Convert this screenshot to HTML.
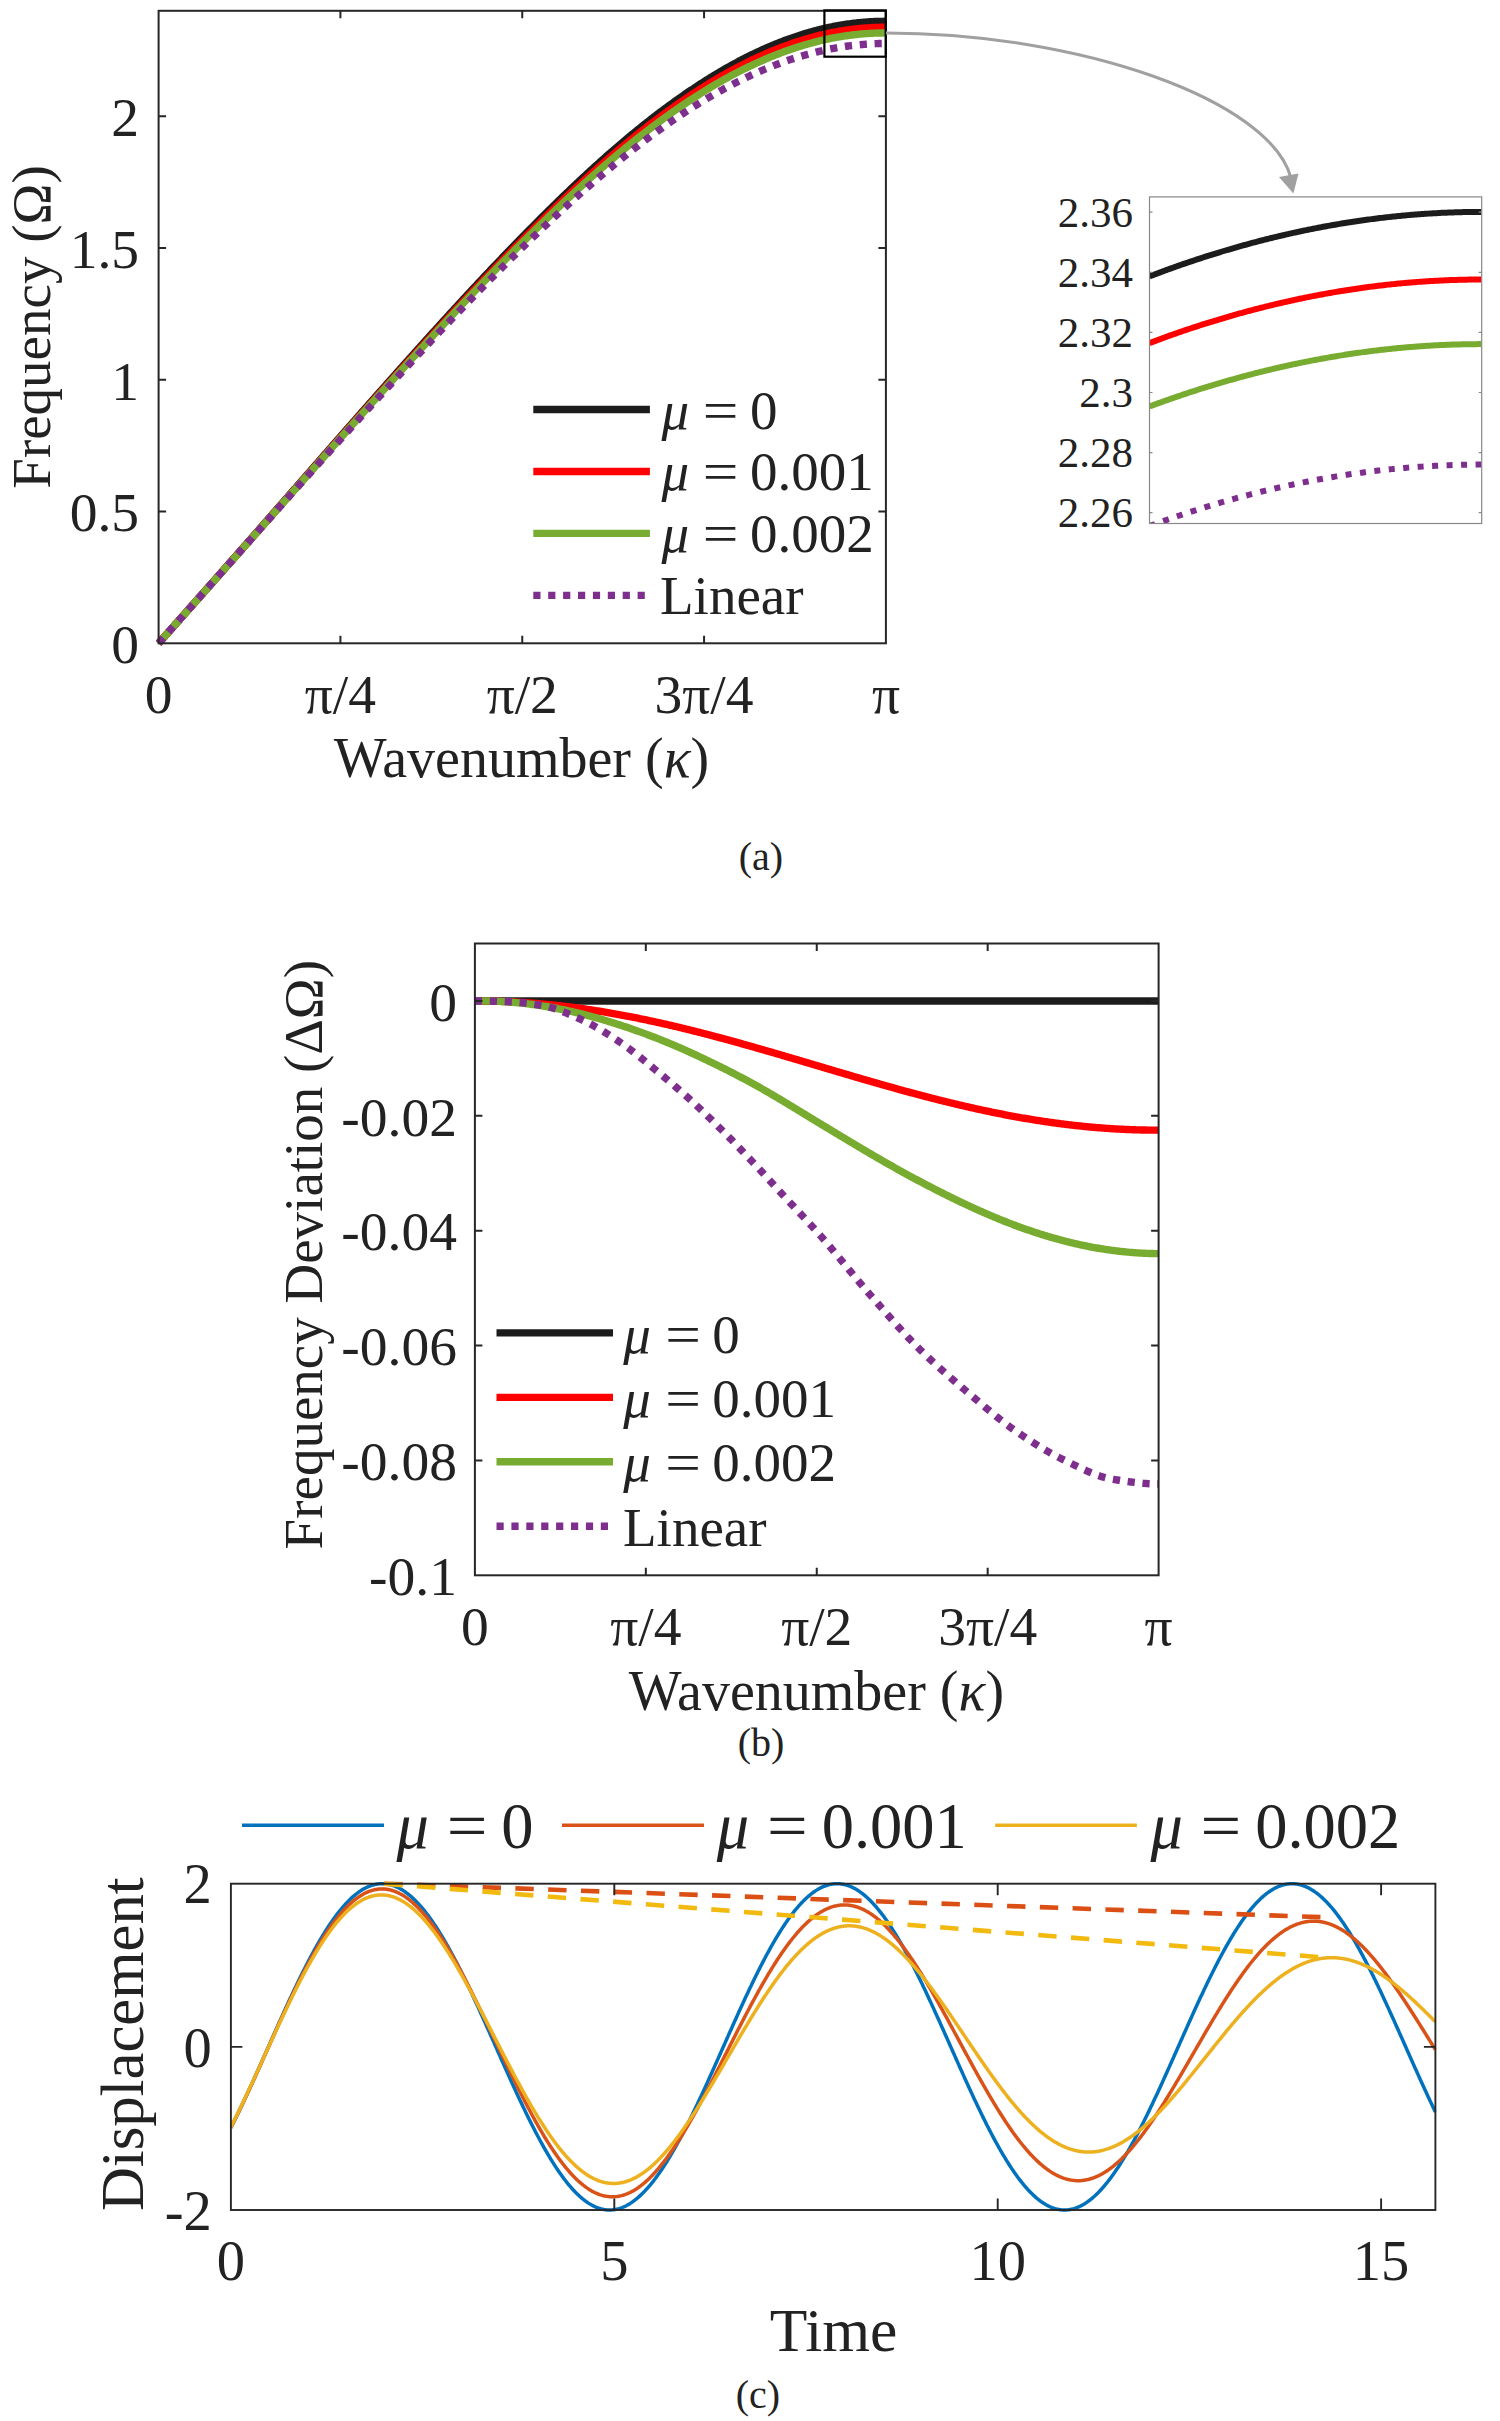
<!DOCTYPE html>
<html><head><meta charset="utf-8"><title>Figure</title>
<style>html,body{margin:0;padding:0;background:#fff;}svg{display:block;}text{font-family:"Liberation Serif", "Times New Roman", serif;fill:#222;}</style>
</head><body>
<svg width="1500" height="2421" viewBox="0 0 1500 2421">
<rect width="1500" height="2421" fill="#fff"/>
<defs>
<clipPath id="ca"><rect x="154.6" y="10.8" width="731.3" height="636.5"/></clipPath>
<clipPath id="ci"><rect x="1149.5" y="196.9" width="332.2" height="326.6"/></clipPath>
<clipPath id="cb"><rect x="470.9" y="943.5" width="687.7" height="631.8"/></clipPath>
<clipPath id="cc"><rect x="229.9" y="1880.7" width="1206.5" height="332.3"/></clipPath>
</defs>
<g clip-path="url(#ca)">
<polyline points="158.6,643.3 160.06,641.66 161.52,640.01 162.97,638.37 164.43,636.72 165.89,635.08 167.35,633.43 168.8,631.79 170.26,630.14 171.72,628.5 173.18,626.85 174.63,625.21 176.09,623.56 177.55,621.92 179.01,620.27 180.46,618.63 181.92,616.98 183.38,615.34 184.84,613.69 186.29,612.04 187.75,610.4 189.21,608.75 190.67,607.11 192.12,605.46 193.58,603.82 195.04,602.17 196.5,600.53 197.95,598.88 199.41,597.23 200.87,595.58 202.33,593.94 203.78,592.29 205.24,590.64 206.7,588.99 208.16,587.35 209.61,585.7 211.07,584.05 212.53,582.4 213.99,580.75 215.44,579.1 216.9,577.45 218.36,575.8 219.82,574.15 221.27,572.5 222.73,570.85 224.19,569.2 225.65,567.55 227.1,565.9 228.56,564.25 230.02,562.6 231.48,560.94 232.93,559.29 234.39,557.64 235.85,555.99 237.31,554.33 238.76,552.67 240.22,551.02 241.68,549.36 243.14,547.7 244.59,546.04 246.05,544.38 247.51,542.72 248.97,541.06 250.42,539.4 251.88,537.74 253.34,536.08 254.8,534.41 256.25,532.75 257.71,531.09 259.17,529.42 260.63,527.76 262.08,526.1 263.54,524.44 265,522.77 266.46,521.11 267.91,519.45 269.37,517.79 270.83,516.12 272.29,514.46 273.74,512.8 275.2,511.14 276.66,509.47 278.12,507.81 279.57,506.15 281.03,504.48 282.49,502.82 283.95,501.15 285.4,499.49 286.86,497.82 288.32,496.16 289.78,494.49 291.23,492.82 292.69,491.16 294.15,489.49 295.61,487.83 297.06,486.16 298.52,484.49 299.98,482.83 301.44,481.16 302.89,479.49 304.35,477.83 305.81,476.16 307.27,474.5 308.72,472.83 310.18,471.17 311.64,469.5 313.1,467.84 314.55,466.17 316.01,464.51 317.47,462.84 318.93,461.17 320.38,459.51 321.84,457.84 323.3,456.18 324.76,454.51 326.21,452.84 327.67,451.18 329.13,449.51 330.59,447.85 332.04,446.18 333.5,444.52 334.96,442.85 336.42,441.19 337.87,439.52 339.33,437.86 340.79,436.19 342.25,434.53 343.7,432.87 345.16,431.21 346.62,429.55 348.08,427.89 349.53,426.23 350.99,424.57 352.45,422.91 353.91,421.25 355.36,419.6 356.82,417.94 358.28,416.28 359.74,414.63 361.19,412.97 362.65,411.32 364.11,409.67 365.57,408.01 367.02,406.36 368.48,404.71 369.94,403.06 371.4,401.41 372.85,399.76 374.31,398.11 375.77,396.46 377.23,394.82 378.68,393.17 380.14,391.52 381.6,389.88 383.06,388.23 384.51,386.59 385.97,384.95 387.43,383.3 388.89,381.66 390.34,380.02 391.8,378.38 393.26,376.74 394.72,375.1 396.17,373.47 397.63,371.83 399.09,370.19 400.55,368.56 402.01,366.92 403.46,365.29 404.92,363.66 406.38,362.02 407.84,360.39 409.29,358.76 410.75,357.13 412.21,355.51 413.67,353.88 415.12,352.25 416.58,350.63 418.04,349.01 419.5,347.38 420.95,345.76 422.41,344.14 423.87,342.53 425.33,340.91 426.78,339.29 428.24,337.68 429.7,336.06 431.16,334.45 432.61,332.84 434.07,331.23 435.53,329.62 436.99,328.01 438.44,326.4 439.9,324.8 441.36,323.19 442.82,321.59 444.27,319.99 445.73,318.39 447.19,316.79 448.65,315.2 450.1,313.6 451.56,312.01 453.02,310.42 454.48,308.83 455.93,307.24 457.39,305.65 458.85,304.07 460.31,302.48 461.76,300.9 463.22,299.32 464.68,297.74 466.14,296.17 467.59,294.59 469.05,293.02 470.51,291.45 471.97,289.88 473.42,288.31 474.88,286.74 476.34,285.18 477.8,283.62 479.25,282.06 480.71,280.5 482.17,278.94 483.63,277.39 485.08,275.84 486.54,274.29 488,272.75 489.46,271.2 490.91,269.66 492.37,268.12 493.83,266.59 495.29,265.06 496.74,263.52 498.2,262 499.66,260.47 501.12,258.95 502.57,257.42 504.03,255.9 505.49,254.39 506.95,252.87 508.4,251.36 509.86,249.85 511.32,248.34 512.78,246.84 514.23,245.34 515.69,243.84 517.15,242.34 518.61,240.84 520.06,239.35 521.52,237.86 522.98,236.37 524.44,234.88 525.89,233.4 527.35,231.92 528.81,230.44 530.27,228.96 531.72,227.48 533.18,226.01 534.64,224.54 536.1,223.08 537.55,221.61 539.01,220.15 540.47,218.69 541.93,217.24 543.38,215.78 544.84,214.33 546.3,212.88 547.76,211.44 549.21,210 550.67,208.56 552.13,207.13 553.59,205.69 555.04,204.27 556.5,202.84 557.96,201.42 559.42,200 560.87,198.58 562.33,197.17 563.79,195.77 565.25,194.36 566.7,192.96 568.16,191.56 569.62,190.17 571.08,188.78 572.53,187.4 573.99,186.02 575.45,184.64 576.91,183.26 578.36,181.9 579.82,180.53 581.28,179.17 582.74,177.81 584.19,176.46 585.65,175.11 587.11,173.76 588.57,172.42 590.02,171.08 591.48,169.75 592.94,168.42 594.4,167.1 595.85,165.77 597.31,164.46 598.77,163.14 600.23,161.83 601.68,160.53 603.14,159.23 604.6,157.93 606.06,156.64 607.51,155.35 608.97,154.07 610.43,152.79 611.89,151.52 613.34,150.25 614.8,148.98 616.26,147.73 617.72,146.47 619.17,145.22 620.63,143.98 622.09,142.74 623.55,141.5 625,140.27 626.46,139.05 627.92,137.83 629.38,136.61 630.83,135.4 632.29,134.2 633.75,133 635.21,131.81 636.66,130.62 638.12,129.44 639.58,128.26 641.04,127.09 642.49,125.92 643.95,124.76 645.41,123.6 646.87,122.45 648.33,121.3 649.78,120.16 651.24,119.03 652.7,117.9 654.16,116.77 655.61,115.65 657.07,114.54 658.53,113.43 659.99,112.33 661.44,111.23 662.9,110.14 664.36,109.05 665.82,107.97 667.27,106.89 668.73,105.82 670.19,104.76 671.65,103.7 673.1,102.64 674.56,101.6 676.02,100.55 677.48,99.52 678.93,98.48 680.39,97.46 681.85,96.44 683.31,95.42 684.76,94.41 686.22,93.41 687.68,92.41 689.14,91.42 690.59,90.43 692.05,89.45 693.51,88.48 694.97,87.51 696.42,86.54 697.88,85.59 699.34,84.63 700.8,83.69 702.25,82.75 703.71,81.82 705.17,80.89 706.63,79.97 708.08,79.05 709.54,78.14 711,77.24 712.46,76.35 713.91,75.46 715.37,74.57 716.83,73.7 718.29,72.83 719.74,71.96 721.2,71.11 722.66,70.26 724.12,69.41 725.57,68.58 727.03,67.75 728.49,66.93 729.95,66.11 731.4,65.3 732.86,64.5 734.32,63.7 735.78,62.92 737.23,62.14 738.69,61.36 740.15,60.59 741.61,59.83 743.06,59.08 744.52,58.33 745.98,57.59 747.44,56.86 748.89,56.13 750.35,55.41 751.81,54.7 753.27,53.99 754.72,53.29 756.18,52.6 757.64,51.91 759.1,51.24 760.55,50.56 762.01,49.9 763.47,49.24 764.93,48.6 766.38,47.95 767.84,47.32 769.3,46.69 770.76,46.07 772.21,45.46 773.67,44.85 775.13,44.25 776.59,43.66 778.04,43.08 779.5,42.51 780.96,41.94 782.42,41.38 783.87,40.82 785.33,40.28 786.79,39.74 788.25,39.21 789.7,38.68 791.16,38.17 792.62,37.66 794.08,37.15 795.53,36.66 796.99,36.17 798.45,35.69 799.91,35.21 801.36,34.75 802.82,34.29 804.28,33.83 805.74,33.39 807.19,32.95 808.65,32.52 810.11,32.1 811.57,31.69 813.02,31.28 814.48,30.89 815.94,30.5 817.4,30.12 818.85,29.74 820.31,29.38 821.77,29.02 823.23,28.67 824.68,28.33 826.14,28 827.6,27.68 829.06,27.36 830.51,27.05 831.97,26.76 833.43,26.47 834.89,26.19 836.34,25.91 837.8,25.65 839.26,25.4 840.72,25.15 842.17,24.91 843.63,24.67 845.09,24.45 846.55,24.23 848,24.02 849.46,23.82 850.92,23.62 852.38,23.44 853.83,23.26 855.29,23.09 856.75,22.92 858.21,22.77 859.66,22.62 861.12,22.48 862.58,22.35 864.04,22.22 865.49,22.11 866.95,22 868.41,21.9 869.87,21.8 871.32,21.72 872.78,21.64 874.24,21.57 875.7,21.51 877.15,21.46 878.61,21.42 880.07,21.38 881.53,21.35 882.98,21.33 884.44,21.32 885.9,21.31" fill="none" stroke="#1c1c1c" stroke-width="7.4" stroke-linejoin="round" />
<polyline points="158.6,643.3 160.06,641.66 161.52,640.01 162.97,638.37 164.43,636.72 165.89,635.08 167.35,633.44 168.8,631.79 170.26,630.15 171.72,628.5 173.18,626.86 174.63,625.22 176.09,623.57 177.55,621.93 179.01,620.28 180.46,618.64 181.92,617 183.38,615.35 184.84,613.71 186.29,612.07 187.75,610.42 189.21,608.78 190.67,607.14 192.12,605.49 193.58,603.85 195.04,602.21 196.5,600.56 197.95,598.92 199.41,597.28 200.87,595.63 202.33,593.99 203.78,592.35 205.24,590.7 206.7,589.06 208.16,587.41 209.61,585.77 211.07,584.12 212.53,582.48 213.99,580.83 215.44,579.19 216.9,577.54 218.36,575.9 219.82,574.25 221.27,572.61 222.73,570.96 224.19,569.32 225.65,567.67 227.1,566.03 228.56,564.38 230.02,562.74 231.48,561.09 232.93,559.44 234.39,557.8 235.85,556.15 237.31,554.5 238.76,552.85 240.22,551.2 241.68,549.55 243.14,547.9 244.59,546.24 246.05,544.59 247.51,542.94 248.97,541.28 250.42,539.63 251.88,537.97 253.34,536.32 254.8,534.66 256.25,533.01 257.71,531.35 259.17,529.7 260.63,528.04 262.08,526.39 263.54,524.74 265,523.08 266.46,521.43 267.91,519.77 269.37,518.12 270.83,516.47 272.29,514.81 273.74,513.16 275.2,511.51 276.66,509.85 278.12,508.2 279.57,506.54 281.03,504.89 282.49,503.23 283.95,501.58 285.4,499.92 286.86,498.27 288.32,496.61 289.78,494.95 291.23,493.3 292.69,491.64 294.15,489.99 295.61,488.33 297.06,486.67 298.52,485.02 299.98,483.36 301.44,481.71 302.89,480.05 304.35,478.4 305.81,476.74 307.27,475.09 308.72,473.43 310.18,471.78 311.64,470.13 313.1,468.47 314.55,466.82 316.01,465.17 317.47,463.51 318.93,461.86 320.38,460.2 321.84,458.55 323.3,456.9 324.76,455.24 326.21,453.59 327.67,451.93 329.13,450.28 330.59,448.63 332.04,446.97 333.5,445.32 334.96,443.67 336.42,442.02 337.87,440.37 339.33,438.72 340.79,437.07 342.25,435.42 343.7,433.77 345.16,432.12 346.62,430.47 348.08,428.82 349.53,427.18 350.99,425.53 352.45,423.89 353.91,422.25 355.36,420.6 356.82,418.96 358.28,417.32 359.74,415.68 361.19,414.04 362.65,412.4 364.11,410.76 365.57,409.12 367.02,407.48 368.48,405.85 369.94,404.21 371.4,402.58 372.85,400.94 374.31,399.31 375.77,397.68 377.23,396.04 378.68,394.41 380.14,392.78 381.6,391.15 383.06,389.52 384.51,387.89 385.97,386.27 387.43,384.64 388.89,383.01 390.34,381.39 391.8,379.76 393.26,378.14 394.72,376.52 396.17,374.89 397.63,373.27 399.09,371.65 400.55,370.03 402.01,368.42 403.46,366.8 404.92,365.18 406.38,363.57 407.84,361.95 409.29,360.34 410.75,358.73 412.21,357.12 413.67,355.51 415.12,353.9 416.58,352.29 418.04,350.68 419.5,349.08 420.95,347.47 422.41,345.87 423.87,344.27 425.33,342.67 426.78,341.07 428.24,339.47 429.7,337.87 431.16,336.28 432.61,334.68 434.07,333.09 435.53,331.5 436.99,329.91 438.44,328.32 439.9,326.73 441.36,325.14 442.82,323.56 444.27,321.98 445.73,320.39 447.19,318.81 448.65,317.24 450.1,315.66 451.56,314.08 453.02,312.51 454.48,310.94 455.93,309.37 457.39,307.8 458.85,306.23 460.31,304.67 461.76,303.1 463.22,301.54 464.68,299.98 466.14,298.42 467.59,296.86 469.05,295.31 470.51,293.75 471.97,292.2 473.42,290.65 474.88,289.1 476.34,287.56 477.8,286.02 479.25,284.47 480.71,282.94 482.17,281.4 483.63,279.86 485.08,278.33 486.54,276.8 488,275.28 489.46,273.75 490.91,272.23 492.37,270.71 493.83,269.19 495.29,267.68 496.74,266.16 498.2,264.65 499.66,263.15 501.12,261.64 502.57,260.14 504.03,258.64 505.49,257.14 506.95,255.64 508.4,254.15 509.86,252.66 511.32,251.17 512.78,249.68 514.23,248.2 515.69,246.72 517.15,245.24 518.61,243.76 520.06,242.29 521.52,240.81 522.98,239.34 524.44,237.87 525.89,236.41 527.35,234.95 528.81,233.49 530.27,232.03 531.72,230.57 533.18,229.12 534.64,227.67 536.1,226.22 537.55,224.77 539.01,223.33 540.47,221.89 541.93,220.45 543.38,219.02 544.84,217.59 546.3,216.16 547.76,214.73 549.21,213.31 550.67,211.89 552.13,210.47 553.59,209.06 555.04,207.65 556.5,206.24 557.96,204.84 559.42,203.44 560.87,202.04 562.33,200.65 563.79,199.26 565.25,197.87 566.7,196.49 568.16,195.11 569.62,193.74 571.08,192.37 572.53,191 573.99,189.64 575.45,188.28 576.91,186.92 578.36,185.57 579.82,184.23 581.28,182.88 582.74,181.54 584.19,180.21 585.65,178.88 587.11,177.55 588.57,176.23 590.02,174.91 591.48,173.59 592.94,172.28 594.4,170.97 595.85,169.67 597.31,168.37 598.77,167.07 600.23,165.78 601.68,164.49 603.14,163.21 604.6,161.93 606.06,160.65 607.51,159.38 608.97,158.12 610.43,156.86 611.89,155.6 613.34,154.35 614.8,153.1 616.26,151.86 617.72,150.62 619.17,149.39 620.63,148.16 622.09,146.94 623.55,145.72 625,144.51 626.46,143.3 627.92,142.1 629.38,140.9 630.83,139.71 632.29,138.52 633.75,137.34 635.21,136.16 636.66,134.99 638.12,133.83 639.58,132.66 641.04,131.51 642.49,130.36 643.95,129.21 645.41,128.07 646.87,126.93 648.33,125.8 649.78,124.68 651.24,123.56 652.7,122.45 654.16,121.34 655.61,120.23 657.07,119.13 658.53,118.04 659.99,116.95 661.44,115.87 662.9,114.79 664.36,113.72 665.82,112.66 667.27,111.6 668.73,110.54 670.19,109.49 671.65,108.45 673.1,107.41 674.56,106.37 676.02,105.35 677.48,104.32 678.93,103.31 680.39,102.29 681.85,101.29 683.31,100.29 684.76,99.29 686.22,98.3 687.68,97.32 689.14,96.34 690.59,95.37 692.05,94.4 693.51,93.44 694.97,92.48 696.42,91.53 697.88,90.59 699.34,89.65 700.8,88.72 702.25,87.79 703.71,86.87 705.17,85.96 706.63,85.05 708.08,84.15 709.54,83.25 711,82.36 712.46,81.48 713.91,80.6 715.37,79.73 716.83,78.87 718.29,78.01 719.74,77.16 721.2,76.32 722.66,75.48 724.12,74.65 725.57,73.82 727.03,73.01 728.49,72.2 729.95,71.39 731.4,70.59 732.86,69.8 734.32,69.02 735.78,68.24 737.23,67.47 738.69,66.71 740.15,65.95 741.61,65.2 743.06,64.46 744.52,63.72 745.98,62.99 747.44,62.27 748.89,61.55 750.35,60.84 751.81,60.14 753.27,59.45 754.72,58.76 756.18,58.07 757.64,57.4 759.1,56.73 760.55,56.07 762.01,55.42 763.47,54.77 764.93,54.13 766.38,53.5 767.84,52.87 769.3,52.25 770.76,51.64 772.21,51.04 773.67,50.44 775.13,49.85 776.59,49.27 778.04,48.69 779.5,48.13 780.96,47.57 782.42,47.02 783.87,46.47 785.33,45.93 786.79,45.4 788.25,44.88 789.7,44.36 791.16,43.85 792.62,43.35 794.08,42.85 795.53,42.36 796.99,41.88 798.45,41.41 799.91,40.94 801.36,40.48 802.82,40.03 804.28,39.58 805.74,39.14 807.19,38.71 808.65,38.29 810.11,37.87 811.57,37.47 813.02,37.07 814.48,36.68 815.94,36.29 817.4,35.92 818.85,35.55 820.31,35.19 821.77,34.84 823.23,34.49 824.68,34.16 826.14,33.83 827.6,33.51 829.06,33.2 830.51,32.9 831.97,32.61 833.43,32.32 834.89,32.04 836.34,31.78 837.8,31.52 839.26,31.27 840.72,31.02 842.17,30.78 843.63,30.55 845.09,30.33 846.55,30.12 848,29.91 849.46,29.71 850.92,29.52 852.38,29.34 853.83,29.16 855.29,28.99 856.75,28.83 858.21,28.68 859.66,28.53 861.12,28.39 862.58,28.26 864.04,28.14 865.49,28.02 866.95,27.92 868.41,27.82 869.87,27.73 871.32,27.64 872.78,27.57 874.24,27.5 875.7,27.44 877.15,27.39 878.61,27.34 880.07,27.31 881.53,27.28 882.98,27.26 884.44,27.25 885.9,27.24" fill="none" stroke="#ff0000" stroke-width="7.4" stroke-linejoin="round" />
<polyline points="158.6,643.3 160.06,641.66 161.52,640.01 162.97,638.37 164.43,636.72 165.89,635.08 167.35,633.43 168.8,631.79 170.26,630.14 171.72,628.5 173.18,626.86 174.63,625.21 176.09,623.57 177.55,621.93 179.01,620.28 180.46,618.64 181.92,617 183.38,615.35 184.84,613.71 186.29,612.07 187.75,610.43 189.21,608.79 190.67,607.14 192.12,605.5 193.58,603.86 195.04,602.22 196.5,600.58 197.95,598.94 199.41,597.3 200.87,595.66 202.33,594.01 203.78,592.37 205.24,590.73 206.7,589.09 208.16,587.45 209.61,585.8 211.07,584.16 212.53,582.52 213.99,580.88 215.44,579.24 216.9,577.59 218.36,575.95 219.82,574.31 221.27,572.67 222.73,571.03 224.19,569.39 225.65,567.74 227.1,566.1 228.56,564.46 230.02,562.82 231.48,561.18 232.93,559.54 234.39,557.9 235.85,556.25 237.31,554.61 238.76,552.96 240.22,551.32 241.68,549.67 243.14,548.02 244.59,546.38 246.05,544.73 247.51,543.08 248.97,541.43 250.42,539.78 251.88,538.13 253.34,536.49 254.8,534.84 256.25,533.19 257.71,531.54 259.17,529.89 260.63,528.24 262.08,526.59 263.54,524.94 265,523.29 266.46,521.65 267.91,520 269.37,518.35 270.83,516.71 272.29,515.06 273.74,513.41 275.2,511.77 276.66,510.12 278.12,508.47 279.57,506.82 281.03,505.18 282.49,503.53 283.95,501.88 285.4,500.23 286.86,498.59 288.32,496.94 289.78,495.29 291.23,493.64 292.69,491.99 294.15,490.35 295.61,488.7 297.06,487.05 298.52,485.4 299.98,483.76 301.44,482.11 302.89,480.46 304.35,478.82 305.81,477.17 307.27,475.52 308.72,473.88 310.18,472.23 311.64,470.59 313.1,468.94 314.55,467.3 316.01,465.65 317.47,464.01 318.93,462.37 320.38,460.72 321.84,459.08 323.3,457.43 324.76,455.79 326.21,454.14 327.67,452.5 329.13,450.85 330.59,449.21 332.04,447.57 333.5,445.92 334.96,444.28 336.42,442.64 337.87,441 339.33,439.36 340.79,437.72 342.25,436.08 343.7,434.44 345.16,432.8 346.62,431.17 348.08,429.53 349.53,427.89 350.99,426.26 352.45,424.63 353.91,422.99 355.36,421.36 356.82,419.73 358.28,418.1 359.74,416.47 361.19,414.84 362.65,413.21 364.11,411.59 365.57,409.96 367.02,408.33 368.48,406.71 369.94,405.09 371.4,403.46 372.85,401.84 374.31,400.22 375.77,398.6 377.23,396.98 378.68,395.36 380.14,393.74 381.6,392.12 383.06,390.51 384.51,388.89 385.97,387.28 387.43,385.66 388.89,384.05 390.34,382.44 391.8,380.83 393.26,379.22 394.72,377.61 396.17,376 397.63,374.39 399.09,372.78 400.55,371.18 402.01,369.57 403.46,367.97 404.92,366.37 406.38,364.76 407.84,363.16 409.29,361.56 410.75,359.97 412.21,358.37 413.67,356.77 415.12,355.18 416.58,353.58 418.04,351.99 419.5,350.4 420.95,348.81 422.41,347.22 423.87,345.63 425.33,344.05 426.78,342.46 428.24,340.88 429.7,339.3 431.16,337.72 432.61,336.14 434.07,334.56 435.53,332.98 436.99,331.41 438.44,329.83 439.9,328.26 441.36,326.69 442.82,325.12 444.27,323.55 445.73,321.99 447.19,320.42 448.65,318.86 450.1,317.3 451.56,315.74 453.02,314.18 454.48,312.63 455.93,311.08 457.39,309.52 458.85,307.97 460.31,306.42 461.76,304.88 463.22,303.33 464.68,301.79 466.14,300.25 467.59,298.71 469.05,297.17 470.51,295.64 471.97,294.1 473.42,292.57 474.88,291.04 476.34,289.52 477.8,287.99 479.25,286.47 480.71,284.95 482.17,283.43 483.63,281.92 485.08,280.4 486.54,278.89 488,277.38 489.46,275.88 490.91,274.38 492.37,272.88 493.83,271.38 495.29,269.88 496.74,268.39 498.2,266.9 499.66,265.41 501.12,263.92 502.57,262.44 504.03,260.96 505.49,259.48 506.95,258.01 508.4,256.53 509.86,255.06 511.32,253.59 512.78,252.13 514.23,250.66 515.69,249.2 517.15,247.74 518.61,246.28 520.06,244.83 521.52,243.37 522.98,241.92 524.44,240.47 525.89,239.03 527.35,237.58 528.81,236.14 530.27,234.7 531.72,233.27 533.18,231.83 534.64,230.4 536.1,228.97 537.55,227.55 539.01,226.12 540.47,224.7 541.93,223.28 543.38,221.87 544.84,220.46 546.3,219.05 547.76,217.64 549.21,216.24 550.67,214.84 552.13,213.44 553.59,212.04 555.04,210.65 556.5,209.27 557.96,207.88 559.42,206.5 560.87,205.12 562.33,203.75 563.79,202.38 565.25,201.01 566.7,199.65 568.16,198.29 569.62,196.93 571.08,195.58 572.53,194.23 573.99,192.89 575.45,191.55 576.91,190.21 578.36,188.88 579.82,187.55 581.28,186.23 582.74,184.91 584.19,183.59 585.65,182.28 587.11,180.97 588.57,179.66 590.02,178.36 591.48,177.07 592.94,175.77 594.4,174.48 595.85,173.2 597.31,171.91 598.77,170.64 600.23,169.36 601.68,168.09 603.14,166.83 604.6,165.57 606.06,164.31 607.51,163.06 608.97,161.81 610.43,160.57 611.89,159.33 613.34,158.1 614.8,156.87 616.26,155.64 617.72,154.42 619.17,153.21 620.63,152 622.09,150.79 623.55,149.59 625,148.39 626.46,147.2 627.92,146.02 629.38,144.84 630.83,143.66 632.29,142.49 633.75,141.32 635.21,140.16 636.66,139.01 638.12,137.86 639.58,136.71 641.04,135.57 642.49,134.44 643.95,133.31 645.41,132.19 646.87,131.07 648.33,129.95 649.78,128.84 651.24,127.74 652.7,126.64 654.16,125.55 655.61,124.46 657.07,123.38 658.53,122.3 659.99,121.23 661.44,120.16 662.9,119.1 664.36,118.05 665.82,117 667.27,115.95 668.73,114.91 670.19,113.88 671.65,112.85 673.1,111.82 674.56,110.81 676.02,109.79 677.48,108.78 678.93,107.78 680.39,106.79 681.85,105.8 683.31,104.81 684.76,103.83 686.22,102.86 687.68,101.89 689.14,100.92 690.59,99.96 692.05,99.01 693.51,98.06 694.97,97.12 696.42,96.19 697.88,95.26 699.34,94.33 700.8,93.42 702.25,92.5 703.71,91.6 705.17,90.7 706.63,89.8 708.08,88.91 709.54,88.03 711,87.16 712.46,86.29 713.91,85.42 715.37,84.57 716.83,83.72 718.29,82.87 719.74,82.03 721.2,81.2 722.66,80.38 724.12,79.56 725.57,78.75 727.03,77.94 728.49,77.14 729.95,76.35 731.4,75.57 732.86,74.79 734.32,74.02 735.78,73.25 737.23,72.5 738.69,71.74 740.15,71 741.61,70.26 743.06,69.53 744.52,68.8 745.98,68.08 747.44,67.37 748.89,66.67 750.35,65.97 751.81,65.28 753.27,64.59 754.72,63.91 756.18,63.24 757.64,62.58 759.1,61.92 760.55,61.27 762.01,60.62 763.47,59.99 764.93,59.36 766.38,58.73 767.84,58.12 769.3,57.51 770.76,56.91 772.21,56.31 773.67,55.73 775.13,55.15 776.59,54.57 778.04,54.01 779.5,53.45 780.96,52.9 782.42,52.35 783.87,51.82 785.33,51.29 786.79,50.77 788.25,50.25 789.7,49.74 791.16,49.24 792.62,48.75 794.08,48.26 795.53,47.78 796.99,47.3 798.45,46.83 799.91,46.37 801.36,45.92 802.82,45.48 804.28,45.04 805.74,44.61 807.19,44.18 808.65,43.77 810.11,43.36 811.57,42.96 813.02,42.56 814.48,42.18 815.94,41.8 817.4,41.43 818.85,41.07 820.31,40.71 821.77,40.37 823.23,40.03 824.68,39.7 826.14,39.38 827.6,39.06 829.06,38.76 830.51,38.46 831.97,38.17 833.43,37.89 834.89,37.62 836.34,37.36 837.8,37.1 839.26,36.86 840.72,36.62 842.17,36.38 843.63,36.16 845.09,35.94 846.55,35.73 848,35.52 849.46,35.33 850.92,35.14 852.38,34.96 853.83,34.79 855.29,34.62 856.75,34.46 858.21,34.31 859.66,34.17 861.12,34.03 862.58,33.9 864.04,33.78 865.49,33.67 866.95,33.57 868.41,33.47 869.87,33.38 871.32,33.3 872.78,33.22 874.24,33.16 875.7,33.1 877.15,33.05 878.61,33.01 880.07,32.97 881.53,32.94 882.98,32.93 884.44,32.91 885.9,32.91" fill="none" stroke="#77ac30" stroke-width="7.4" stroke-linejoin="round" />
<polyline points="158.6,643.3 160.06,641.66 161.52,640.01 162.97,638.37 164.43,636.72 165.89,635.08 167.35,633.44 168.8,631.79 170.26,630.15 171.72,628.5 173.18,626.86 174.63,625.22 176.09,623.57 177.55,621.93 179.01,620.29 180.46,618.64 181.92,617 183.38,615.35 184.84,613.71 186.29,612.07 187.75,610.42 189.21,608.78 190.67,607.14 192.12,605.49 193.58,603.85 195.04,602.21 196.5,600.56 197.95,598.92 199.41,597.28 200.87,595.64 202.33,593.99 203.78,592.35 205.24,590.71 206.7,589.07 208.16,587.42 209.61,585.78 211.07,584.14 212.53,582.5 213.99,580.86 215.44,579.21 216.9,577.57 218.36,575.93 219.82,574.29 221.27,572.65 222.73,571.01 224.19,569.37 225.65,567.73 227.1,566.09 228.56,564.44 230.02,562.8 231.48,561.16 232.93,559.52 234.39,557.88 235.85,556.25 237.31,554.61 238.76,552.97 240.22,551.33 241.68,549.69 243.14,548.05 244.59,546.41 246.05,544.77 247.51,543.14 248.97,541.5 250.42,539.86 251.88,538.22 253.34,536.59 254.8,534.95 256.25,533.31 257.71,531.68 259.17,530.04 260.63,528.4 262.08,526.77 263.54,525.13 265,523.5 266.46,521.86 267.91,520.23 269.37,518.59 270.83,516.96 272.29,515.33 273.74,513.69 275.2,512.06 276.66,510.43 278.12,508.8 279.57,507.16 281.03,505.53 282.49,503.9 283.95,502.27 285.4,500.64 286.86,499.01 288.32,497.38 289.78,495.75 291.23,494.12 292.69,492.49 294.15,490.86 295.61,489.24 297.06,487.61 298.52,485.98 299.98,484.35 301.44,482.73 302.89,481.1 304.35,479.48 305.81,477.85 307.27,476.23 308.72,474.6 310.18,472.98 311.64,471.36 313.1,469.73 314.55,468.11 316.01,466.49 317.47,464.87 318.93,463.25 320.38,461.63 321.84,460.01 323.3,458.39 324.76,456.77 326.21,455.15 327.67,453.53 329.13,451.92 330.59,450.3 332.04,448.69 333.5,447.07 334.96,445.46 336.42,443.84 337.87,442.23 339.33,440.62 340.79,439.01 342.25,437.39 343.7,435.78 345.16,434.17 346.62,432.56 348.08,430.96 349.53,429.35 350.99,427.74 352.45,426.13 353.91,424.53 355.36,422.92 356.82,421.32 358.28,419.72 359.74,418.11 361.19,416.51 362.65,414.91 364.11,413.31 365.57,411.71 367.02,410.11 368.48,408.52 369.94,406.92 371.4,405.32 372.85,403.73 374.31,402.13 375.77,400.54 377.23,398.95 378.68,397.36 380.14,395.77 381.6,394.18 383.06,392.59 384.51,391 385.97,389.42 387.43,387.83 388.89,386.25 390.34,384.66 391.8,383.08 393.26,381.5 394.72,379.92 396.17,378.34 397.63,376.76 399.09,375.18 400.55,373.61 402.01,372.03 403.46,370.46 404.92,368.89 406.38,367.32 407.84,365.75 409.29,364.18 410.75,362.61 412.21,361.04 413.67,359.48 415.12,357.92 416.58,356.35 418.04,354.79 419.5,353.23 420.95,351.67 422.41,350.12 423.87,348.56 425.33,347.01 426.78,345.45 428.24,343.9 429.7,342.35 431.16,340.8 432.61,339.26 434.07,337.71 435.53,336.17 436.99,334.62 438.44,333.08 439.9,331.54 441.36,330.01 442.82,328.47 444.27,326.94 445.73,325.4 447.19,323.87 448.65,322.34 450.1,320.81 451.56,319.29 453.02,317.76 454.48,316.24 455.93,314.72 457.39,313.2 458.85,311.68 460.31,310.16 461.76,308.65 463.22,307.14 464.68,305.63 466.14,304.12 467.59,302.61 469.05,301.11 470.51,299.61 471.97,298.11 473.42,296.61 474.88,295.11 476.34,293.62 477.8,292.12 479.25,290.63 480.71,289.14 482.17,287.66 483.63,286.17 485.08,284.69 486.54,283.21 488,281.73 489.46,280.26 490.91,278.78 492.37,277.31 493.83,275.85 495.29,274.38 496.74,272.91 498.2,271.45 499.66,269.99 501.12,268.54 502.57,267.08 504.03,265.63 505.49,264.18 506.95,262.73 508.4,261.29 509.86,259.85 511.32,258.41 512.78,256.97 514.23,255.53 515.69,254.1 517.15,252.67 518.61,251.25 520.06,249.82 521.52,248.4 522.98,246.98 524.44,245.57 525.89,244.15 527.35,242.74 528.81,241.34 530.27,239.93 531.72,238.53 533.18,237.13 534.64,235.74 536.1,234.34 537.55,232.95 539.01,231.57 540.47,230.18 541.93,228.8 543.38,227.43 544.84,226.05 546.3,224.68 547.76,223.31 549.21,221.95 550.67,220.58 552.13,219.22 553.59,217.87 555.04,216.52 556.5,215.17 557.96,213.82 559.42,212.48 560.87,211.14 562.33,209.81 563.79,208.47 565.25,207.15 566.7,205.82 568.16,204.5 569.62,203.18 571.08,201.87 572.53,200.55 573.99,199.25 575.45,197.94 576.91,196.64 578.36,195.35 579.82,194.05 581.28,192.76 582.74,191.48 584.19,190.2 585.65,188.92 587.11,187.65 588.57,186.38 590.02,185.11 591.48,183.85 592.94,182.59 594.4,181.34 595.85,180.09 597.31,178.84 598.77,177.6 600.23,176.36 601.68,175.13 603.14,173.9 604.6,172.67 606.06,171.45 607.51,170.23 608.97,169.02 610.43,167.81 611.89,166.61 613.34,165.41 614.8,164.21 616.26,163.02 617.72,161.83 619.17,160.65 620.63,159.47 622.09,158.3 623.55,157.13 625,155.96 626.46,154.8 627.92,153.65 629.38,152.5 630.83,151.35 632.29,150.21 633.75,149.07 635.21,147.94 636.66,146.81 638.12,145.69 639.58,144.57 641.04,143.46 642.49,142.35 643.95,141.25 645.41,140.15 646.87,139.06 648.33,137.97 649.78,136.88 651.24,135.81 652.7,134.73 654.16,133.66 655.61,132.6 657.07,131.54 658.53,130.49 659.99,129.44 661.44,128.4 662.9,127.36 664.36,126.33 665.82,125.3 667.27,124.28 668.73,123.27 670.19,122.25 671.65,121.25 673.1,120.25 674.56,119.25 676.02,118.27 677.48,117.28 678.93,116.3 680.39,115.33 681.85,114.36 683.31,113.4 684.76,112.45 686.22,111.5 687.68,110.55 689.14,109.61 690.59,108.68 692.05,107.75 693.51,106.83 694.97,105.91 696.42,105 697.88,104.1 699.34,103.2 700.8,102.31 702.25,101.42 703.71,100.54 705.17,99.67 706.63,98.8 708.08,97.93 709.54,97.08 711,96.23 712.46,95.38 713.91,94.54 715.37,93.71 716.83,92.88 718.29,92.06 719.74,91.25 721.2,90.44 722.66,89.64 724.12,88.84 725.57,88.05 727.03,87.27 728.49,86.49 729.95,85.72 731.4,84.96 732.86,84.2 734.32,83.45 735.78,82.71 737.23,81.97 738.69,81.24 740.15,80.51 741.61,79.79 743.06,79.08 744.52,78.37 745.98,77.67 747.44,76.98 748.89,76.3 750.35,75.62 751.81,74.94 753.27,74.28 754.72,73.62 756.18,72.97 757.64,72.32 759.1,71.68 760.55,71.05 762.01,70.42 763.47,69.8 764.93,69.19 766.38,68.59 767.84,67.99 769.3,67.39 770.76,66.81 772.21,66.23 773.67,65.66 775.13,65.1 776.59,64.54 778.04,63.99 779.5,63.45 780.96,62.91 782.42,62.38 783.87,61.86 785.33,61.34 786.79,60.84 788.25,60.34 789.7,59.84 791.16,59.35 792.62,58.87 794.08,58.4 795.53,57.94 796.99,57.48 798.45,57.03 799.91,56.58 801.36,56.15 802.82,55.72 804.28,55.3 805.74,54.88 807.19,54.47 808.65,54.07 810.11,53.68 811.57,53.29 813.02,52.91 814.48,52.54 815.94,52.18 817.4,51.82 818.85,51.47 820.31,51.13 821.77,50.8 823.23,50.47 824.68,50.15 826.14,49.84 827.6,49.53 829.06,49.23 830.51,48.94 831.97,48.66 833.43,48.38 834.89,48.12 836.34,47.86 837.8,47.6 839.26,47.36 840.72,47.12 842.17,46.89 843.63,46.67 845.09,46.45 846.55,46.24 848,46.04 849.46,45.85 850.92,45.66 852.38,45.49 853.83,45.31 855.29,45.15 856.75,45 858.21,44.85 859.66,44.71 861.12,44.58 862.58,44.45 864.04,44.33 865.49,44.22 866.95,44.12 868.41,44.03 869.87,43.94 871.32,43.86 872.78,43.79 874.24,43.72 875.7,43.66 877.15,43.62 878.61,43.57 880.07,43.54 881.53,43.51 882.98,43.49 884.44,43.48 885.9,43.48" fill="none" stroke="#7e2f8e" stroke-width="7.4" stroke-linejoin="round" stroke-dasharray="7.2 7.7"/>
</g>
<rect x="158.6" y="10.8" width="727.3" height="632.5" fill="none" stroke="#262626" stroke-width="2"/>
<path d="M340.42,643.3v-7.5M340.42,10.8v7.5M522.25,643.3v-7.5M522.25,10.8v7.5M704.07,643.3v-7.5M704.07,10.8v7.5M158.6,511.53h7.5M885.9,511.53h-7.5M158.6,379.76h7.5M885.9,379.76h-7.5M158.6,247.99h7.5M885.9,247.99h-7.5M158.6,116.22h7.5M885.9,116.22h-7.5" stroke="#262626" stroke-width="2" fill="none"/>
<text x="139.1" y="663.1" font-size="55.5" text-anchor="end" >0</text>
<text x="139.1" y="531.33" font-size="55.5" text-anchor="end" >0.5</text>
<text x="139.1" y="399.56" font-size="55.5" text-anchor="end" >1</text>
<text x="139.1" y="267.79" font-size="55.5" text-anchor="end" >1.5</text>
<text x="139.1" y="136.02" font-size="55.5" text-anchor="end" >2</text>
<text x="158.6" y="713" font-size="55.5" text-anchor="middle" >0</text>
<text x="340.42" y="713" font-size="55.5" text-anchor="middle" >π/4</text>
<text x="522.25" y="713" font-size="55.5" text-anchor="middle" >π/2</text>
<text x="704.07" y="713" font-size="55.5" text-anchor="middle" >3π/4</text>
<text x="885.9" y="713" font-size="55.5" text-anchor="middle" >π</text>
<text x="521.5" y="777.2" font-size="56" text-anchor="middle" >Wavenumber (<tspan font-style="italic">κ</tspan>)</text>
<text x="49.6" y="327" font-size="55" text-anchor="middle" transform="rotate(-90 49.6 327)">Frequency (Ω)</text>
<line x1="533.3" y1="409.5" x2="649.9" y2="409.5" stroke="#1c1c1c" stroke-width="7.4" />
<text x="661.55" y="428.5" font-size="55" font-style="italic" fill="#000">μ</text>
<text transform="translate(702.85,428.5) scale(1.15,1)" font-size="55" fill="#000">=</text>
<text x="749.9" y="428.5" font-size="55" fill="#000">0</text>
<line x1="533.3" y1="471.45" x2="649.9" y2="471.45" stroke="#ff0000" stroke-width="7.4" />
<text x="661.55" y="490.45" font-size="55" font-style="italic" fill="#000">μ</text>
<text transform="translate(702.85,490.45) scale(1.15,1)" font-size="55" fill="#000">=</text>
<text x="749.9" y="490.45" font-size="55" fill="#000">0.001</text>
<line x1="533.3" y1="533.4" x2="649.9" y2="533.4" stroke="#77ac30" stroke-width="7.4" />
<text x="661.55" y="552.4" font-size="55" font-style="italic" fill="#000">μ</text>
<text transform="translate(702.85,552.4) scale(1.15,1)" font-size="55" fill="#000">=</text>
<text x="749.9" y="552.4" font-size="55" fill="#000">0.002</text>
<line x1="533.3" y1="595.35" x2="649.9" y2="595.35" stroke="#7e2f8e" stroke-width="7.4" stroke-dasharray="7.2 7.7"/>
<text x="660" y="614.35" font-size="55" text-anchor="start" fill="#000">Linear</text>
<rect x="824.4" y="10.4" width="61.3" height="46.3" fill="none" stroke="#000" stroke-width="2.2"/>
<path d="M886,33 C1080,33 1270,100 1291,178" fill="none" stroke="#a0a0a0" stroke-width="3"/>
<path d="M1279,177 L1298.5,173.4 L1293.4,193.5 Z" fill="#a0a0a0"/>
<g clip-path="url(#ci)">
<polyline points="1149.5,276.45 1151.17,275.8 1152.84,275.16 1154.51,274.52 1156.18,273.88 1157.85,273.25 1159.52,272.62 1161.19,272 1162.85,271.37 1164.52,270.76 1166.19,270.14 1167.86,269.53 1169.53,268.92 1171.2,268.32 1172.87,267.72 1174.54,267.12 1176.21,266.53 1177.88,265.94 1179.55,265.36 1181.22,264.77 1182.89,264.19 1184.56,263.62 1186.23,263.05 1187.89,262.48 1189.56,261.91 1191.23,261.35 1192.9,260.79 1194.57,260.23 1196.24,259.68 1197.91,259.13 1199.58,258.58 1201.25,258.04 1202.92,257.5 1204.59,256.96 1206.26,256.43 1207.93,255.89 1209.6,255.37 1211.27,254.84 1212.94,254.32 1214.6,253.8 1216.27,253.28 1217.94,252.77 1219.61,252.26 1221.28,251.75 1222.95,251.25 1224.62,250.75 1226.29,250.25 1227.96,249.76 1229.63,249.27 1231.3,248.78 1232.97,248.29 1234.64,247.81 1236.31,247.33 1237.98,246.86 1239.64,246.39 1241.31,245.92 1242.98,245.45 1244.65,244.99 1246.32,244.53 1247.99,244.07 1249.66,243.62 1251.33,243.17 1253,242.72 1254.67,242.28 1256.34,241.84 1258.01,241.4 1259.68,240.96 1261.35,240.53 1263.02,240.1 1264.68,239.68 1266.35,239.26 1268.02,238.84 1269.69,238.42 1271.36,238.01 1273.03,237.6 1274.7,237.2 1276.37,236.79 1278.04,236.39 1279.71,236 1281.38,235.6 1283.05,235.21 1284.72,234.83 1286.39,234.44 1288.06,234.06 1289.73,233.68 1291.39,233.31 1293.06,232.94 1294.73,232.57 1296.4,232.21 1298.07,231.85 1299.74,231.49 1301.41,231.13 1303.08,230.78 1304.75,230.43 1306.42,230.09 1308.09,229.74 1309.76,229.41 1311.43,229.07 1313.1,228.74 1314.77,228.41 1316.43,228.08 1318.1,227.76 1319.77,227.44 1321.44,227.12 1323.11,226.81 1324.78,226.5 1326.45,226.19 1328.12,225.89 1329.79,225.59 1331.46,225.29 1333.13,225 1334.8,224.71 1336.47,224.42 1338.14,224.14 1339.81,223.85 1341.47,223.58 1343.14,223.3 1344.81,223.03 1346.48,222.76 1348.15,222.5 1349.82,222.24 1351.49,221.98 1353.16,221.72 1354.83,221.47 1356.5,221.22 1358.17,220.98 1359.84,220.73 1361.51,220.49 1363.18,220.26 1364.85,220.03 1366.52,219.8 1368.18,219.57 1369.85,219.35 1371.52,219.13 1373.19,218.91 1374.86,218.7 1376.53,218.49 1378.2,218.28 1379.87,218.08 1381.54,217.88 1383.21,217.69 1384.88,217.49 1386.55,217.3 1388.22,217.12 1389.89,216.93 1391.56,216.75 1393.22,216.57 1394.89,216.4 1396.56,216.23 1398.23,216.06 1399.9,215.9 1401.57,215.74 1403.24,215.58 1404.91,215.43 1406.58,215.28 1408.25,215.13 1409.92,214.99 1411.59,214.84 1413.26,214.71 1414.93,214.57 1416.6,214.44 1418.26,214.31 1419.93,214.19 1421.6,214.07 1423.27,213.95 1424.94,213.84 1426.61,213.72 1428.28,213.62 1429.95,213.51 1431.62,213.41 1433.29,213.31 1434.96,213.22 1436.63,213.13 1438.3,213.04 1439.97,212.95 1441.64,212.87 1443.31,212.79 1444.97,212.72 1446.64,212.65 1448.31,212.58 1449.98,212.52 1451.65,212.45 1453.32,212.4 1454.99,212.34 1456.66,212.29 1458.33,212.24 1460,212.2 1461.67,212.15 1463.34,212.12 1465.01,212.08 1466.68,212.05 1468.35,212.02 1470.01,212 1471.68,211.97 1473.35,211.96 1475.02,211.94 1476.69,211.93 1478.36,211.92 1480.03,211.92 1481.7,211.91" fill="none" stroke="#1c1c1c" stroke-width="6" stroke-linejoin="round" />
<polyline points="1149.5,343.1 1151.17,342.46 1152.84,341.83 1154.51,341.2 1156.18,340.57 1157.85,339.95 1159.52,339.33 1161.19,338.71 1162.85,338.1 1164.52,337.49 1166.19,336.89 1167.86,336.29 1169.53,335.69 1171.2,335.09 1172.87,334.5 1174.54,333.91 1176.21,333.33 1177.88,332.75 1179.55,332.17 1181.22,331.6 1182.89,331.03 1184.56,330.46 1186.23,329.9 1187.89,329.34 1189.56,328.78 1191.23,328.23 1192.9,327.68 1194.57,327.13 1196.24,326.58 1197.91,326.04 1199.58,325.5 1201.25,324.97 1202.92,324.43 1204.59,323.9 1206.26,323.38 1207.93,322.85 1209.6,322.33 1211.27,321.81 1212.94,321.3 1214.6,320.79 1216.27,320.28 1217.94,319.77 1219.61,319.27 1221.28,318.77 1222.95,318.28 1224.62,317.78 1226.29,317.29 1227.96,316.81 1229.63,316.32 1231.3,315.84 1232.97,315.36 1234.64,314.89 1236.31,314.42 1237.98,313.95 1239.64,313.48 1241.31,313.02 1242.98,312.56 1244.65,312.11 1246.32,311.65 1247.99,311.2 1249.66,310.76 1251.33,310.31 1253,309.87 1254.67,309.44 1256.34,309 1258.01,308.57 1259.68,308.14 1261.35,307.72 1263.02,307.29 1264.68,306.88 1266.35,306.46 1268.02,306.05 1269.69,305.64 1271.36,305.23 1273.03,304.83 1274.7,304.43 1276.37,304.03 1278.04,303.64 1279.71,303.25 1281.38,302.86 1283.05,302.48 1284.72,302.1 1286.39,301.72 1288.06,301.34 1289.73,300.97 1291.39,300.6 1293.06,300.24 1294.73,299.87 1296.4,299.51 1298.07,299.16 1299.74,298.81 1301.41,298.46 1303.08,298.11 1304.75,297.77 1306.42,297.43 1308.09,297.09 1309.76,296.75 1311.43,296.42 1313.1,296.1 1314.77,295.77 1316.43,295.45 1318.1,295.13 1319.77,294.82 1321.44,294.5 1323.11,294.2 1324.78,293.89 1326.45,293.59 1328.12,293.29 1329.79,292.99 1331.46,292.7 1333.13,292.41 1334.8,292.12 1336.47,291.84 1338.14,291.56 1339.81,291.28 1341.47,291.01 1343.14,290.74 1344.81,290.47 1346.48,290.21 1348.15,289.95 1349.82,289.69 1351.49,289.43 1353.16,289.18 1354.83,288.93 1356.5,288.69 1358.17,288.45 1359.84,288.21 1361.51,287.97 1363.18,287.74 1364.85,287.51 1366.52,287.29 1368.18,287.06 1369.85,286.84 1371.52,286.63 1373.19,286.42 1374.86,286.21 1376.53,286 1378.2,285.8 1379.87,285.6 1381.54,285.4 1383.21,285.2 1384.88,285.01 1386.55,284.83 1388.22,284.64 1389.89,284.46 1391.56,284.28 1393.22,284.11 1394.89,283.94 1396.56,283.77 1398.23,283.61 1399.9,283.45 1401.57,283.29 1403.24,283.13 1404.91,282.98 1406.58,282.83 1408.25,282.69 1409.92,282.54 1411.59,282.41 1413.26,282.27 1414.93,282.14 1416.6,282.01 1418.26,281.88 1419.93,281.76 1421.6,281.64 1423.27,281.52 1424.94,281.41 1426.61,281.3 1428.28,281.2 1429.95,281.09 1431.62,280.99 1433.29,280.9 1434.96,280.8 1436.63,280.71 1438.3,280.63 1439.97,280.54 1441.64,280.46 1443.31,280.39 1444.97,280.31 1446.64,280.24 1448.31,280.17 1449.98,280.11 1451.65,280.05 1453.32,279.99 1454.99,279.94 1456.66,279.89 1458.33,279.84 1460,279.79 1461.67,279.75 1463.34,279.72 1465.01,279.68 1466.68,279.65 1468.35,279.62 1470.01,279.6 1471.68,279.58 1473.35,279.56 1475.02,279.54 1476.69,279.53 1478.36,279.52 1480.03,279.52 1481.7,279.52" fill="none" stroke="#ff0000" stroke-width="6" stroke-linejoin="round" />
<polyline points="1149.5,406.54 1151.17,405.91 1152.84,405.29 1154.51,404.67 1156.18,404.05 1157.85,403.44 1159.52,402.83 1161.19,402.22 1162.85,401.62 1164.52,401.02 1166.19,400.43 1167.86,399.84 1169.53,399.25 1171.2,398.66 1172.87,398.08 1174.54,397.5 1176.21,396.93 1177.88,396.36 1179.55,395.79 1181.22,395.23 1182.89,394.67 1184.56,394.11 1186.23,393.56 1187.89,393.01 1189.56,392.46 1191.23,391.91 1192.9,391.37 1194.57,390.83 1196.24,390.3 1197.91,389.76 1199.58,389.23 1201.25,388.71 1202.92,388.18 1204.59,387.66 1206.26,387.14 1207.93,386.63 1209.6,386.12 1211.27,385.61 1212.94,385.1 1214.6,384.6 1216.27,384.1 1217.94,383.6 1219.61,383.11 1221.28,382.62 1222.95,382.13 1224.62,381.65 1226.29,381.17 1227.96,380.69 1229.63,380.21 1231.3,379.74 1232.97,379.27 1234.64,378.8 1236.31,378.34 1237.98,377.88 1239.64,377.42 1241.31,376.97 1242.98,376.52 1244.65,376.07 1246.32,375.62 1247.99,375.18 1249.66,374.74 1251.33,374.31 1253,373.87 1254.67,373.45 1256.34,373.02 1258.01,372.59 1259.68,372.17 1261.35,371.76 1263.02,371.34 1264.68,370.93 1266.35,370.52 1268.02,370.12 1269.69,369.72 1271.36,369.32 1273.03,368.92 1274.7,368.53 1276.37,368.14 1278.04,367.75 1279.71,367.37 1281.38,366.99 1283.05,366.61 1284.72,366.23 1286.39,365.86 1288.06,365.49 1289.73,365.13 1291.39,364.77 1293.06,364.41 1294.73,364.05 1296.4,363.7 1298.07,363.35 1299.74,363 1301.41,362.66 1303.08,362.32 1304.75,361.98 1306.42,361.65 1308.09,361.32 1309.76,360.99 1311.43,360.66 1313.1,360.34 1314.77,360.02 1316.43,359.71 1318.1,359.4 1319.77,359.09 1321.44,358.78 1323.11,358.48 1324.78,358.18 1326.45,357.88 1328.12,357.59 1329.79,357.3 1331.46,357.01 1333.13,356.73 1334.8,356.44 1336.47,356.17 1338.14,355.89 1339.81,355.62 1341.47,355.35 1343.14,355.09 1344.81,354.82 1346.48,354.56 1348.15,354.31 1349.82,354.06 1351.49,353.81 1353.16,353.56 1354.83,353.32 1356.5,353.07 1358.17,352.84 1359.84,352.6 1361.51,352.37 1363.18,352.15 1364.85,351.92 1366.52,351.7 1368.18,351.48 1369.85,351.27 1371.52,351.05 1373.19,350.85 1374.86,350.64 1376.53,350.44 1378.2,350.24 1379.87,350.04 1381.54,349.85 1383.21,349.66 1384.88,349.47 1386.55,349.29 1388.22,349.11 1389.89,348.93 1391.56,348.76 1393.22,348.59 1394.89,348.42 1396.56,348.25 1398.23,348.09 1399.9,347.94 1401.57,347.78 1403.24,347.63 1404.91,347.48 1406.58,347.34 1408.25,347.19 1409.92,347.05 1411.59,346.92 1413.26,346.79 1414.93,346.66 1416.6,346.53 1418.26,346.41 1419.93,346.29 1421.6,346.17 1423.27,346.06 1424.94,345.95 1426.61,345.84 1428.28,345.74 1429.95,345.64 1431.62,345.54 1433.29,345.45 1434.96,345.35 1436.63,345.27 1438.3,345.18 1439.97,345.1 1441.64,345.02 1443.31,344.95 1444.97,344.88 1446.64,344.81 1448.31,344.74 1449.98,344.68 1451.65,344.62 1453.32,344.57 1454.99,344.51 1456.66,344.47 1458.33,344.42 1460,344.38 1461.67,344.34 1463.34,344.3 1465.01,344.27 1466.68,344.24 1468.35,344.21 1470.01,344.19 1471.68,344.17 1473.35,344.15 1475.02,344.14 1476.69,344.13 1478.36,344.12 1480.03,344.12 1481.7,344.12" fill="none" stroke="#77ac30" stroke-width="6" stroke-linejoin="round" />
<polyline points="1149.5,526.05 1151.17,525.44 1152.84,524.83 1154.51,524.22 1156.18,523.61 1157.85,523.01 1159.52,522.41 1161.19,521.82 1162.85,521.23 1164.52,520.64 1166.19,520.05 1167.86,519.47 1169.53,518.89 1171.2,518.31 1172.87,517.74 1174.54,517.16 1176.21,516.6 1177.88,516.03 1179.55,515.47 1181.22,514.91 1182.89,514.35 1184.56,513.8 1186.23,513.25 1187.89,512.71 1189.56,512.16 1191.23,511.62 1192.9,511.08 1194.57,510.55 1196.24,510.02 1197.91,509.49 1199.58,508.96 1201.25,508.44 1202.92,507.92 1204.59,507.41 1206.26,506.89 1207.93,506.39 1209.6,505.88 1211.27,505.37 1212.94,504.87 1214.6,504.38 1216.27,503.88 1217.94,503.39 1219.61,502.9 1221.28,502.42 1222.95,501.93 1224.62,501.46 1226.29,500.98 1227.96,500.51 1229.63,500.04 1231.3,499.57 1232.97,499.11 1234.64,498.65 1236.31,498.19 1237.98,497.73 1239.64,497.28 1241.31,496.83 1242.98,496.39 1244.65,495.95 1246.32,495.51 1247.99,495.07 1249.66,494.64 1251.33,494.21 1253,493.78 1254.67,493.36 1256.34,492.94 1258.01,492.52 1259.68,492.1 1261.35,491.69 1263.02,491.29 1264.68,490.88 1266.35,490.48 1268.02,490.08 1269.69,489.68 1271.36,489.29 1273.03,488.9 1274.7,488.51 1276.37,488.13 1278.04,487.75 1279.71,487.37 1281.38,487 1283.05,486.63 1284.72,486.26 1286.39,485.89 1288.06,485.53 1289.73,485.17 1291.39,484.82 1293.06,484.46 1294.73,484.11 1296.4,483.77 1298.07,483.42 1299.74,483.08 1301.41,482.75 1303.08,482.41 1304.75,482.08 1306.42,481.75 1308.09,481.43 1309.76,481.11 1311.43,480.79 1313.1,480.47 1314.77,480.16 1316.43,479.85 1318.1,479.54 1319.77,479.24 1321.44,478.94 1323.11,478.64 1324.78,478.35 1326.45,478.06 1328.12,477.77 1329.79,477.49 1331.46,477.21 1333.13,476.93 1334.8,476.65 1336.47,476.38 1338.14,476.11 1339.81,475.85 1341.47,475.58 1343.14,475.32 1344.81,475.07 1346.48,474.81 1348.15,474.56 1349.82,474.31 1351.49,474.07 1353.16,473.83 1354.83,473.59 1356.5,473.36 1358.17,473.12 1359.84,472.9 1361.51,472.67 1363.18,472.45 1364.85,472.23 1366.52,472.01 1368.18,471.8 1369.85,471.59 1371.52,471.38 1373.19,471.18 1374.86,470.98 1376.53,470.78 1378.2,470.59 1379.87,470.39 1381.54,470.21 1383.21,470.02 1384.88,469.84 1386.55,469.66 1388.22,469.48 1389.89,469.31 1391.56,469.14 1393.22,468.97 1394.89,468.81 1396.56,468.65 1398.23,468.49 1399.9,468.34 1401.57,468.19 1403.24,468.04 1404.91,467.9 1406.58,467.75 1408.25,467.62 1409.92,467.48 1411.59,467.35 1413.26,467.22 1414.93,467.09 1416.6,466.97 1418.26,466.85 1419.93,466.73 1421.6,466.62 1423.27,466.51 1424.94,466.4 1426.61,466.3 1428.28,466.2 1429.95,466.1 1431.62,466 1433.29,465.91 1434.96,465.82 1436.63,465.74 1438.3,465.65 1439.97,465.57 1441.64,465.5 1443.31,465.42 1444.97,465.35 1446.64,465.29 1448.31,465.22 1449.98,465.16 1451.65,465.11 1453.32,465.05 1454.99,465 1456.66,464.95 1458.33,464.91 1460,464.86 1461.67,464.82 1463.34,464.79 1465.01,464.76 1466.68,464.73 1468.35,464.7 1470.01,464.68 1471.68,464.66 1473.35,464.64 1475.02,464.63 1476.69,464.61 1478.36,464.61 1480.03,464.6 1481.7,464.6" fill="none" stroke="#7e2f8e" stroke-width="6" stroke-linejoin="round" stroke-dasharray="6 8.5"/>
</g>
<rect x="1149.5" y="196.9" width="332.2" height="326.6" fill="none" stroke="#888" stroke-width="1.2"/>
<path d="M1149.5,512.68h3M1481.7,512.68h-3M1149.5,452.59h3M1481.7,452.59h-3M1149.5,392.5h3M1481.7,392.5h-3M1149.5,332.41h3M1481.7,332.41h-3M1149.5,272.32h3M1481.7,272.32h-3M1149.5,212.22h3M1481.7,212.22h-3" stroke="#888" stroke-width="1.2" fill="none"/>
<text x="1133" y="527.18" font-size="43" text-anchor="end" >2.26</text>
<text x="1133" y="467.09" font-size="43" text-anchor="end" >2.28</text>
<text x="1133" y="407" font-size="43" text-anchor="end" >2.3</text>
<text x="1133" y="346.91" font-size="43" text-anchor="end" >2.32</text>
<text x="1133" y="286.82" font-size="43" text-anchor="end" >2.34</text>
<text x="1133" y="226.72" font-size="43" text-anchor="end" >2.36</text>
<text x="761" y="870" font-size="40" text-anchor="middle" fill="#000">(a)</text>
<g clip-path="url(#cb)">
<polyline points="474.9,1000.94 476.27,1000.94 477.64,1000.94 479.01,1000.94 480.38,1000.94 481.75,1000.94 483.12,1000.94 484.49,1000.94 485.86,1000.94 487.23,1000.94 488.6,1000.94 489.97,1000.94 491.34,1000.94 492.71,1000.94 494.08,1000.94 495.45,1000.94 496.82,1000.94 498.19,1000.94 499.56,1000.94 500.93,1000.94 502.3,1000.94 503.67,1000.94 505.04,1000.94 506.41,1000.94 507.78,1000.94 509.15,1000.94 510.52,1000.94 511.89,1000.94 513.26,1000.94 514.63,1000.94 516,1000.94 517.37,1000.94 518.74,1000.94 520.11,1000.94 521.48,1000.94 522.85,1000.94 524.23,1000.94 525.6,1000.94 526.97,1000.94 528.34,1000.94 529.71,1000.94 531.08,1000.94 532.45,1000.94 533.82,1000.94 535.19,1000.94 536.56,1000.94 537.93,1000.94 539.3,1000.94 540.67,1000.94 542.04,1000.94 543.41,1000.94 544.78,1000.94 546.15,1000.94 547.52,1000.94 548.89,1000.94 550.26,1000.94 551.63,1000.94 553,1000.94 554.37,1000.94 555.74,1000.94 557.11,1000.94 558.48,1000.94 559.85,1000.94 561.22,1000.94 562.59,1000.94 563.96,1000.94 565.33,1000.94 566.7,1000.94 568.07,1000.94 569.44,1000.94 570.81,1000.94 572.18,1000.94 573.55,1000.94 574.92,1000.94 576.29,1000.94 577.66,1000.94 579.03,1000.94 580.4,1000.94 581.77,1000.94 583.14,1000.94 584.51,1000.94 585.88,1000.94 587.25,1000.94 588.62,1000.94 589.99,1000.94 591.36,1000.94 592.73,1000.94 594.1,1000.94 595.47,1000.94 596.84,1000.94 598.21,1000.94 599.58,1000.94 600.95,1000.94 602.32,1000.94 603.69,1000.94 605.06,1000.94 606.43,1000.94 607.8,1000.94 609.17,1000.94 610.54,1000.94 611.91,1000.94 613.28,1000.94 614.65,1000.94 616.02,1000.94 617.39,1000.94 618.76,1000.94 620.13,1000.94 621.51,1000.94 622.88,1000.94 624.25,1000.94 625.62,1000.94 626.99,1000.94 628.36,1000.94 629.73,1000.94 631.1,1000.94 632.47,1000.94 633.84,1000.94 635.21,1000.94 636.58,1000.94 637.95,1000.94 639.32,1000.94 640.69,1000.94 642.06,1000.94 643.43,1000.94 644.8,1000.94 646.17,1000.94 647.54,1000.94 648.91,1000.94 650.28,1000.94 651.65,1000.94 653.02,1000.94 654.39,1000.94 655.76,1000.94 657.13,1000.94 658.5,1000.94 659.87,1000.94 661.24,1000.94 662.61,1000.94 663.98,1000.94 665.35,1000.94 666.72,1000.94 668.09,1000.94 669.46,1000.94 670.83,1000.94 672.2,1000.94 673.57,1000.94 674.94,1000.94 676.31,1000.94 677.68,1000.94 679.05,1000.94 680.42,1000.94 681.79,1000.94 683.16,1000.94 684.53,1000.94 685.9,1000.94 687.27,1000.94 688.64,1000.94 690.01,1000.94 691.38,1000.94 692.75,1000.94 694.12,1000.94 695.49,1000.94 696.86,1000.94 698.23,1000.94 699.6,1000.94 700.97,1000.94 702.34,1000.94 703.71,1000.94 705.08,1000.94 706.45,1000.94 707.82,1000.94 709.19,1000.94 710.56,1000.94 711.93,1000.94 713.3,1000.94 714.67,1000.94 716.04,1000.94 717.41,1000.94 718.78,1000.94 720.16,1000.94 721.53,1000.94 722.9,1000.94 724.27,1000.94 725.64,1000.94 727.01,1000.94 728.38,1000.94 729.75,1000.94 731.12,1000.94 732.49,1000.94 733.86,1000.94 735.23,1000.94 736.6,1000.94 737.97,1000.94 739.34,1000.94 740.71,1000.94 742.08,1000.94 743.45,1000.94 744.82,1000.94 746.19,1000.94 747.56,1000.94 748.93,1000.94 750.3,1000.94 751.67,1000.94 753.04,1000.94 754.41,1000.94 755.78,1000.94 757.15,1000.94 758.52,1000.94 759.89,1000.94 761.26,1000.94 762.63,1000.94 764,1000.94 765.37,1000.94 766.74,1000.94 768.11,1000.94 769.48,1000.94 770.85,1000.94 772.22,1000.94 773.59,1000.94 774.96,1000.94 776.33,1000.94 777.7,1000.94 779.07,1000.94 780.44,1000.94 781.81,1000.94 783.18,1000.94 784.55,1000.94 785.92,1000.94 787.29,1000.94 788.66,1000.94 790.03,1000.94 791.4,1000.94 792.77,1000.94 794.14,1000.94 795.51,1000.94 796.88,1000.94 798.25,1000.94 799.62,1000.94 800.99,1000.94 802.36,1000.94 803.73,1000.94 805.1,1000.94 806.47,1000.94 807.84,1000.94 809.21,1000.94 810.58,1000.94 811.95,1000.94 813.32,1000.94 814.69,1000.94 816.06,1000.94 817.44,1000.94 818.81,1000.94 820.18,1000.94 821.55,1000.94 822.92,1000.94 824.29,1000.94 825.66,1000.94 827.03,1000.94 828.4,1000.94 829.77,1000.94 831.14,1000.94 832.51,1000.94 833.88,1000.94 835.25,1000.94 836.62,1000.94 837.99,1000.94 839.36,1000.94 840.73,1000.94 842.1,1000.94 843.47,1000.94 844.84,1000.94 846.21,1000.94 847.58,1000.94 848.95,1000.94 850.32,1000.94 851.69,1000.94 853.06,1000.94 854.43,1000.94 855.8,1000.94 857.17,1000.94 858.54,1000.94 859.91,1000.94 861.28,1000.94 862.65,1000.94 864.02,1000.94 865.39,1000.94 866.76,1000.94 868.13,1000.94 869.5,1000.94 870.87,1000.94 872.24,1000.94 873.61,1000.94 874.98,1000.94 876.35,1000.94 877.72,1000.94 879.09,1000.94 880.46,1000.94 881.83,1000.94 883.2,1000.94 884.57,1000.94 885.94,1000.94 887.31,1000.94 888.68,1000.94 890.05,1000.94 891.42,1000.94 892.79,1000.94 894.16,1000.94 895.53,1000.94 896.9,1000.94 898.27,1000.94 899.64,1000.94 901.01,1000.94 902.38,1000.94 903.75,1000.94 905.12,1000.94 906.49,1000.94 907.86,1000.94 909.23,1000.94 910.6,1000.94 911.97,1000.94 913.34,1000.94 914.72,1000.94 916.09,1000.94 917.46,1000.94 918.83,1000.94 920.2,1000.94 921.57,1000.94 922.94,1000.94 924.31,1000.94 925.68,1000.94 927.05,1000.94 928.42,1000.94 929.79,1000.94 931.16,1000.94 932.53,1000.94 933.9,1000.94 935.27,1000.94 936.64,1000.94 938.01,1000.94 939.38,1000.94 940.75,1000.94 942.12,1000.94 943.49,1000.94 944.86,1000.94 946.23,1000.94 947.6,1000.94 948.97,1000.94 950.34,1000.94 951.71,1000.94 953.08,1000.94 954.45,1000.94 955.82,1000.94 957.19,1000.94 958.56,1000.94 959.93,1000.94 961.3,1000.94 962.67,1000.94 964.04,1000.94 965.41,1000.94 966.78,1000.94 968.15,1000.94 969.52,1000.94 970.89,1000.94 972.26,1000.94 973.63,1000.94 975,1000.94 976.37,1000.94 977.74,1000.94 979.11,1000.94 980.48,1000.94 981.85,1000.94 983.22,1000.94 984.59,1000.94 985.96,1000.94 987.33,1000.94 988.7,1000.94 990.07,1000.94 991.44,1000.94 992.81,1000.94 994.18,1000.94 995.55,1000.94 996.92,1000.94 998.29,1000.94 999.66,1000.94 1001.03,1000.94 1002.4,1000.94 1003.77,1000.94 1005.14,1000.94 1006.51,1000.94 1007.88,1000.94 1009.25,1000.94 1010.62,1000.94 1011.99,1000.94 1013.37,1000.94 1014.74,1000.94 1016.11,1000.94 1017.48,1000.94 1018.85,1000.94 1020.22,1000.94 1021.59,1000.94 1022.96,1000.94 1024.33,1000.94 1025.7,1000.94 1027.07,1000.94 1028.44,1000.94 1029.81,1000.94 1031.18,1000.94 1032.55,1000.94 1033.92,1000.94 1035.29,1000.94 1036.66,1000.94 1038.03,1000.94 1039.4,1000.94 1040.77,1000.94 1042.14,1000.94 1043.51,1000.94 1044.88,1000.94 1046.25,1000.94 1047.62,1000.94 1048.99,1000.94 1050.36,1000.94 1051.73,1000.94 1053.1,1000.94 1054.47,1000.94 1055.84,1000.94 1057.21,1000.94 1058.58,1000.94 1059.95,1000.94 1061.32,1000.94 1062.69,1000.94 1064.06,1000.94 1065.43,1000.94 1066.8,1000.94 1068.17,1000.94 1069.54,1000.94 1070.91,1000.94 1072.28,1000.94 1073.65,1000.94 1075.02,1000.94 1076.39,1000.94 1077.76,1000.94 1079.13,1000.94 1080.5,1000.94 1081.87,1000.94 1083.24,1000.94 1084.61,1000.94 1085.98,1000.94 1087.35,1000.94 1088.72,1000.94 1090.09,1000.94 1091.46,1000.94 1092.83,1000.94 1094.2,1000.94 1095.57,1000.94 1096.94,1000.94 1098.31,1000.94 1099.68,1000.94 1101.05,1000.94 1102.42,1000.94 1103.79,1000.94 1105.16,1000.94 1106.53,1000.94 1107.9,1000.94 1109.27,1000.94 1110.65,1000.94 1112.02,1000.94 1113.39,1000.94 1114.76,1000.94 1116.13,1000.94 1117.5,1000.94 1118.87,1000.94 1120.24,1000.94 1121.61,1000.94 1122.98,1000.94 1124.35,1000.94 1125.72,1000.94 1127.09,1000.94 1128.46,1000.94 1129.83,1000.94 1131.2,1000.94 1132.57,1000.94 1133.94,1000.94 1135.31,1000.94 1136.68,1000.94 1138.05,1000.94 1139.42,1000.94 1140.79,1000.94 1142.16,1000.94 1143.53,1000.94 1144.9,1000.94 1146.27,1000.94 1147.64,1000.94 1149.01,1000.94 1150.38,1000.94 1151.75,1000.94 1153.12,1000.94 1154.49,1000.94 1155.86,1000.94 1157.23,1000.94 1158.6,1000.94" fill="none" stroke="#1c1c1c" stroke-width="7.4" stroke-linejoin="round" />
<polyline points="474.9,1000.94 476.27,1000.94 477.64,1000.94 479.01,1000.95 480.38,1000.96 481.75,1000.97 483.12,1000.98 484.49,1001 485.86,1001.02 487.23,1001.04 488.6,1001.06 489.97,1001.09 491.34,1001.12 492.71,1001.15 494.08,1001.19 495.45,1001.22 496.82,1001.26 498.19,1001.31 499.56,1001.35 500.93,1001.4 502.3,1001.45 503.67,1001.5 505.04,1001.56 506.41,1001.61 507.78,1001.67 509.15,1001.74 510.52,1001.8 511.89,1001.87 513.26,1001.94 514.63,1002.01 516,1002.09 517.37,1002.16 518.74,1002.24 520.11,1002.33 521.48,1002.41 522.85,1002.5 524.23,1002.59 525.6,1002.68 526.97,1002.78 528.34,1002.87 529.71,1002.97 531.08,1003.08 532.45,1003.18 533.82,1003.29 535.19,1003.4 536.56,1003.51 537.93,1003.63 539.3,1003.74 540.67,1003.86 542.04,1003.99 543.41,1004.11 544.78,1004.24 546.15,1004.37 547.52,1004.5 548.89,1004.63 550.26,1004.77 551.63,1004.91 553,1005.05 554.37,1005.2 555.74,1005.34 557.11,1005.49 558.48,1005.64 559.85,1005.8 561.22,1005.95 562.59,1006.11 563.96,1006.27 565.33,1006.43 566.7,1006.6 568.07,1006.77 569.44,1006.94 570.81,1007.11 572.18,1007.29 573.55,1007.46 574.92,1007.64 576.29,1007.82 577.66,1008.01 579.03,1008.19 580.4,1008.38 581.77,1008.57 583.14,1008.77 584.51,1008.96 585.88,1009.16 587.25,1009.36 588.62,1009.56 589.99,1009.76 591.36,1009.97 592.73,1010.18 594.1,1010.39 595.47,1010.6 596.84,1010.82 598.21,1011.03 599.58,1011.25 600.95,1011.48 602.32,1011.7 603.69,1011.93 605.06,1012.15 606.43,1012.38 607.8,1012.62 609.17,1012.85 610.54,1013.09 611.91,1013.32 613.28,1013.57 614.65,1013.81 616.02,1014.05 617.39,1014.3 618.76,1014.55 620.13,1014.8 621.51,1015.05 622.88,1015.31 624.25,1015.56 625.62,1015.82 626.99,1016.08 628.36,1016.35 629.73,1016.61 631.1,1016.88 632.47,1017.15 633.84,1017.42 635.21,1017.69 636.58,1017.96 637.95,1018.24 639.32,1018.52 640.69,1018.8 642.06,1019.08 643.43,1019.36 644.8,1019.65 646.17,1019.93 647.54,1020.22 648.91,1020.51 650.28,1020.81 651.65,1021.1 653.02,1021.4 654.39,1021.69 655.76,1021.99 657.13,1022.3 658.5,1022.6 659.87,1022.9 661.24,1023.21 662.61,1023.52 663.98,1023.83 665.35,1024.14 666.72,1024.45 668.09,1024.77 669.46,1025.08 670.83,1025.4 672.2,1025.72 673.57,1026.04 674.94,1026.36 676.31,1026.69 677.68,1027.01 679.05,1027.34 680.42,1027.67 681.79,1028 683.16,1028.33 684.53,1028.67 685.9,1029 687.27,1029.34 688.64,1029.67 690.01,1030.01 691.38,1030.35 692.75,1030.7 694.12,1031.04 695.49,1031.38 696.86,1031.73 698.23,1032.08 699.6,1032.43 700.97,1032.78 702.34,1033.13 703.71,1033.48 705.08,1033.83 706.45,1034.19 707.82,1034.54 709.19,1034.9 710.56,1035.26 711.93,1035.62 713.3,1035.98 714.67,1036.34 716.04,1036.71 717.41,1037.07 718.78,1037.44 720.16,1037.8 721.53,1038.17 722.9,1038.54 724.27,1038.91 725.64,1039.28 727.01,1039.66 728.38,1040.03 729.75,1040.4 731.12,1040.78 732.49,1041.15 733.86,1041.53 735.23,1041.91 736.6,1042.29 737.97,1042.67 739.34,1043.05 740.71,1043.43 742.08,1043.81 743.45,1044.2 744.82,1044.58 746.19,1044.97 747.56,1045.35 748.93,1045.74 750.3,1046.13 751.67,1046.52 753.04,1046.9 754.41,1047.29 755.78,1047.69 757.15,1048.08 758.52,1048.47 759.89,1048.86 761.26,1049.25 762.63,1049.65 764,1050.04 765.37,1050.44 766.74,1050.83 768.11,1051.23 769.48,1051.63 770.85,1052.03 772.22,1052.42 773.59,1052.82 774.96,1053.22 776.33,1053.62 777.7,1054.02 779.07,1054.42 780.44,1054.82 781.81,1055.22 783.18,1055.62 784.55,1056.03 785.92,1056.43 787.29,1056.83 788.66,1057.24 790.03,1057.64 791.4,1058.04 792.77,1058.45 794.14,1058.85 795.51,1059.26 796.88,1059.66 798.25,1060.07 799.62,1060.47 800.99,1060.88 802.36,1061.28 803.73,1061.69 805.1,1062.1 806.47,1062.5 807.84,1062.91 809.21,1063.32 810.58,1063.72 811.95,1064.13 813.32,1064.54 814.69,1064.94 816.06,1065.35 817.44,1065.76 818.81,1066.16 820.18,1066.57 821.55,1066.98 822.92,1067.38 824.29,1067.79 825.66,1068.2 827.03,1068.6 828.4,1069.01 829.77,1069.41 831.14,1069.82 832.51,1070.23 833.88,1070.63 835.25,1071.04 836.62,1071.44 837.99,1071.85 839.36,1072.25 840.73,1072.66 842.1,1073.06 843.47,1073.47 844.84,1073.87 846.21,1074.27 847.58,1074.67 848.95,1075.08 850.32,1075.48 851.69,1075.88 853.06,1076.28 854.43,1076.68 855.8,1077.08 857.17,1077.48 858.54,1077.88 859.91,1078.28 861.28,1078.68 862.65,1079.08 864.02,1079.48 865.39,1079.87 866.76,1080.27 868.13,1080.67 869.5,1081.06 870.87,1081.46 872.24,1081.85 873.61,1082.24 874.98,1082.64 876.35,1083.03 877.72,1083.42 879.09,1083.81 880.46,1084.2 881.83,1084.59 883.2,1084.98 884.57,1085.36 885.94,1085.75 887.31,1086.14 888.68,1086.52 890.05,1086.91 891.42,1087.29 892.79,1087.67 894.16,1088.06 895.53,1088.44 896.9,1088.82 898.27,1089.2 899.64,1089.57 901.01,1089.95 902.38,1090.33 903.75,1090.7 905.12,1091.08 906.49,1091.45 907.86,1091.82 909.23,1092.19 910.6,1092.56 911.97,1092.93 913.34,1093.3 914.72,1093.67 916.09,1094.03 917.46,1094.4 918.83,1094.76 920.2,1095.12 921.57,1095.48 922.94,1095.84 924.31,1096.2 925.68,1096.56 927.05,1096.92 928.42,1097.27 929.79,1097.63 931.16,1097.98 932.53,1098.33 933.9,1098.68 935.27,1099.03 936.64,1099.37 938.01,1099.72 939.38,1100.07 940.75,1100.41 942.12,1100.75 943.49,1101.09 944.86,1101.43 946.23,1101.77 947.6,1102.1 948.97,1102.44 950.34,1102.77 951.71,1103.1 953.08,1103.43 954.45,1103.76 955.82,1104.09 957.19,1104.42 958.56,1104.74 959.93,1105.06 961.3,1105.38 962.67,1105.7 964.04,1106.02 965.41,1106.34 966.78,1106.65 968.15,1106.97 969.52,1107.28 970.89,1107.59 972.26,1107.89 973.63,1108.2 975,1108.51 976.37,1108.81 977.74,1109.11 979.11,1109.41 980.48,1109.71 981.85,1110 983.22,1110.3 984.59,1110.59 985.96,1110.88 987.33,1111.17 988.7,1111.46 990.07,1111.74 991.44,1112.03 992.81,1112.31 994.18,1112.59 995.55,1112.87 996.92,1113.14 998.29,1113.42 999.66,1113.69 1001.03,1113.96 1002.4,1114.23 1003.77,1114.49 1005.14,1114.76 1006.51,1115.02 1007.88,1115.28 1009.25,1115.54 1010.62,1115.8 1011.99,1116.05 1013.37,1116.31 1014.74,1116.56 1016.11,1116.81 1017.48,1117.05 1018.85,1117.3 1020.22,1117.54 1021.59,1117.78 1022.96,1118.02 1024.33,1118.25 1025.7,1118.49 1027.07,1118.72 1028.44,1118.95 1029.81,1119.18 1031.18,1119.41 1032.55,1119.63 1033.92,1119.85 1035.29,1120.07 1036.66,1120.29 1038.03,1120.5 1039.4,1120.72 1040.77,1120.93 1042.14,1121.13 1043.51,1121.34 1044.88,1121.55 1046.25,1121.75 1047.62,1121.95 1048.99,1122.14 1050.36,1122.34 1051.73,1122.53 1053.1,1122.72 1054.47,1122.91 1055.84,1123.1 1057.21,1123.28 1058.58,1123.46 1059.95,1123.64 1061.32,1123.82 1062.69,1123.99 1064.06,1124.17 1065.43,1124.34 1066.8,1124.5 1068.17,1124.67 1069.54,1124.83 1070.91,1124.99 1072.28,1125.15 1073.65,1125.31 1075.02,1125.46 1076.39,1125.61 1077.76,1125.76 1079.13,1125.91 1080.5,1126.05 1081.87,1126.19 1083.24,1126.33 1084.61,1126.47 1085.98,1126.6 1087.35,1126.74 1088.72,1126.87 1090.09,1126.99 1091.46,1127.12 1092.83,1127.24 1094.2,1127.36 1095.57,1127.48 1096.94,1127.59 1098.31,1127.7 1099.68,1127.81 1101.05,1127.92 1102.42,1128.03 1103.79,1128.13 1105.16,1128.23 1106.53,1128.33 1107.9,1128.42 1109.27,1128.52 1110.65,1128.61 1112.02,1128.69 1113.39,1128.78 1114.76,1128.86 1116.13,1128.94 1117.5,1129.02 1118.87,1129.09 1120.24,1129.17 1121.61,1129.24 1122.98,1129.3 1124.35,1129.37 1125.72,1129.43 1127.09,1129.49 1128.46,1129.55 1129.83,1129.6 1131.2,1129.66 1132.57,1129.71 1133.94,1129.75 1135.31,1129.8 1136.68,1129.84 1138.05,1129.88 1139.42,1129.92 1140.79,1129.95 1142.16,1129.98 1143.53,1130.01 1144.9,1130.04 1146.27,1130.06 1147.64,1130.09 1149.01,1130.11 1150.38,1130.12 1151.75,1130.14 1153.12,1130.15 1154.49,1130.16 1155.86,1130.16 1157.23,1130.17 1158.6,1130.17" fill="none" stroke="#ff0000" stroke-width="7.4" stroke-linejoin="round" />
<polyline points="474.9,1000.94 476.27,1000.94 477.64,1000.94 479.01,1000.94 480.38,1000.94 481.75,1000.94 483.12,1000.94 484.49,1000.94 485.86,1000.96 487.23,1000.99 488.6,1001.01 489.97,1001.05 491.34,1001.09 492.71,1001.13 494.08,1001.18 495.45,1001.23 496.82,1001.29 498.19,1001.35 499.56,1001.42 500.93,1001.49 502.3,1001.57 503.67,1001.65 505.04,1001.74 506.41,1001.83 507.78,1001.92 509.15,1002.02 510.52,1002.13 511.89,1002.24 513.26,1002.35 514.63,1002.47 516,1002.6 517.37,1002.73 518.74,1002.86 520.11,1003 521.48,1003.14 522.85,1003.29 524.23,1003.44 525.6,1003.6 526.97,1003.76 528.34,1003.93 529.71,1004.1 531.08,1004.28 532.45,1004.46 533.82,1004.64 535.19,1004.83 536.56,1005.03 537.93,1005.23 539.3,1005.43 540.67,1005.64 542.04,1005.86 543.41,1006.07 544.78,1006.3 546.15,1006.52 547.52,1006.75 548.89,1006.99 550.26,1007.23 551.63,1007.48 553,1007.72 554.37,1007.98 555.74,1008.24 557.11,1008.5 558.48,1008.77 559.85,1009.04 561.22,1009.31 562.59,1009.59 563.96,1009.88 565.33,1010.16 566.7,1010.46 568.07,1010.75 569.44,1011.06 570.81,1011.36 572.18,1011.67 573.55,1011.99 574.92,1012.3 576.29,1012.63 577.66,1012.95 579.03,1013.28 580.4,1013.62 581.77,1013.96 583.14,1014.3 584.51,1014.65 585.88,1015 587.25,1015.36 588.62,1015.72 589.99,1016.08 591.36,1016.45 592.73,1016.82 594.1,1017.2 595.47,1017.58 596.84,1017.97 598.21,1018.35 599.58,1018.75 600.95,1019.14 602.32,1019.54 603.69,1019.95 605.06,1020.36 606.43,1020.77 607.8,1021.18 609.17,1021.6 610.54,1022.02 611.91,1022.45 613.28,1022.88 614.65,1023.31 616.02,1023.74 617.39,1024.18 618.76,1024.62 620.13,1025.07 621.51,1025.51 622.88,1025.96 624.25,1026.42 625.62,1026.88 626.99,1027.34 628.36,1027.8 629.73,1028.27 631.1,1028.74 632.47,1029.22 633.84,1029.7 635.21,1030.18 636.58,1030.66 637.95,1031.15 639.32,1031.64 640.69,1032.14 642.06,1032.64 643.43,1033.14 644.8,1033.64 646.17,1034.15 647.54,1034.67 648.91,1035.18 650.28,1035.7 651.65,1036.22 653.02,1036.75 654.39,1037.28 655.76,1037.81 657.13,1038.35 658.5,1038.89 659.87,1039.44 661.24,1039.98 662.61,1040.53 663.98,1041.09 665.35,1041.65 666.72,1042.21 668.09,1042.77 669.46,1043.34 670.83,1043.92 672.2,1044.49 673.57,1045.07 674.94,1045.66 676.31,1046.24 677.68,1046.83 679.05,1047.43 680.42,1048.02 681.79,1048.63 683.16,1049.23 684.53,1049.84 685.9,1050.45 687.27,1051.07 688.64,1051.69 690.01,1052.31 691.38,1052.94 692.75,1053.57 694.12,1054.2 695.49,1054.83 696.86,1055.47 698.23,1056.11 699.6,1056.75 700.97,1057.39 702.34,1058.04 703.71,1058.69 705.08,1059.34 706.45,1059.99 707.82,1060.64 709.19,1061.3 710.56,1061.96 711.93,1062.62 713.3,1063.28 714.67,1063.95 716.04,1064.62 717.41,1065.29 718.78,1065.96 720.16,1066.64 721.53,1067.32 722.9,1068 724.27,1068.68 725.64,1069.37 727.01,1070.06 728.38,1070.75 729.75,1071.45 731.12,1072.15 732.49,1072.85 733.86,1073.55 735.23,1074.26 736.6,1074.97 737.97,1075.69 739.34,1076.41 740.71,1077.13 742.08,1077.85 743.45,1078.58 744.82,1079.31 746.19,1080.04 747.56,1080.78 748.93,1081.52 750.3,1082.27 751.67,1083.02 753.04,1083.77 754.41,1084.52 755.78,1085.28 757.15,1086.05 758.52,1086.81 759.89,1087.58 761.26,1088.36 762.63,1089.14 764,1089.92 765.37,1090.7 766.74,1091.49 768.11,1092.28 769.48,1093.08 770.85,1093.88 772.22,1094.68 773.59,1095.48 774.96,1096.29 776.33,1097.1 777.7,1097.91 779.07,1098.72 780.44,1099.54 781.81,1100.36 783.18,1101.18 784.55,1102 785.92,1102.82 787.29,1103.65 788.66,1104.47 790.03,1105.3 791.4,1106.13 792.77,1106.96 794.14,1107.8 795.51,1108.63 796.88,1109.46 798.25,1110.3 799.62,1111.13 800.99,1111.97 802.36,1112.8 803.73,1113.64 805.1,1114.48 806.47,1115.31 807.84,1116.15 809.21,1116.99 810.58,1117.82 811.95,1118.66 813.32,1119.49 814.69,1120.33 816.06,1121.16 817.44,1121.99 818.81,1122.82 820.18,1123.65 821.55,1124.48 822.92,1125.31 824.29,1126.14 825.66,1126.97 827.03,1127.79 828.4,1128.62 829.77,1129.45 831.14,1130.27 832.51,1131.1 833.88,1131.93 835.25,1132.75 836.62,1133.58 837.99,1134.41 839.36,1135.23 840.73,1136.06 842.1,1136.88 843.47,1137.7 844.84,1138.53 846.21,1139.35 847.58,1140.17 848.95,1140.99 850.32,1141.81 851.69,1142.63 853.06,1143.45 854.43,1144.27 855.8,1145.09 857.17,1145.9 858.54,1146.72 859.91,1147.53 861.28,1148.34 862.65,1149.15 864.02,1149.96 865.39,1150.77 866.76,1151.58 868.13,1152.38 869.5,1153.19 870.87,1153.99 872.24,1154.79 873.61,1155.59 874.98,1156.39 876.35,1157.19 877.72,1157.98 879.09,1158.77 880.46,1159.56 881.83,1160.35 883.2,1161.14 884.57,1161.92 885.94,1162.71 887.31,1163.49 888.68,1164.27 890.05,1165.04 891.42,1165.82 892.79,1166.59 894.16,1167.36 895.53,1168.13 896.9,1168.9 898.27,1169.66 899.64,1170.42 901.01,1171.18 902.38,1171.94 903.75,1172.7 905.12,1173.45 906.49,1174.2 907.86,1174.95 909.23,1175.69 910.6,1176.44 911.97,1177.18 913.34,1177.92 914.72,1178.66 916.09,1179.39 917.46,1180.13 918.83,1180.86 920.2,1181.58 921.57,1182.31 922.94,1183.03 924.31,1183.75 925.68,1184.47 927.05,1185.19 928.42,1185.9 929.79,1186.61 931.16,1187.32 932.53,1188.03 933.9,1188.73 935.27,1189.44 936.64,1190.14 938.01,1190.83 939.38,1191.53 940.75,1192.22 942.12,1192.91 943.49,1193.6 944.86,1194.28 946.23,1194.96 947.6,1195.64 948.97,1196.32 950.34,1196.99 951.71,1197.66 953.08,1198.33 954.45,1199 955.82,1199.66 957.19,1200.32 958.56,1200.98 959.93,1201.64 961.3,1202.29 962.67,1202.94 964.04,1203.59 965.41,1204.24 966.78,1204.88 968.15,1205.52 969.52,1206.15 970.89,1206.78 972.26,1207.41 973.63,1208.04 975,1208.66 976.37,1209.28 977.74,1209.9 979.11,1210.51 980.48,1211.12 981.85,1211.73 983.22,1212.34 984.59,1212.94 985.96,1213.53 987.33,1214.13 988.7,1214.71 990.07,1215.3 991.44,1215.88 992.81,1216.46 994.18,1217.04 995.55,1217.61 996.92,1218.18 998.29,1218.74 999.66,1219.3 1001.03,1219.86 1002.4,1220.41 1003.77,1220.96 1005.14,1221.5 1006.51,1222.04 1007.88,1222.58 1009.25,1223.11 1010.62,1223.64 1011.99,1224.16 1013.37,1224.68 1014.74,1225.19 1016.11,1225.71 1017.48,1226.21 1018.85,1226.71 1020.22,1227.21 1021.59,1227.71 1022.96,1228.2 1024.33,1228.68 1025.7,1229.16 1027.07,1229.64 1028.44,1230.11 1029.81,1230.58 1031.18,1231.05 1032.55,1231.51 1033.92,1231.97 1035.29,1232.42 1036.66,1232.87 1038.03,1233.31 1039.4,1233.75 1040.77,1234.18 1042.14,1234.61 1043.51,1235.04 1044.88,1235.46 1046.25,1235.88 1047.62,1236.29 1048.99,1236.7 1050.36,1237.1 1051.73,1237.5 1053.1,1237.9 1054.47,1238.29 1055.84,1238.67 1057.21,1239.05 1058.58,1239.43 1059.95,1239.8 1061.32,1240.17 1062.69,1240.53 1064.06,1240.89 1065.43,1241.24 1066.8,1241.59 1068.17,1241.93 1069.54,1242.27 1070.91,1242.6 1072.28,1242.93 1073.65,1243.25 1075.02,1243.57 1076.39,1243.89 1077.76,1244.2 1079.13,1244.5 1080.5,1244.8 1081.87,1245.1 1083.24,1245.39 1084.61,1245.67 1085.98,1245.95 1087.35,1246.22 1088.72,1246.5 1090.09,1246.76 1091.46,1247.02 1092.83,1247.28 1094.2,1247.53 1095.57,1247.77 1096.94,1248.01 1098.31,1248.25 1099.68,1248.48 1101.05,1248.71 1102.42,1248.93 1103.79,1249.15 1105.16,1249.36 1106.53,1249.56 1107.9,1249.76 1109.27,1249.96 1110.65,1250.15 1112.02,1250.34 1113.39,1250.52 1114.76,1250.7 1116.13,1250.87 1117.5,1251.04 1118.87,1251.2 1120.24,1251.35 1121.61,1251.5 1122.98,1251.65 1124.35,1251.79 1125.72,1251.93 1127.09,1252.06 1128.46,1252.18 1129.83,1252.31 1131.2,1252.42 1132.57,1252.53 1133.94,1252.64 1135.31,1252.74 1136.68,1252.83 1138.05,1252.92 1139.42,1253.01 1140.79,1253.09 1142.16,1253.16 1143.53,1253.23 1144.9,1253.3 1146.27,1253.36 1147.64,1253.41 1149.01,1253.46 1150.38,1253.5 1151.75,1253.54 1153.12,1253.57 1154.49,1253.6 1155.86,1253.63 1157.23,1253.64 1158.6,1253.66" fill="none" stroke="#77ac30" stroke-width="7.4" stroke-linejoin="round" />
<polyline points="474.9,1000.94 476.27,1000.94 477.64,1000.94 479.01,1000.95 480.38,1000.96 481.75,1000.98 483.12,1000.99 484.49,1001.01 485.86,1001.04 487.23,1001.06 488.6,1001.09 489.97,1001.12 491.34,1001.15 492.71,1001.19 494.08,1001.22 495.45,1001.26 496.82,1001.3 498.19,1001.34 499.56,1001.38 500.93,1001.43 502.3,1001.48 503.67,1001.52 505.04,1001.57 506.41,1001.62 507.78,1001.67 509.15,1001.73 510.52,1001.79 511.89,1001.87 513.26,1001.95 514.63,1002.05 516,1002.15 517.37,1002.26 518.74,1002.38 520.11,1002.51 521.48,1002.65 522.85,1002.79 524.23,1002.94 525.6,1003.1 526.97,1003.27 528.34,1003.44 529.71,1003.62 531.08,1003.8 532.45,1003.99 533.82,1004.19 535.19,1004.39 536.56,1004.6 537.93,1004.82 539.3,1005.03 540.67,1005.26 542.04,1005.48 543.41,1005.73 544.78,1005.99 546.15,1006.29 547.52,1006.61 548.89,1006.96 550.26,1007.32 551.63,1007.72 553,1008.13 554.37,1008.56 555.74,1009.02 557.11,1009.49 558.48,1009.98 559.85,1010.48 561.22,1011 562.59,1011.53 563.96,1012.07 565.33,1012.63 566.7,1013.2 568.07,1013.77 569.44,1014.36 570.81,1014.95 572.18,1015.54 573.55,1016.14 574.92,1016.75 576.29,1017.36 577.66,1017.97 579.03,1018.58 580.4,1019.18 581.77,1019.8 583.14,1020.43 584.51,1021.08 585.88,1021.74 587.25,1022.42 588.62,1023.12 589.99,1023.83 591.36,1024.56 592.73,1025.3 594.1,1026.05 595.47,1026.82 596.84,1027.6 598.21,1028.39 599.58,1029.19 600.95,1030.01 602.32,1030.83 603.69,1031.67 605.06,1032.51 606.43,1033.36 607.8,1034.22 609.17,1035.09 610.54,1035.97 611.91,1036.85 613.28,1037.74 614.65,1038.63 616.02,1039.53 617.39,1040.44 618.76,1041.35 620.13,1042.26 621.51,1043.2 622.88,1044.15 624.25,1045.12 625.62,1046.1 626.99,1047.1 628.36,1048.11 629.73,1049.14 631.1,1050.18 632.47,1051.23 633.84,1052.29 635.21,1053.36 636.58,1054.44 637.95,1055.53 639.32,1056.63 640.69,1057.73 642.06,1058.84 643.43,1059.96 644.8,1061.08 646.17,1062.2 647.54,1063.33 648.91,1064.46 650.28,1065.59 651.65,1066.72 653.02,1067.85 654.39,1068.98 655.76,1070.11 657.13,1071.23 658.5,1072.36 659.87,1073.49 661.24,1074.62 662.61,1075.76 663.98,1076.91 665.35,1078.05 666.72,1079.21 668.09,1080.36 669.46,1081.53 670.83,1082.69 672.2,1083.86 673.57,1085.04 674.94,1086.22 676.31,1087.41 677.68,1088.6 679.05,1089.8 680.42,1091 681.79,1092.21 683.16,1093.42 684.53,1094.64 685.9,1095.86 687.27,1097.09 688.64,1098.32 690.01,1099.56 691.38,1100.81 692.75,1102.06 694.12,1103.32 695.49,1104.58 696.86,1105.86 698.23,1107.14 699.6,1108.43 700.97,1109.72 702.34,1111.02 703.71,1112.33 705.08,1113.64 706.45,1114.95 707.82,1116.28 709.19,1117.6 710.56,1118.94 711.93,1120.27 713.3,1121.62 714.67,1122.96 716.04,1124.31 717.41,1125.67 718.78,1127.02 720.16,1128.38 721.53,1129.75 722.9,1131.12 724.27,1132.49 725.64,1133.87 727.01,1135.26 728.38,1136.65 729.75,1138.05 731.12,1139.45 732.49,1140.86 733.86,1142.27 735.23,1143.69 736.6,1145.11 737.97,1146.54 739.34,1147.97 740.71,1149.4 742.08,1150.84 743.45,1152.28 744.82,1153.73 746.19,1155.17 747.56,1156.62 748.93,1158.07 750.3,1159.53 751.67,1160.98 753.04,1162.44 754.41,1163.9 755.78,1165.37 757.15,1166.84 758.52,1168.32 759.89,1169.81 761.26,1171.29 762.63,1172.79 764,1174.29 765.37,1175.79 766.74,1177.29 768.11,1178.79 769.48,1180.3 770.85,1181.8 772.22,1183.31 773.59,1184.82 774.96,1186.32 776.33,1187.82 777.7,1189.33 779.07,1190.82 780.44,1192.32 781.81,1193.81 783.18,1195.3 784.55,1196.78 785.92,1198.25 787.29,1199.73 788.66,1201.2 790.03,1202.66 791.4,1204.13 792.77,1205.59 794.14,1207.05 795.51,1208.51 796.88,1209.97 798.25,1211.43 799.62,1212.89 800.99,1214.36 802.36,1215.82 803.73,1217.29 805.1,1218.76 806.47,1220.24 807.84,1221.72 809.21,1223.21 810.58,1224.7 811.95,1226.2 813.32,1227.71 814.69,1229.22 816.06,1230.75 817.44,1232.28 818.81,1233.82 820.18,1235.37 821.55,1236.94 822.92,1238.51 824.29,1240.09 825.66,1241.69 827.03,1243.29 828.4,1244.9 829.77,1246.51 831.14,1248.14 832.51,1249.77 833.88,1251.4 835.25,1253.04 836.62,1254.69 837.99,1256.34 839.36,1257.99 840.73,1259.65 842.1,1261.31 843.47,1262.97 844.84,1264.63 846.21,1266.29 847.58,1267.95 848.95,1269.62 850.32,1271.28 851.69,1272.94 853.06,1274.59 854.43,1276.25 855.8,1277.9 857.17,1279.54 858.54,1281.19 859.91,1282.82 861.28,1284.45 862.65,1286.08 864.02,1287.7 865.39,1289.31 866.76,1290.91 868.13,1292.51 869.5,1294.09 870.87,1295.67 872.24,1297.23 873.61,1298.79 874.98,1300.36 876.35,1301.92 877.72,1303.49 879.09,1305.05 880.46,1306.62 881.83,1308.19 883.2,1309.75 884.57,1311.31 885.94,1312.87 887.31,1314.43 888.68,1315.98 890.05,1317.53 891.42,1319.08 892.79,1320.62 894.16,1322.16 895.53,1323.69 896.9,1325.22 898.27,1326.74 899.64,1328.25 901.01,1329.75 902.38,1331.25 903.75,1332.74 905.12,1334.22 906.49,1335.7 907.86,1337.16 909.23,1338.61 910.6,1340.06 911.97,1341.49 913.34,1342.91 914.72,1344.32 916.09,1345.71 917.46,1347.1 918.83,1348.47 920.2,1349.83 921.57,1351.17 922.94,1352.51 924.31,1353.83 925.68,1355.15 927.05,1356.45 928.42,1357.75 929.79,1359.04 931.16,1360.32 932.53,1361.6 933.9,1362.86 935.27,1364.12 936.64,1365.37 938.01,1366.61 939.38,1367.85 940.75,1369.08 942.12,1370.3 943.49,1371.52 944.86,1372.73 946.23,1373.94 947.6,1375.14 948.97,1376.34 950.34,1377.53 951.71,1378.72 953.08,1379.91 954.45,1381.09 955.82,1382.27 957.19,1383.44 958.56,1384.62 959.93,1385.79 961.3,1386.95 962.67,1388.12 964.04,1389.28 965.41,1390.45 966.78,1391.61 968.15,1392.77 969.52,1393.93 970.89,1395.1 972.26,1396.26 973.63,1397.43 975,1398.59 976.37,1399.76 977.74,1400.92 979.11,1402.09 980.48,1403.25 981.85,1404.41 983.22,1405.57 984.59,1406.72 985.96,1407.88 987.33,1409.02 988.7,1410.16 990.07,1411.3 991.44,1412.43 992.81,1413.56 994.18,1414.68 995.55,1415.79 996.92,1416.9 998.29,1417.99 999.66,1419.08 1001.03,1420.16 1002.4,1421.23 1003.77,1422.29 1005.14,1423.34 1006.51,1424.38 1007.88,1425.4 1009.25,1426.42 1010.62,1427.42 1011.99,1428.41 1013.37,1429.39 1014.74,1430.35 1016.11,1431.3 1017.48,1432.24 1018.85,1433.17 1020.22,1434.1 1021.59,1435.03 1022.96,1435.95 1024.33,1436.86 1025.7,1437.77 1027.07,1438.67 1028.44,1439.57 1029.81,1440.46 1031.18,1441.34 1032.55,1442.22 1033.92,1443.09 1035.29,1443.96 1036.66,1444.81 1038.03,1445.66 1039.4,1446.5 1040.77,1447.33 1042.14,1448.16 1043.51,1448.98 1044.88,1449.78 1046.25,1450.58 1047.62,1451.37 1048.99,1452.15 1050.36,1452.92 1051.73,1453.68 1053.1,1454.43 1054.47,1455.17 1055.84,1455.9 1057.21,1456.62 1058.58,1457.33 1059.95,1458.02 1061.32,1458.71 1062.69,1459.38 1064.06,1460.04 1065.43,1460.7 1066.8,1461.36 1068.17,1462.03 1069.54,1462.7 1070.91,1463.37 1072.28,1464.04 1073.65,1464.71 1075.02,1465.38 1076.39,1466.04 1077.76,1466.71 1079.13,1467.36 1080.5,1468.02 1081.87,1468.66 1083.24,1469.3 1084.61,1469.93 1085.98,1470.55 1087.35,1471.16 1088.72,1471.76 1090.09,1472.34 1091.46,1472.91 1092.83,1473.47 1094.2,1474.01 1095.57,1474.53 1096.94,1475.04 1098.31,1475.53 1099.68,1475.99 1101.05,1476.44 1102.42,1476.87 1103.79,1477.27 1105.16,1477.64 1106.53,1478 1107.9,1478.32 1109.27,1478.62 1110.65,1478.89 1112.02,1479.13 1113.39,1479.36 1114.76,1479.58 1116.13,1479.8 1117.5,1480.02 1118.87,1480.23 1120.24,1480.45 1121.61,1480.66 1122.98,1480.86 1124.35,1481.07 1125.72,1481.26 1127.09,1481.46 1128.46,1481.65 1129.83,1481.83 1131.2,1482.01 1132.57,1482.18 1133.94,1482.35 1135.31,1482.51 1136.68,1482.67 1138.05,1482.81 1139.42,1482.95 1140.79,1483.08 1142.16,1483.21 1143.53,1483.33 1144.9,1483.43 1146.27,1483.53 1147.64,1483.62 1149.01,1483.7 1150.38,1483.77 1151.75,1483.83 1153.12,1483.88 1154.49,1483.92 1155.86,1483.95 1157.23,1483.97 1158.6,1483.98" fill="none" stroke="#7e2f8e" stroke-width="7.4" stroke-linejoin="round" stroke-dasharray="7.2 7.7"/>
</g>
<rect x="474.9" y="943.5" width="683.7" height="631.8" fill="none" stroke="#262626" stroke-width="2"/>
<path d="M645.82,1575.3v-7.5M645.82,943.5v7.5M816.75,1575.3v-7.5M816.75,943.5v7.5M987.67,1575.3v-7.5M987.67,943.5v7.5M474.9,1000.94h7.5M1158.6,1000.94h-7.5M474.9,1115.81h7.5M1158.6,1115.81h-7.5M474.9,1230.68h7.5M1158.6,1230.68h-7.5M474.9,1345.55h7.5M1158.6,1345.55h-7.5M474.9,1460.43h7.5M1158.6,1460.43h-7.5" stroke="#262626" stroke-width="2" fill="none"/>
<text x="456.9" y="1020.74" font-size="55.5" text-anchor="end" >0</text>
<text x="456.9" y="1135.61" font-size="55.5" text-anchor="end" >-0.02</text>
<text x="456.9" y="1250.48" font-size="55.5" text-anchor="end" >-0.04</text>
<text x="456.9" y="1365.35" font-size="55.5" text-anchor="end" >-0.06</text>
<text x="456.9" y="1480.23" font-size="55.5" text-anchor="end" >-0.08</text>
<text x="456.9" y="1595.1" font-size="55.5" text-anchor="end" >-0.1</text>
<text x="474.9" y="1645" font-size="55.5" text-anchor="middle" >0</text>
<text x="645.82" y="1645" font-size="55.5" text-anchor="middle" >π/4</text>
<text x="816.75" y="1645" font-size="55.5" text-anchor="middle" >π/2</text>
<text x="987.67" y="1645" font-size="55.5" text-anchor="middle" >3π/4</text>
<text x="1158.6" y="1645" font-size="55.5" text-anchor="middle" >π</text>
<text x="816.4" y="1710" font-size="56" text-anchor="middle" >Wavenumber (<tspan font-style="italic">κ</tspan>)</text>
<text x="322" y="1254.7" font-size="55" text-anchor="middle" transform="rotate(-90 322 1254.7)">Frequency Deviation (ΔΩ)</text>
<line x1="496.5" y1="1332.9" x2="613" y2="1332.9" stroke="#1c1c1c" stroke-width="7.4" />
<text x="623.35" y="1352.5" font-size="55" font-style="italic" fill="#000">μ</text>
<text transform="translate(665.35,1352.5) scale(1.15,1)" font-size="55" fill="#000">=</text>
<text x="712.3" y="1352.5" font-size="55" fill="#000">0</text>
<line x1="496.5" y1="1397.35" x2="613" y2="1397.35" stroke="#ff0000" stroke-width="7.4" />
<text x="623.35" y="1416.95" font-size="55" font-style="italic" fill="#000">μ</text>
<text transform="translate(665.35,1416.95) scale(1.15,1)" font-size="55" fill="#000">=</text>
<text x="712.3" y="1416.95" font-size="55" fill="#000">0.001</text>
<line x1="496.5" y1="1461.8" x2="613" y2="1461.8" stroke="#77ac30" stroke-width="7.4" />
<text x="623.35" y="1481.4" font-size="55" font-style="italic" fill="#000">μ</text>
<text transform="translate(665.35,1481.4) scale(1.15,1)" font-size="55" fill="#000">=</text>
<text x="712.3" y="1481.4" font-size="55" fill="#000">0.002</text>
<line x1="496.5" y1="1526.25" x2="613" y2="1526.25" stroke="#7e2f8e" stroke-width="7.4" stroke-dasharray="7.2 7.7"/>
<text x="623" y="1545.85" font-size="55" text-anchor="start" fill="#000">Linear</text>
<text x="761" y="1756.3" font-size="40" text-anchor="middle" fill="#000">(b)</text>
<g clip-path="url(#cc)">
<polyline points="230.9,2127.6 231.7,2126.03 232.51,2124.44 233.31,2122.84 234.11,2121.23 234.92,2119.62 235.72,2117.99 236.52,2116.36 237.33,2114.72 238.13,2113.07 238.94,2111.41 239.74,2109.74 240.54,2108.07 241.35,2106.38 242.15,2104.69 242.95,2103 243.76,2101.29 244.56,2099.58 245.36,2097.87 246.17,2096.14 246.97,2094.41 247.77,2092.68 248.58,2090.94 249.38,2089.19 250.18,2087.44 250.99,2085.69 251.79,2083.92 252.6,2082.16 253.4,2080.39 254.2,2078.62 255.01,2076.84 255.81,2075.06 256.61,2073.27 257.42,2071.48 258.22,2069.69 259.02,2067.9 259.83,2066.1 260.63,2064.3 261.43,2062.5 262.24,2060.7 263.04,2058.89 263.84,2057.08 264.65,2055.28 265.45,2053.47 266.26,2051.66 267.06,2049.85 267.86,2048.04 268.67,2046.23 269.47,2044.42 270.27,2042.61 271.08,2040.8 271.88,2038.99 272.68,2037.18 273.49,2035.37 274.29,2033.57 275.09,2031.76 275.9,2029.96 276.7,2028.16 277.51,2026.36 278.31,2024.57 279.11,2022.78 279.92,2020.99 280.72,2019.2 281.52,2017.42 282.33,2015.64 283.13,2013.86 283.93,2012.09 284.74,2010.33 285.54,2008.56 286.34,2006.81 287.15,2005.05 287.95,2003.3 288.75,2001.56 289.56,1999.83 290.36,1998.1 291.17,1996.37 291.97,1994.65 292.77,1992.94 293.58,1991.23 294.38,1989.53 295.18,1987.84 295.99,1986.16 296.79,1984.48 297.59,1982.81 298.4,1981.15 299.2,1979.5 300,1977.85 300.81,1976.22 301.61,1974.59 302.41,1972.97 303.22,1971.36 304.02,1969.76 304.83,1968.17 305.63,1966.59 306.43,1965.02 307.24,1963.45 308.04,1961.9 308.84,1960.36 309.65,1958.83 310.45,1957.31 311.25,1955.81 312.06,1954.31 312.86,1952.82 313.66,1951.35 314.47,1949.89 315.27,1948.44 316.07,1947 316.88,1945.57 317.68,1944.16 318.49,1942.76 319.29,1941.37 320.09,1940 320.9,1938.63 321.7,1937.29 322.5,1935.95 323.31,1934.63 324.11,1933.32 324.91,1932.03 325.72,1930.75 326.52,1929.48 327.32,1928.23 328.13,1927 328.93,1925.78 329.73,1924.57 330.54,1923.38 331.34,1922.2 332.15,1921.04 332.95,1919.9 333.75,1918.77 334.56,1917.66 335.36,1916.56 336.16,1915.48 336.97,1914.41 337.77,1913.36 338.57,1912.33 339.38,1911.31 340.18,1910.31 340.98,1909.33 341.79,1908.36 342.59,1907.42 343.39,1906.48 344.2,1905.57 345,1904.67 345.81,1903.79 346.61,1902.93 347.41,1902.09 348.22,1901.26 349.02,1900.45 349.82,1899.66 350.63,1898.89 351.43,1898.14 352.23,1897.4 353.04,1896.68 353.84,1895.99 354.64,1895.31 355.45,1894.64 356.25,1894 357.06,1893.38 357.86,1892.77 358.66,1892.19 359.47,1891.62 360.27,1891.07 361.07,1890.54 361.88,1890.03 362.68,1889.54 363.48,1889.07 364.29,1888.62 365.09,1888.19 365.89,1887.78 366.7,1887.39 367.5,1887.01 368.3,1886.66 369.11,1886.33 369.91,1886.01 370.72,1885.72 371.52,1885.45 372.32,1885.19 373.13,1884.96 373.93,1884.74 374.73,1884.55 375.54,1884.37 376.34,1884.22 377.14,1884.08 377.95,1883.97 378.75,1883.88 379.55,1883.8 380.36,1883.75 381.16,1883.71 381.96,1883.7 382.77,1883.71 383.57,1883.73 384.38,1883.78 385.18,1883.85 385.98,1883.93 386.79,1884.04 387.59,1884.17 388.39,1884.31 389.2,1884.48 390,1884.67 390.8,1884.87 391.61,1885.1 392.41,1885.35 393.21,1885.61 394.02,1885.9 394.82,1886.2 395.62,1886.53 396.43,1886.88 397.23,1887.24 398.04,1887.63 398.84,1888.03 399.64,1888.46 400.45,1888.9 401.25,1889.36 402.05,1889.85 402.86,1890.35 403.66,1890.87 404.46,1891.41 405.27,1891.97 406.07,1892.55 406.87,1893.14 407.68,1893.76 408.48,1894.4 409.28,1895.05 410.09,1895.72 410.89,1896.42 411.7,1897.13 412.5,1897.85 413.3,1898.6 414.11,1899.37 414.91,1900.15 415.71,1900.95 416.52,1901.77 417.32,1902.61 418.12,1903.46 418.93,1904.33 419.73,1905.22 420.53,1906.13 421.34,1907.06 422.14,1908 422.95,1908.96 423.75,1909.93 424.55,1910.93 425.36,1911.94 426.16,1912.96 426.96,1914.01 427.77,1915.07 428.57,1916.14 429.37,1917.23 430.18,1918.34 430.98,1919.46 431.78,1920.6 432.59,1921.76 433.39,1922.93 434.19,1924.11 435,1925.31 435.8,1926.53 436.61,1927.76 437.41,1929.01 438.21,1930.26 439.02,1931.54 439.82,1932.83 440.62,1934.13 441.43,1935.44 442.23,1936.77 443.03,1938.12 443.84,1939.47 444.64,1940.84 445.44,1942.23 446.25,1943.62 447.05,1945.03 447.85,1946.45 448.66,1947.89 449.46,1949.33 450.27,1950.79 451.07,1952.26 451.87,1953.74 452.68,1955.23 453.48,1956.74 454.28,1958.25 455.09,1959.78 455.89,1961.31 456.69,1962.86 457.5,1964.42 458.3,1965.98 459.1,1967.56 459.91,1969.15 460.71,1970.75 461.51,1972.35 462.32,1973.97 463.12,1975.59 463.93,1977.23 464.73,1978.87 465.53,1980.52 466.34,1982.18 467.14,1983.84 467.94,1985.52 468.75,1987.2 469.55,1988.89 470.35,1990.58 471.16,1992.29 471.96,1994 472.76,1995.71 473.57,1997.43 474.37,1999.16 475.17,2000.9 475.98,2002.64 476.78,2004.38 477.59,2006.13 478.39,2007.89 479.19,2009.65 480,2011.42 480.8,2013.19 481.6,2014.96 482.41,2016.74 483.21,2018.52 484.01,2020.3 484.82,2022.09 485.62,2023.88 486.42,2025.68 487.23,2027.47 488.03,2029.27 488.83,2031.07 489.64,2032.88 490.44,2034.68 491.25,2036.49 492.05,2038.3 492.85,2040.1 493.66,2041.91 494.46,2043.72 495.26,2045.53 496.07,2047.35 496.87,2049.16 497.67,2050.97 498.48,2052.78 499.28,2054.59 500.08,2056.39 500.89,2058.2 501.69,2060.01 502.5,2061.81 503.3,2063.61 504.1,2065.41 504.91,2067.21 505.71,2069 506.51,2070.8 507.32,2072.59 508.12,2074.37 508.92,2076.16 509.73,2077.94 510.53,2079.71 511.33,2081.48 512.14,2083.25 512.94,2085.01 513.74,2086.77 514.55,2088.52 515.35,2090.27 516.16,2092.01 516.96,2093.75 517.76,2095.48 518.57,2097.21 519.37,2098.93 520.17,2100.64 520.98,2102.35 521.78,2104.05 522.58,2105.74 523.39,2107.42 524.19,2109.1 524.99,2110.77 525.8,2112.43 526.6,2114.09 527.4,2115.73 528.21,2117.37 529.01,2119 529.82,2120.62 530.62,2122.23 531.42,2123.83 532.23,2125.42 533.03,2127 533.83,2128.57 534.64,2130.14 535.44,2131.69 536.24,2133.23 537.05,2134.76 537.85,2136.28 538.65,2137.79 539.46,2139.29 540.26,2140.77 541.06,2142.25 541.87,2143.71 542.67,2145.16 543.48,2146.6 544.28,2148.03 545.08,2149.44 545.89,2150.84 546.69,2152.23 547.49,2153.61 548.3,2154.97 549.1,2156.32 549.9,2157.66 550.71,2158.98 551.51,2160.29 552.31,2161.58 553.12,2162.86 553.92,2164.13 554.72,2165.38 555.53,2166.61 556.33,2167.84 557.14,2169.04 557.94,2170.24 558.74,2171.41 559.55,2172.58 560.35,2173.72 561.15,2174.85 561.96,2175.97 562.76,2177.07 563.56,2178.15 564.37,2179.22 565.17,2180.27 565.97,2181.3 566.78,2182.32 567.58,2183.32 568.38,2184.3 569.19,2185.27 569.99,2186.22 570.8,2187.15 571.6,2188.07 572.4,2188.96 573.21,2189.85 574.01,2190.71 574.81,2191.55 575.62,2192.38 576.42,2193.19 577.22,2193.98 578.03,2194.76 578.83,2195.51 579.63,2196.25 580.44,2196.97 581.24,2197.67 582.05,2198.35 582.85,2199.01 583.65,2199.65 584.46,2200.28 585.26,2200.88 586.06,2201.47 586.87,2202.04 587.67,2202.59 588.47,2203.12 589.28,2203.63 590.08,2204.12 590.88,2204.59 591.69,2205.05 592.49,2205.48 593.29,2205.89 594.1,2206.29 594.9,2206.66 595.71,2207.02 596.51,2207.35 597.31,2207.67 598.12,2207.96 598.92,2208.24 599.72,2208.49 600.53,2208.73 601.33,2208.94 602.13,2209.14 602.94,2209.31 603.74,2209.47 604.54,2209.61 605.35,2209.72 606.15,2209.82 606.95,2209.89 607.76,2209.95 608.56,2209.98 609.37,2210 610.17,2209.99 610.97,2209.97 611.78,2209.92 612.58,2209.86 613.38,2209.77 614.19,2209.67 614.99,2209.54 615.79,2209.4 616.6,2209.23 617.4,2209.05 618.2,2208.84 619.01,2208.62 619.81,2208.37 620.61,2208.11 621.42,2207.82 622.22,2207.52 623.03,2207.19 623.83,2206.85 624.63,2206.48 625.44,2206.1 626.24,2205.7 627.04,2205.27 627.85,2204.83 628.65,2204.37 629.45,2203.89 630.26,2203.39 631.06,2202.87 631.86,2202.33 632.67,2201.77 633.47,2201.19 634.27,2200.6 635.08,2199.98 635.88,2199.35 636.69,2198.7 637.49,2198.02 638.29,2197.33 639.1,2196.63 639.9,2195.9 640.7,2195.15 641.51,2194.39 642.31,2193.61 643.11,2192.81 643.92,2191.99 644.72,2191.15 645.52,2190.3 646.33,2189.43 647.13,2188.54 647.94,2187.63 648.74,2186.71 649.54,2185.77 650.35,2184.81 651.15,2183.83 651.95,2182.84 652.76,2181.83 653.56,2180.81 654.36,2179.77 655.17,2178.71 655.97,2177.63 656.77,2176.54 657.58,2175.44 658.38,2174.32 659.18,2173.18 659.99,2172.02 660.79,2170.85 661.6,2169.67 662.4,2168.47 663.2,2167.26 664.01,2166.03 664.81,2164.78 665.61,2163.52 666.42,2162.25 667.22,2160.97 668.02,2159.66 668.83,2158.35 669.63,2157.02 670.43,2155.68 671.24,2154.32 672.04,2152.95 672.84,2151.57 673.65,2150.18 674.45,2148.77 675.26,2147.35 676.06,2145.92 676.86,2144.47 677.67,2143.01 678.47,2141.55 679.27,2140.07 680.08,2138.57 680.88,2137.07 681.68,2135.56 682.49,2134.03 683.29,2132.5 684.09,2130.95 684.9,2129.39 685.7,2127.83 686.5,2126.25 687.31,2124.66 688.11,2123.07 688.92,2121.46 689.72,2119.85 690.52,2118.22 691.33,2116.59 692.13,2114.95 692.93,2113.3 693.74,2111.64 694.54,2109.98 695.34,2108.3 696.15,2106.62 696.95,2104.93 697.75,2103.24 698.56,2101.53 699.36,2099.82 700.16,2098.11 700.97,2096.39 701.77,2094.66 702.58,2092.92 703.38,2091.18 704.18,2089.44 704.99,2087.69 705.79,2085.93 706.59,2084.17 707.4,2082.41 708.2,2080.64 709,2078.87 709.81,2077.09 710.61,2075.31 711.41,2073.52 712.22,2071.73 713.02,2069.94 713.82,2068.15 714.63,2066.35 715.43,2064.55 716.24,2062.75 717.04,2060.95 717.84,2059.15 718.65,2057.34 719.45,2055.53 720.25,2053.72 721.06,2051.91 721.86,2050.1 722.66,2048.29 723.47,2046.48 724.27,2044.67 725.07,2042.86 725.88,2041.05 726.68,2039.24 727.49,2037.43 728.29,2035.63 729.09,2033.82 729.9,2032.02 730.7,2030.22 731.5,2028.42 732.31,2026.62 733.11,2024.82 733.91,2023.03 734.72,2021.24 735.52,2019.45 736.32,2017.67 737.13,2015.89 737.93,2014.11 738.73,2012.34 739.54,2010.57 740.34,2008.81 741.15,2007.05 741.95,2005.3 742.75,2003.55 743.56,2001.81 744.36,2000.07 745.16,1998.34 745.97,1996.61 746.77,1994.89 747.57,1993.18 748.38,1991.47 749.18,1989.77 749.98,1988.08 750.79,1986.4 751.59,1984.72 752.39,1983.05 753.2,1981.38 754,1979.73 754.81,1978.08 755.61,1976.45 756.41,1974.82 757.22,1973.2 758.02,1971.59 758.82,1969.98 759.63,1968.39 760.43,1966.81 761.23,1965.24 762.04,1963.67 762.84,1962.12 763.64,1960.58 764.45,1959.05 765.25,1957.53 766.05,1956.02 766.86,1954.52 767.66,1953.03 768.47,1951.56 769.27,1950.09 770.07,1948.64 770.88,1947.2 771.68,1945.77 772.48,1944.36 773.29,1942.96 774.09,1941.57 774.89,1940.19 775.7,1938.83 776.5,1937.48 777.3,1936.14 778.11,1934.82 778.91,1933.51 779.71,1932.21 780.52,1930.93 781.32,1929.66 782.13,1928.41 782.93,1927.17 783.73,1925.95 784.54,1924.74 785.34,1923.55 786.14,1922.37 786.95,1921.21 787.75,1920.06 788.55,1918.93 789.36,1917.81 790.16,1916.71 790.96,1915.63 791.77,1914.56 792.57,1913.51 793.37,1912.47 794.18,1911.45 794.98,1910.45 795.79,1909.47 796.59,1908.5 797.39,1907.55 798.2,1906.61 799,1905.7 799.8,1904.8 800.61,1903.92 801.41,1903.05 802.21,1902.21 803.02,1901.38 803.82,1900.57 804.62,1899.77 805.43,1899 806.23,1898.24 807.04,1897.5 807.84,1896.78 808.64,1896.08 809.45,1895.4 810.25,1894.74 811.05,1894.09 811.86,1893.46 812.66,1892.86 813.46,1892.27 814.27,1891.7 815.07,1891.15 815.87,1890.62 816.68,1890.11 817.48,1889.61 818.28,1889.14 819.09,1888.69 819.89,1888.25 820.7,1887.84 821.5,1887.44 822.3,1887.07 823.11,1886.71 823.91,1886.37 824.71,1886.06 825.52,1885.76 826.32,1885.48 827.12,1885.23 827.93,1884.99 828.73,1884.77 829.53,1884.57 830.34,1884.4 831.14,1884.24 831.94,1884.1 832.75,1883.99 833.55,1883.89 834.36,1883.81 835.16,1883.75 835.96,1883.72 836.77,1883.7 837.57,1883.7 838.37,1883.73 839.18,1883.77 839.98,1883.84 840.78,1883.92 841.59,1884.02 842.39,1884.15 843.19,1884.29 844,1884.45 844.8,1884.64 845.6,1884.84 846.41,1885.07 847.21,1885.31 848.02,1885.57 848.82,1885.86 849.62,1886.16 850.43,1886.48 851.23,1886.83 852.03,1887.19 852.84,1887.57 853.64,1887.97 854.44,1888.39 855.25,1888.84 856.05,1889.3 856.85,1889.78 857.66,1890.28 858.46,1890.79 859.26,1891.33 860.07,1891.89 860.87,1892.46 861.68,1893.06 862.48,1893.67 863.28,1894.31 864.09,1894.96 864.89,1895.63 865.69,1896.32 866.5,1897.02 867.3,1897.75 868.1,1898.49 868.91,1899.26 869.71,1900.04 870.51,1900.84 871.32,1901.65 872.12,1902.49 872.93,1903.34 873.73,1904.21 874.53,1905.1 875.34,1906 876.14,1906.93 876.94,1907.87 877.75,1908.82 878.55,1909.8 879.35,1910.79 880.16,1911.79 880.96,1912.82 881.76,1913.86 882.57,1914.92 883.37,1915.99 884.17,1917.08 884.98,1918.18 885.78,1919.31 886.59,1920.44 887.39,1921.59 888.19,1922.76 889,1923.95 889.8,1925.14 890.6,1926.36 891.41,1927.59 892.21,1928.83 893.01,1930.09 893.82,1931.36 894.62,1932.64 895.42,1933.94 896.23,1935.26 897.03,1936.59 897.83,1937.93 898.64,1939.28 899.44,1940.65 900.25,1942.03 901.05,1943.42 901.85,1944.83 902.66,1946.25 903.46,1947.68 904.26,1949.13 905.07,1950.58 905.87,1952.05 906.67,1953.53 907.48,1955.02 908.28,1956.52 909.08,1958.04 909.89,1959.56 910.69,1961.1 911.49,1962.64 912.3,1964.2 913.1,1965.76 913.91,1967.34 914.71,1968.93 915.51,1970.52 916.32,1972.13 917.12,1973.74 917.92,1975.36 918.73,1976.99 919.53,1978.64 920.33,1980.28 921.14,1981.94 921.94,1983.61 922.74,1985.28 923.55,1986.96 924.35,1988.65 925.15,1990.34 925.96,1992.05 926.76,1993.75 927.57,1995.47 928.37,1997.19 929.17,1998.92 929.98,2000.65 930.78,2002.39 931.58,2004.14 932.39,2005.89 933.19,2007.64 933.99,2009.4 934.8,2011.17 935.6,2012.94 936.4,2014.71 937.21,2016.49 938.01,2018.27 938.81,2020.05 939.62,2021.84 940.42,2023.63 941.23,2025.42 942.03,2027.22 942.83,2029.02 943.64,2030.82 944.44,2032.62 945.24,2034.43 946.05,2036.23 946.85,2038.04 947.65,2039.85 948.46,2041.66 949.26,2043.47 950.06,2045.28 950.87,2047.09 951.67,2048.9 952.48,2050.71 953.28,2052.52 954.08,2054.33 954.89,2056.14 955.69,2057.95 956.49,2059.75 957.3,2061.56 958.1,2063.36 958.9,2065.16 959.71,2066.96 960.51,2068.75 961.31,2070.54 962.12,2072.33 962.92,2074.12 963.72,2075.9 964.53,2077.68 965.33,2079.46 966.14,2081.23 966.94,2083 967.74,2084.76 968.55,2086.52 969.35,2088.28 970.15,2090.03 970.96,2091.77 971.76,2093.51 972.56,2095.24 973.37,2096.97 974.17,2098.69 974.97,2100.4 975.78,2102.11 976.58,2103.81 977.38,2105.5 978.19,2107.19 978.99,2108.86 979.8,2110.54 980.6,2112.2 981.4,2113.85 982.21,2115.5 983.01,2117.14 983.81,2118.77 984.62,2120.39 985.42,2122 986.22,2123.6 987.03,2125.2 987.83,2126.78 988.63,2128.35 989.44,2129.92 990.24,2131.47 991.04,2133.01 991.85,2134.54 992.65,2136.07 993.46,2137.58 994.26,2139.08 995.06,2140.56 995.87,2142.04 996.67,2143.5 997.47,2144.96 998.28,2146.4 999.08,2147.83 999.88,2149.24 1000.69,2150.65 1001.49,2152.04 1002.29,2153.41 1003.1,2154.78 1003.9,2156.13 1004.7,2157.47 1005.51,2158.79 1006.31,2160.1 1007.12,2161.4 1007.92,2162.68 1008.72,2163.95 1009.53,2165.2 1010.33,2166.44 1011.13,2167.67 1011.94,2168.87 1012.74,2170.07 1013.54,2171.25 1014.35,2172.41 1015.15,2173.56 1015.95,2174.69 1016.76,2175.81 1017.56,2176.91 1018.36,2178 1019.17,2179.07 1019.97,2180.12 1020.78,2181.15 1021.58,2182.17 1022.38,2183.18 1023.19,2184.16 1023.99,2185.13 1024.79,2186.09 1025.6,2187.02 1026.4,2187.94 1027.2,2188.84 1028.01,2189.72 1028.81,2190.59 1029.61,2191.44 1030.42,2192.27 1031.22,2193.08 1032.03,2193.87 1032.83,2194.65 1033.63,2195.4 1034.44,2196.14 1035.24,2196.87 1036.04,2197.57 1036.85,2198.25 1037.65,2198.92 1038.45,2199.56 1039.26,2200.19 1040.06,2200.8 1040.86,2201.39 1041.67,2201.96 1042.47,2202.51 1043.27,2203.05 1044.08,2203.56 1044.88,2204.05 1045.69,2204.53 1046.49,2204.98 1047.29,2205.42 1048.1,2205.84 1048.9,2206.23 1049.7,2206.61 1050.51,2206.97 1051.31,2207.3 1052.11,2207.62 1052.92,2207.92 1053.72,2208.2 1054.52,2208.46 1055.33,2208.7 1056.13,2208.91 1056.93,2209.11 1057.74,2209.29 1058.54,2209.45 1059.35,2209.59 1060.15,2209.71 1060.95,2209.81 1061.76,2209.88 1062.56,2209.94 1063.36,2209.98 1064.17,2210 1064.97,2210 1065.77,2209.97 1066.58,2209.93 1067.38,2209.87 1068.18,2209.79 1068.99,2209.69 1069.79,2209.56 1070.59,2209.42 1071.4,2209.26 1072.2,2209.08 1073.01,2208.87 1073.81,2208.65 1074.61,2208.41 1075.42,2208.15 1076.22,2207.86 1077.02,2207.56 1077.83,2207.24 1078.63,2206.9 1079.43,2206.54 1080.24,2206.16 1081.04,2205.76 1081.84,2205.34 1082.65,2204.9 1083.45,2204.44 1084.25,2203.96 1085.06,2203.46 1085.86,2202.94 1086.67,2202.41 1087.47,2201.85 1088.27,2201.28 1089.08,2200.68 1089.88,2200.07 1090.68,2199.44 1091.49,2198.79 1092.29,2198.12 1093.09,2197.43 1093.9,2196.73 1094.7,2196 1095.5,2195.26 1096.31,2194.5 1097.11,2193.72 1097.92,2192.92 1098.72,2192.11 1099.52,2191.27 1100.33,2190.42 1101.13,2189.55 1101.93,2188.67 1102.74,2187.76 1103.54,2186.84 1104.34,2185.9 1105.15,2184.95 1105.95,2183.97 1106.75,2182.98 1107.56,2181.98 1108.36,2180.95 1109.16,2179.91 1109.97,2178.86 1110.77,2177.79 1111.58,2176.7 1112.38,2175.59 1113.18,2174.47 1113.99,2173.34 1114.79,2172.19 1115.59,2171.02 1116.4,2169.84 1117.2,2168.64 1118,2167.43 1118.81,2166.2 1119.61,2164.96 1120.41,2163.7 1121.22,2162.43 1122.02,2161.15 1122.82,2159.85 1123.63,2158.54 1124.43,2157.21 1125.24,2155.87 1126.04,2154.51 1126.84,2153.15 1127.65,2151.77 1128.45,2150.37 1129.25,2148.97 1130.06,2147.55 1130.86,2146.12 1131.66,2144.68 1132.47,2143.22 1133.27,2141.75 1134.07,2140.28 1134.88,2138.79 1135.68,2137.28 1136.48,2135.77 1137.29,2134.25 1138.09,2132.71 1138.9,2131.17 1139.7,2129.61 1140.5,2128.05 1141.31,2126.47 1142.11,2124.89 1142.91,2123.29 1143.72,2121.69 1144.52,2120.07 1145.32,2118.45 1146.13,2116.82 1146.93,2115.18 1147.73,2113.53 1148.54,2111.88 1149.34,2110.21 1150.14,2108.54 1150.95,2106.86 1151.75,2105.17 1152.56,2103.48 1153.36,2101.77 1154.16,2100.07 1154.97,2098.35 1155.77,2096.63 1156.57,2094.9 1157.38,2093.17 1158.18,2091.43 1158.98,2089.69 1159.79,2087.94 1160.59,2086.18 1161.39,2084.42 1162.2,2082.66 1163,2080.89 1163.8,2079.12 1164.61,2077.34 1165.41,2075.56 1166.22,2073.77 1167.02,2071.99 1167.82,2070.2 1168.63,2068.4 1169.43,2066.61 1170.23,2064.81 1171.04,2063.01 1171.84,2061.2 1172.64,2059.4 1173.45,2057.59 1174.25,2055.79 1175.05,2053.98 1175.86,2052.17 1176.66,2050.36 1177.47,2048.55 1178.27,2046.74 1179.07,2044.93 1179.88,2043.12 1180.68,2041.31 1181.48,2039.5 1182.29,2037.69 1183.09,2035.88 1183.89,2034.08 1184.7,2032.27 1185.5,2030.47 1186.3,2028.67 1187.11,2026.87 1187.91,2025.07 1188.71,2023.28 1189.52,2021.49 1190.32,2019.7 1191.13,2017.92 1191.93,2016.14 1192.73,2014.36 1193.54,2012.59 1194.34,2010.82 1195.14,2009.06 1195.95,2007.3 1196.75,2005.55 1197.55,2003.8 1198.36,2002.05 1199.16,2000.32 1199.96,1998.58 1200.77,1996.86 1201.57,1995.14 1202.37,1993.42 1203.18,1991.71 1203.98,1990.01 1204.79,1988.32 1205.59,1986.63 1206.39,1984.95 1207.2,1983.28 1208,1981.62 1208.8,1979.96 1209.61,1978.32 1210.41,1976.68 1211.21,1975.05 1212.02,1973.43 1212.82,1971.81 1213.62,1970.21 1214.43,1968.62 1215.23,1967.03 1216.03,1965.46 1216.84,1963.89 1217.64,1962.34 1218.45,1960.8 1219.25,1959.26 1220.05,1957.74 1220.86,1956.23 1221.66,1954.73 1222.46,1953.24 1223.27,1951.76 1224.07,1950.3 1224.87,1948.84 1225.68,1947.4 1226.48,1945.97 1227.28,1944.56 1228.09,1943.15 1228.89,1941.76 1229.69,1940.38 1230.5,1939.02 1231.3,1937.66 1232.11,1936.33 1232.91,1935 1233.71,1933.69 1234.52,1932.39 1235.32,1931.11 1236.12,1929.84 1236.93,1928.59 1237.73,1927.35 1238.53,1926.12 1239.34,1924.91 1240.14,1923.71 1240.94,1922.53 1241.75,1921.37 1242.55,1920.22 1243.35,1919.09 1244.16,1917.97 1244.96,1916.87 1245.77,1915.78 1246.57,1914.71 1247.37,1913.66 1248.18,1912.62 1248.98,1911.6 1249.78,1910.59 1250.59,1909.61 1251.39,1908.63 1252.19,1907.68 1253,1906.74 1253.8,1905.83 1254.6,1904.92 1255.41,1904.04 1256.21,1903.17 1257.02,1902.32 1257.82,1901.49 1258.62,1900.68 1259.43,1899.88 1260.23,1899.11 1261.03,1898.35 1261.84,1897.61 1262.64,1896.88 1263.44,1896.18 1264.25,1895.5 1265.05,1894.83 1265.85,1894.18 1266.66,1893.55 1267.46,1892.94 1268.26,1892.35 1269.07,1891.78 1269.87,1891.23 1270.68,1890.69 1271.48,1890.18 1272.28,1889.68 1273.09,1889.21 1273.89,1888.75 1274.69,1888.31 1275.5,1887.89 1276.3,1887.5 1277.1,1887.12 1277.91,1886.76 1278.71,1886.42 1279.51,1886.1 1280.32,1885.8 1281.12,1885.52 1281.92,1885.26 1282.73,1885.02 1283.53,1884.8 1284.34,1884.6 1285.14,1884.42 1285.94,1884.26 1286.75,1884.12 1287.55,1884 1288.35,1883.9 1289.16,1883.82 1289.96,1883.76 1290.76,1883.72 1291.57,1883.7 1292.37,1883.7 1293.17,1883.72 1293.98,1883.76 1294.78,1883.82 1295.58,1883.91 1296.39,1884.01 1297.19,1884.13 1298,1884.27 1298.8,1884.43 1299.6,1884.61 1300.41,1884.81 1301.21,1885.03 1302.01,1885.27 1302.82,1885.53 1303.62,1885.82 1304.42,1886.12 1305.23,1886.44 1306.03,1886.78 1306.83,1887.14 1307.64,1887.52 1308.44,1887.92 1309.24,1888.33 1310.05,1888.77 1310.85,1889.23 1311.66,1889.71 1312.46,1890.2 1313.26,1890.72 1314.07,1891.25 1314.87,1891.81 1315.67,1892.38 1316.48,1892.97 1317.28,1893.59 1318.08,1894.22 1318.89,1894.86 1319.69,1895.53 1320.49,1896.22 1321.3,1896.92 1322.1,1897.65 1322.91,1898.39 1323.71,1899.15 1324.51,1899.93 1325.32,1900.72 1326.12,1901.54 1326.92,1902.37 1327.73,1903.22 1328.53,1904.09 1329.33,1904.97 1330.14,1905.87 1330.94,1906.79 1331.74,1907.73 1332.55,1908.69 1333.35,1909.66 1334.15,1910.65 1334.96,1911.65 1335.76,1912.67 1336.57,1913.71 1337.37,1914.77 1338.17,1915.84 1338.98,1916.92 1339.78,1918.03 1340.58,1919.15 1341.39,1920.28 1342.19,1921.43 1342.99,1922.6 1343.8,1923.78 1344.6,1924.97 1345.4,1926.19 1346.21,1927.41 1347.01,1928.65 1347.81,1929.91 1348.62,1931.18 1349.42,1932.46 1350.23,1933.76 1351.03,1935.07 1351.83,1936.4 1352.64,1937.74 1353.44,1939.09 1354.24,1940.46 1355.05,1941.83 1355.85,1943.23 1356.65,1944.63 1357.46,1946.05 1358.26,1947.48 1359.06,1948.92 1359.87,1950.38 1360.67,1951.84 1361.47,1953.32 1362.28,1954.81 1363.08,1956.31 1363.89,1957.82 1364.69,1959.34 1365.49,1960.88 1366.3,1962.42 1367.1,1963.98 1367.9,1965.54 1368.71,1967.12 1369.51,1968.7 1370.31,1970.3 1371.12,1971.9 1371.92,1973.51 1372.72,1975.13 1373.53,1976.76 1374.33,1978.4 1375.13,1980.05 1375.94,1981.71 1376.74,1983.37 1377.55,1985.04 1378.35,1986.72 1379.15,1988.41 1379.96,1990.1 1380.76,1991.81 1381.56,1993.51 1382.37,1995.23 1383.17,1996.95 1383.97,1998.68 1384.78,2000.41 1385.58,2002.15 1386.38,2003.89 1387.19,2005.64 1387.99,2007.39 1388.79,2009.15 1389.6,2010.92 1390.4,2012.69 1391.21,2014.46 1392.01,2016.24 1392.81,2018.02 1393.62,2019.8 1394.42,2021.59 1395.22,2023.38 1396.03,2025.17 1396.83,2026.97 1397.63,2028.76 1398.44,2030.57 1399.24,2032.37 1400.04,2034.17 1400.85,2035.98 1401.65,2037.79 1402.46,2039.59 1403.26,2041.4 1404.06,2043.21 1404.87,2045.02 1405.67,2046.83 1406.47,2048.65 1407.28,2050.46 1408.08,2052.27 1408.88,2054.07 1409.69,2055.88 1410.49,2057.69 1411.29,2059.5 1412.1,2061.3 1412.9,2063.1 1413.7,2064.9 1414.51,2066.7 1415.31,2068.5 1416.12,2070.29 1416.92,2072.08 1417.72,2073.87 1418.53,2075.65 1419.33,2077.43 1420.13,2079.21 1420.94,2080.98 1421.74,2082.75 1422.54,2084.52 1423.35,2086.28 1424.15,2088.03 1424.95,2089.78 1425.76,2091.52 1426.56,2093.26 1427.36,2095 1428.17,2096.72 1428.97,2098.44 1429.78,2100.16 1430.58,2101.87 1431.38,2103.57 1432.19,2105.26 1432.99,2106.95 1433.79,2108.63 1434.6,2110.3 1435.4,2111.96" fill="none" stroke="#0072bd" stroke-width="3.5" stroke-linejoin="round" />
<polyline points="230.9,2127.6 231.7,2126.02 232.51,2124.43 233.31,2122.82 234.11,2121.21 234.92,2119.59 235.72,2117.96 236.52,2116.33 237.33,2114.68 238.13,2113.03 238.94,2111.37 239.74,2109.71 240.54,2108.03 241.35,2106.35 242.15,2104.66 242.95,2102.97 243.76,2101.27 244.56,2099.57 245.36,2097.85 246.17,2096.14 246.97,2094.41 247.77,2092.69 248.58,2090.95 249.38,2089.22 250.18,2087.47 250.99,2085.73 251.79,2083.98 252.6,2082.22 253.4,2080.47 254.2,2078.7 255.01,2076.94 255.81,2075.17 256.61,2073.4 257.42,2071.63 258.22,2069.85 259.02,2068.08 259.83,2066.3 260.63,2064.51 261.43,2062.73 262.24,2060.95 263.04,2059.16 263.84,2057.38 264.65,2055.59 265.45,2053.8 266.26,2052.02 267.06,2050.23 267.86,2048.44 268.67,2046.66 269.47,2044.87 270.27,2043.09 271.08,2041.3 271.88,2039.52 272.68,2037.74 273.49,2035.96 274.29,2034.18 275.09,2032.41 275.9,2030.64 276.7,2028.87 277.51,2027.1 278.31,2025.34 279.11,2023.57 279.92,2021.82 280.72,2020.06 281.52,2018.31 282.33,2016.57 283.13,2014.83 283.93,2013.09 284.74,2011.36 285.54,2009.63 286.34,2007.91 287.15,2006.19 287.95,2004.48 288.75,2002.78 289.56,2001.08 290.36,1999.39 291.17,1997.7 291.97,1996.02 292.77,1994.35 293.58,1992.68 294.38,1991.02 295.18,1989.37 295.99,1987.73 296.79,1986.09 297.59,1984.47 298.4,1982.85 299.2,1981.23 300,1979.63 300.81,1978.04 301.61,1976.45 302.41,1974.88 303.22,1973.31 304.02,1971.75 304.83,1970.21 305.63,1968.67 306.43,1967.14 307.24,1965.62 308.04,1964.12 308.84,1962.62 309.65,1961.14 310.45,1959.66 311.25,1958.2 312.06,1956.75 312.86,1955.31 313.66,1953.88 314.47,1952.46 315.27,1951.06 316.07,1949.66 316.88,1948.28 317.68,1946.91 318.49,1945.56 319.29,1944.22 320.09,1942.89 320.9,1941.57 321.7,1940.27 322.5,1938.98 323.31,1937.7 324.11,1936.44 324.91,1935.19 325.72,1933.96 326.52,1932.74 327.32,1931.53 328.13,1930.34 328.93,1929.16 329.73,1928 330.54,1926.85 331.34,1925.72 332.15,1924.6 332.95,1923.5 333.75,1922.41 334.56,1921.34 335.36,1920.29 336.16,1919.25 336.97,1918.22 337.77,1917.22 338.57,1916.22 339.38,1915.25 340.18,1914.29 340.98,1913.35 341.79,1912.42 342.59,1911.51 343.39,1910.62 344.2,1909.74 345,1908.88 345.81,1908.04 346.61,1907.22 347.41,1906.41 348.22,1905.62 349.02,1904.85 349.82,1904.09 350.63,1903.35 351.43,1902.63 352.23,1901.93 353.04,1901.24 353.84,1900.58 354.64,1899.93 355.45,1899.3 356.25,1898.69 357.06,1898.09 357.86,1897.52 358.66,1896.96 359.47,1896.42 360.27,1895.9 361.07,1895.4 361.88,1894.91 362.68,1894.45 363.48,1894 364.29,1893.57 365.09,1893.16 365.89,1892.77 366.7,1892.4 367.5,1892.05 368.3,1891.71 369.11,1891.4 369.91,1891.1 370.72,1890.82 371.52,1890.57 372.32,1890.33 373.13,1890.11 373.93,1889.91 374.73,1889.72 375.54,1889.56 376.34,1889.42 377.14,1889.29 377.95,1889.19 378.75,1889.1 379.55,1889.03 380.36,1888.98 381.16,1888.95 381.96,1888.94 382.77,1888.95 383.57,1888.98 384.38,1889.03 385.18,1889.09 385.98,1889.18 386.79,1889.28 387.59,1889.41 388.39,1889.55 389.2,1889.71 390,1889.89 390.8,1890.09 391.61,1890.31 392.41,1890.55 393.21,1890.8 394.02,1891.08 394.82,1891.37 395.62,1891.68 396.43,1892.01 397.23,1892.36 398.04,1892.73 398.84,1893.11 399.64,1893.52 400.45,1893.94 401.25,1894.38 402.05,1894.84 402.86,1895.32 403.66,1895.82 404.46,1896.33 405.27,1896.86 406.07,1897.41 406.87,1897.98 407.68,1898.56 408.48,1899.17 409.28,1899.79 410.09,1900.43 410.89,1901.08 411.7,1901.75 412.5,1902.45 413.3,1903.15 414.11,1903.88 414.91,1904.62 415.71,1905.38 416.52,1906.15 417.32,1906.94 418.12,1907.75 418.93,1908.58 419.73,1909.42 420.53,1910.28 421.34,1911.15 422.14,1912.04 422.95,1912.95 423.75,1913.87 424.55,1914.8 425.36,1915.76 426.16,1916.72 426.96,1917.71 427.77,1918.71 428.57,1919.72 429.37,1920.75 430.18,1921.79 430.98,1922.85 431.78,1923.92 432.59,1925.01 433.39,1926.11 434.19,1927.23 435,1928.36 435.8,1929.5 436.61,1930.66 437.41,1931.83 438.21,1933.01 439.02,1934.21 439.82,1935.42 440.62,1936.65 441.43,1937.88 442.23,1939.13 443.03,1940.39 443.84,1941.67 444.64,1942.95 445.44,1944.25 446.25,1945.56 447.05,1946.88 447.85,1948.22 448.66,1949.56 449.46,1950.92 450.27,1952.28 451.07,1953.66 451.87,1955.05 452.68,1956.45 453.48,1957.86 454.28,1959.28 455.09,1960.71 455.89,1962.15 456.69,1963.59 457.5,1965.05 458.3,1966.52 459.1,1968 459.91,1969.48 460.71,1970.98 461.51,1972.48 462.32,1973.99 463.12,1975.51 463.93,1977.04 464.73,1978.57 465.53,1980.12 466.34,1981.67 467.14,1983.23 467.94,1984.79 468.75,1986.36 469.55,1987.94 470.35,1989.52 471.16,1991.12 471.96,1992.71 472.76,1994.32 473.57,1995.92 474.37,1997.54 475.17,1999.16 475.98,2000.78 476.78,2002.41 477.59,2004.05 478.39,2005.69 479.19,2007.33 480,2008.98 480.8,2010.63 481.6,2012.28 482.41,2013.94 483.21,2015.6 484.01,2017.27 484.82,2018.94 485.62,2020.61 486.42,2022.28 487.23,2023.95 488.03,2025.63 488.83,2027.31 489.64,2028.99 490.44,2030.67 491.25,2032.36 492.05,2034.04 492.85,2035.73 493.66,2037.42 494.46,2039.1 495.26,2040.79 496.07,2042.48 496.87,2044.16 497.67,2045.85 498.48,2047.54 499.28,2049.22 500.08,2050.91 500.89,2052.59 501.69,2054.27 502.5,2055.95 503.3,2057.63 504.1,2059.31 504.91,2060.98 505.71,2062.66 506.51,2064.33 507.32,2065.99 508.12,2067.66 508.92,2069.32 509.73,2070.98 510.53,2072.63 511.33,2074.28 512.14,2075.93 512.94,2077.57 513.74,2079.21 514.55,2080.84 515.35,2082.47 516.16,2084.1 516.96,2085.71 517.76,2087.33 518.57,2088.94 519.37,2090.54 520.17,2092.13 520.98,2093.73 521.78,2095.31 522.58,2096.89 523.39,2098.46 524.19,2100.02 524.99,2101.58 525.8,2103.13 526.6,2104.67 527.4,2106.21 528.21,2107.74 529.01,2109.26 529.82,2110.77 530.62,2112.27 531.42,2113.77 532.23,2115.25 533.03,2116.73 533.83,2118.2 534.64,2119.66 535.44,2121.11 536.24,2122.55 537.05,2123.98 537.85,2125.4 538.65,2126.81 539.46,2128.22 540.26,2129.61 541.06,2130.99 541.87,2132.36 542.67,2133.72 543.48,2135.07 544.28,2136.4 545.08,2137.73 545.89,2139.04 546.69,2140.35 547.49,2141.64 548.3,2142.92 549.1,2144.18 549.9,2145.44 550.71,2146.68 551.51,2147.91 552.31,2149.13 553.12,2150.34 553.92,2151.53 554.72,2152.71 555.53,2153.87 556.33,2155.03 557.14,2156.17 557.94,2157.29 558.74,2158.41 559.55,2159.5 560.35,2160.59 561.15,2161.66 561.96,2162.72 562.76,2163.76 563.56,2164.79 564.37,2165.8 565.17,2166.8 565.97,2167.78 566.78,2168.75 567.58,2169.71 568.38,2170.65 569.19,2171.57 569.99,2172.48 570.8,2173.37 571.6,2174.25 572.4,2175.11 573.21,2175.96 574.01,2176.79 574.81,2177.61 575.62,2178.4 576.42,2179.19 577.22,2179.95 578.03,2180.71 578.83,2181.44 579.63,2182.16 580.44,2182.86 581.24,2183.54 582.05,2184.21 582.85,2184.86 583.65,2185.5 584.46,2186.12 585.26,2186.72 586.06,2187.3 586.87,2187.87 587.67,2188.42 588.47,2188.96 589.28,2189.47 590.08,2189.97 590.88,2190.45 591.69,2190.92 592.49,2191.36 593.29,2191.79 594.1,2192.2 594.9,2192.6 595.71,2192.98 596.51,2193.34 597.31,2193.68 598.12,2194 598.92,2194.31 599.72,2194.6 600.53,2194.87 601.33,2195.12 602.13,2195.36 602.94,2195.57 603.74,2195.77 604.54,2195.95 605.35,2196.12 606.15,2196.26 606.95,2196.39 607.76,2196.5 608.56,2196.6 609.37,2196.67 610.17,2196.73 610.97,2196.77 611.78,2196.79 612.58,2196.79 613.38,2196.78 614.19,2196.74 614.99,2196.69 615.79,2196.62 616.6,2196.54 617.4,2196.43 618.2,2196.31 619.01,2196.17 619.81,2196.01 620.61,2195.84 621.42,2195.65 622.22,2195.44 623.03,2195.21 623.83,2194.96 624.63,2194.7 625.44,2194.42 626.24,2194.12 627.04,2193.81 627.85,2193.47 628.65,2193.12 629.45,2192.76 630.26,2192.37 631.06,2191.97 631.86,2191.55 632.67,2191.11 633.47,2190.66 634.27,2190.19 635.08,2189.7 635.88,2189.2 636.69,2188.68 637.49,2188.14 638.29,2187.59 639.1,2187.02 639.9,2186.43 640.7,2185.83 641.51,2185.21 642.31,2184.57 643.11,2183.92 643.92,2183.25 644.72,2182.57 645.52,2181.87 646.33,2181.15 647.13,2180.42 647.94,2179.68 648.74,2178.91 649.54,2178.14 650.35,2177.34 651.15,2176.54 651.95,2175.71 652.76,2174.87 653.56,2174.02 654.36,2173.15 655.17,2172.27 655.97,2171.37 656.77,2170.46 657.58,2169.54 658.38,2168.6 659.18,2167.64 659.99,2166.67 660.79,2165.69 661.6,2164.7 662.4,2163.69 663.2,2162.66 664.01,2161.63 664.81,2160.58 665.61,2159.51 666.42,2158.44 667.22,2157.35 668.02,2156.25 668.83,2155.14 669.63,2154.01 670.43,2152.87 671.24,2151.72 672.04,2150.56 672.84,2149.38 673.65,2148.2 674.45,2147 675.26,2145.79 676.06,2144.57 676.86,2143.34 677.67,2142.1 678.47,2140.85 679.27,2139.58 680.08,2138.31 680.88,2137.02 681.68,2135.73 682.49,2134.42 683.29,2133.11 684.09,2131.78 684.9,2130.45 685.7,2129.11 686.5,2127.75 687.31,2126.39 688.11,2125.02 688.92,2123.64 689.72,2122.25 690.52,2120.86 691.33,2119.45 692.13,2118.04 692.93,2116.62 693.74,2115.19 694.54,2113.76 695.34,2112.32 696.15,2110.87 696.95,2109.41 697.75,2107.94 698.56,2106.47 699.36,2105 700.16,2103.51 700.97,2102.02 701.77,2100.53 702.58,2099.03 703.38,2097.52 704.18,2096.01 704.99,2094.49 705.79,2092.97 706.59,2091.44 707.4,2089.91 708.2,2088.37 709,2086.83 709.81,2085.29 710.61,2083.74 711.41,2082.19 712.22,2080.63 713.02,2079.07 713.82,2077.51 714.63,2075.94 715.43,2074.37 716.24,2072.8 717.04,2071.23 717.84,2069.65 718.65,2068.08 719.45,2066.5 720.25,2064.92 721.06,2063.33 721.86,2061.75 722.66,2060.16 723.47,2058.58 724.27,2056.99 725.07,2055.4 725.88,2053.81 726.68,2052.23 727.49,2050.64 728.29,2049.05 729.09,2047.46 729.9,2045.88 730.7,2044.29 731.5,2042.71 732.31,2041.12 733.11,2039.54 733.91,2037.96 734.72,2036.38 735.52,2034.8 736.32,2033.22 737.13,2031.65 737.93,2030.08 738.73,2028.51 739.54,2026.95 740.34,2025.38 741.15,2023.82 741.95,2022.27 742.75,2020.72 743.56,2019.17 744.36,2017.62 745.16,2016.08 745.97,2014.55 746.77,2013.01 747.57,2011.49 748.38,2009.96 749.18,2008.45 749.98,2006.93 750.79,2005.43 751.59,2003.93 752.39,2002.43 753.2,2000.94 754,1999.46 754.81,1997.98 755.61,1996.51 756.41,1995.04 757.22,1993.58 758.02,1992.13 758.82,1990.69 759.63,1989.25 760.43,1987.82 761.23,1986.4 762.04,1984.99 762.84,1983.58 763.64,1982.18 764.45,1980.79 765.25,1979.41 766.05,1978.04 766.86,1976.67 767.66,1975.32 768.47,1973.97 769.27,1972.63 770.07,1971.3 770.88,1969.98 771.68,1968.68 772.48,1967.38 773.29,1966.09 774.09,1964.81 774.89,1963.54 775.7,1962.28 776.5,1961.03 777.3,1959.79 778.11,1958.57 778.91,1957.35 779.71,1956.14 780.52,1954.95 781.32,1953.77 782.13,1952.6 782.93,1951.44 783.73,1950.29 784.54,1949.15 785.34,1948.03 786.14,1946.92 786.95,1945.82 787.75,1944.73 788.55,1943.66 789.36,1942.6 790.16,1941.55 790.96,1940.51 791.77,1939.49 792.57,1938.48 793.37,1937.48 794.18,1936.5 794.98,1935.52 795.79,1934.57 796.59,1933.62 797.39,1932.69 798.2,1931.78 799,1930.88 799.8,1929.99 800.61,1929.12 801.41,1928.26 802.21,1927.41 803.02,1926.58 803.82,1925.76 804.62,1924.96 805.43,1924.18 806.23,1923.4 807.04,1922.65 807.84,1921.9 808.64,1921.18 809.45,1920.46 810.25,1919.77 811.05,1919.09 811.86,1918.42 812.66,1917.77 813.46,1917.13 814.27,1916.51 815.07,1915.91 815.87,1915.32 816.68,1914.75 817.48,1914.19 818.28,1913.65 819.09,1913.12 819.89,1912.61 820.7,1912.12 821.5,1911.64 822.3,1911.18 823.11,1910.73 823.91,1910.31 824.71,1909.89 825.52,1909.5 826.32,1909.12 827.12,1908.75 827.93,1908.4 828.73,1908.07 829.53,1907.76 830.34,1907.46 831.14,1907.18 831.94,1906.91 832.75,1906.67 833.55,1906.43 834.36,1906.22 835.16,1906.02 835.96,1905.84 836.77,1905.67 837.57,1905.52 838.37,1905.39 839.18,1905.28 839.98,1905.18 840.78,1905.09 841.59,1905.03 842.39,1904.98 843.19,1904.95 844,1904.93 844.8,1904.93 845.6,1904.95 846.41,1904.99 847.21,1905.04 848.02,1905.11 848.82,1905.19 849.62,1905.29 850.43,1905.41 851.23,1905.55 852.03,1905.7 852.84,1905.86 853.64,1906.05 854.44,1906.25 855.25,1906.46 856.05,1906.7 856.85,1906.95 857.66,1907.21 858.46,1907.5 859.26,1907.79 860.07,1908.11 860.87,1908.44 861.68,1908.79 862.48,1909.15 863.28,1909.53 864.09,1909.92 864.89,1910.33 865.69,1910.76 866.5,1911.2 867.3,1911.66 868.1,1912.13 868.91,1912.62 869.71,1913.13 870.51,1913.65 871.32,1914.18 872.12,1914.74 872.93,1915.3 873.73,1915.88 874.53,1916.48 875.34,1917.09 876.14,1917.72 876.94,1918.36 877.75,1919.02 878.55,1919.69 879.35,1920.37 880.16,1921.07 880.96,1921.79 881.76,1922.52 882.57,1923.26 883.37,1924.02 884.17,1924.79 884.98,1925.57 885.78,1926.37 886.59,1927.19 887.39,1928.01 888.19,1928.85 889,1929.71 889.8,1930.58 890.6,1931.46 891.41,1932.35 892.21,1933.26 893.01,1934.18 893.82,1935.11 894.62,1936.05 895.42,1937.01 896.23,1937.98 897.03,1938.96 897.83,1939.96 898.64,1940.97 899.44,1941.98 900.25,1943.01 901.05,1944.06 901.85,1945.11 902.66,1946.18 903.46,1947.25 904.26,1948.34 905.07,1949.44 905.87,1950.55 906.67,1951.67 907.48,1952.8 908.28,1953.94 909.08,1955.1 909.89,1956.26 910.69,1957.43 911.49,1958.61 912.3,1959.81 913.1,1961.01 913.91,1962.22 914.71,1963.44 915.51,1964.67 916.32,1965.91 917.12,1967.16 917.92,1968.42 918.73,1969.68 919.53,1970.96 920.33,1972.24 921.14,1973.53 921.94,1974.83 922.74,1976.13 923.55,1977.45 924.35,1978.77 925.15,1980.1 925.96,1981.44 926.76,1982.78 927.57,1984.13 928.37,1985.49 929.17,1986.85 929.98,1988.22 930.78,1989.6 931.58,1990.98 932.39,1992.37 933.19,1993.76 933.99,1995.16 934.8,1996.57 935.6,1997.98 936.4,1999.39 937.21,2000.82 938.01,2002.24 938.81,2003.67 939.62,2005.11 940.42,2006.54 941.23,2007.99 942.03,2009.43 942.83,2010.88 943.64,2012.34 944.44,2013.8 945.24,2015.26 946.05,2016.72 946.85,2018.19 947.65,2019.66 948.46,2021.13 949.26,2022.6 950.06,2024.08 950.87,2025.56 951.67,2027.04 952.48,2028.52 953.28,2030 954.08,2031.49 954.89,2032.98 955.69,2034.46 956.49,2035.95 957.3,2037.44 958.1,2038.93 958.9,2040.42 959.71,2041.91 960.51,2043.4 961.31,2044.88 962.12,2046.37 962.92,2047.86 963.72,2049.35 964.53,2050.84 965.33,2052.32 966.14,2053.8 966.94,2055.29 967.74,2056.77 968.55,2058.25 969.35,2059.72 970.15,2061.2 970.96,2062.67 971.76,2064.14 972.56,2065.61 973.37,2067.08 974.17,2068.54 974.97,2070 975.78,2071.45 976.58,2072.9 977.38,2074.35 978.19,2075.8 978.99,2077.24 979.8,2078.67 980.6,2080.1 981.4,2081.53 982.21,2082.95 983.01,2084.37 983.81,2085.78 984.62,2087.19 985.42,2088.6 986.22,2089.99 987.03,2091.38 987.83,2092.77 988.63,2094.15 989.44,2095.52 990.24,2096.89 991.04,2098.25 991.85,2099.61 992.65,2100.95 993.46,2102.29 994.26,2103.63 995.06,2104.95 995.87,2106.27 996.67,2107.58 997.47,2108.89 998.28,2110.19 999.08,2111.47 999.88,2112.75 1000.69,2114.03 1001.49,2115.29 1002.29,2116.54 1003.1,2117.79 1003.9,2119.03 1004.7,2120.26 1005.51,2121.48 1006.31,2122.69 1007.12,2123.89 1007.92,2125.08 1008.72,2126.26 1009.53,2127.44 1010.33,2128.6 1011.13,2129.75 1011.94,2130.89 1012.74,2132.03 1013.54,2133.15 1014.35,2134.26 1015.15,2135.36 1015.95,2136.45 1016.76,2137.53 1017.56,2138.6 1018.36,2139.65 1019.17,2140.7 1019.97,2141.73 1020.78,2142.75 1021.58,2143.77 1022.38,2144.77 1023.19,2145.75 1023.99,2146.73 1024.79,2147.69 1025.6,2148.64 1026.4,2149.58 1027.2,2150.51 1028.01,2151.43 1028.81,2152.33 1029.61,2153.22 1030.42,2154.09 1031.22,2154.96 1032.03,2155.81 1032.83,2156.65 1033.63,2157.47 1034.44,2158.28 1035.24,2159.08 1036.04,2159.87 1036.85,2160.64 1037.65,2161.39 1038.45,2162.14 1039.26,2162.87 1040.06,2163.59 1040.86,2164.29 1041.67,2164.98 1042.47,2165.65 1043.27,2166.31 1044.08,2166.96 1044.88,2167.59 1045.69,2168.21 1046.49,2168.82 1047.29,2169.41 1048.1,2169.98 1048.9,2170.54 1049.7,2171.09 1050.51,2171.62 1051.31,2172.13 1052.11,2172.64 1052.92,2173.12 1053.72,2173.6 1054.52,2174.05 1055.33,2174.5 1056.13,2174.92 1056.93,2175.33 1057.74,2175.73 1058.54,2176.11 1059.35,2176.48 1060.15,2176.83 1060.95,2177.17 1061.76,2177.49 1062.56,2177.8 1063.36,2178.09 1064.17,2178.36 1064.97,2178.62 1065.77,2178.87 1066.58,2179.1 1067.38,2179.31 1068.18,2179.51 1068.99,2179.69 1069.79,2179.86 1070.59,2180.01 1071.4,2180.15 1072.2,2180.27 1073.01,2180.38 1073.81,2180.47 1074.61,2180.54 1075.42,2180.6 1076.22,2180.64 1077.02,2180.67 1077.83,2180.68 1078.63,2180.68 1079.43,2180.66 1080.24,2180.63 1081.04,2180.58 1081.84,2180.51 1082.65,2180.43 1083.45,2180.34 1084.25,2180.23 1085.06,2180.1 1085.86,2179.96 1086.67,2179.8 1087.47,2179.63 1088.27,2179.44 1089.08,2179.24 1089.88,2179.02 1090.68,2178.79 1091.49,2178.54 1092.29,2178.27 1093.09,2178 1093.9,2177.7 1094.7,2177.39 1095.5,2177.07 1096.31,2176.73 1097.11,2176.38 1097.92,2176.01 1098.72,2175.63 1099.52,2175.23 1100.33,2174.82 1101.13,2174.39 1101.93,2173.95 1102.74,2173.49 1103.54,2173.02 1104.34,2172.54 1105.15,2172.04 1105.95,2171.52 1106.75,2171 1107.56,2170.45 1108.36,2169.9 1109.16,2169.33 1109.97,2168.74 1110.77,2168.15 1111.58,2167.54 1112.38,2166.91 1113.18,2166.27 1113.99,2165.62 1114.79,2164.95 1115.59,2164.28 1116.4,2163.58 1117.2,2162.88 1118,2162.16 1118.81,2161.43 1119.61,2160.69 1120.41,2159.93 1121.22,2159.16 1122.02,2158.38 1122.82,2157.58 1123.63,2156.77 1124.43,2155.95 1125.24,2155.12 1126.04,2154.28 1126.84,2153.42 1127.65,2152.56 1128.45,2151.68 1129.25,2150.78 1130.06,2149.88 1130.86,2148.97 1131.66,2148.04 1132.47,2147.1 1133.27,2146.16 1134.07,2145.2 1134.88,2144.23 1135.68,2143.25 1136.48,2142.25 1137.29,2141.25 1138.09,2140.24 1138.9,2139.22 1139.7,2138.18 1140.5,2137.14 1141.31,2136.09 1142.11,2135.02 1142.91,2133.95 1143.72,2132.87 1144.52,2131.78 1145.32,2130.68 1146.13,2129.57 1146.93,2128.45 1147.73,2127.32 1148.54,2126.18 1149.34,2125.04 1150.14,2123.88 1150.95,2122.72 1151.75,2121.55 1152.56,2120.37 1153.36,2119.19 1154.16,2117.99 1154.97,2116.79 1155.77,2115.58 1156.57,2114.36 1157.38,2113.14 1158.18,2111.91 1158.98,2110.67 1159.79,2109.43 1160.59,2108.17 1161.39,2106.92 1162.2,2105.65 1163,2104.38 1163.8,2103.11 1164.61,2101.82 1165.41,2100.53 1166.22,2099.24 1167.02,2097.94 1167.82,2096.64 1168.63,2095.33 1169.43,2094.01 1170.23,2092.69 1171.04,2091.37 1171.84,2090.04 1172.64,2088.71 1173.45,2087.37 1174.25,2086.03 1175.05,2084.68 1175.86,2083.33 1176.66,2081.98 1177.47,2080.63 1178.27,2079.27 1179.07,2077.9 1179.88,2076.54 1180.68,2075.17 1181.48,2073.8 1182.29,2072.43 1183.09,2071.05 1183.89,2069.67 1184.7,2068.29 1185.5,2066.91 1186.3,2065.53 1187.11,2064.14 1187.91,2062.76 1188.71,2061.37 1189.52,2059.98 1190.32,2058.59 1191.13,2057.2 1191.93,2055.81 1192.73,2054.42 1193.54,2053.03 1194.34,2051.64 1195.14,2050.25 1195.95,2048.86 1196.75,2047.47 1197.55,2046.08 1198.36,2044.69 1199.16,2043.3 1199.96,2041.91 1200.77,2040.52 1201.57,2039.14 1202.37,2037.76 1203.18,2036.37 1203.98,2034.99 1204.79,2033.62 1205.59,2032.24 1206.39,2030.87 1207.2,2029.5 1208,2028.13 1208.8,2026.76 1209.61,2025.4 1210.41,2024.04 1211.21,2022.68 1212.02,2021.33 1212.82,2019.98 1213.62,2018.64 1214.43,2017.3 1215.23,2015.96 1216.03,2014.62 1216.84,2013.29 1217.64,2011.97 1218.45,2010.65 1219.25,2009.33 1220.05,2008.02 1220.86,2006.72 1221.66,2005.42 1222.46,2004.12 1223.27,2002.83 1224.07,2001.55 1224.87,2000.27 1225.68,1999 1226.48,1997.73 1227.28,1996.47 1228.09,1995.22 1228.89,1993.97 1229.69,1992.73 1230.5,1991.5 1231.3,1990.27 1232.11,1989.05 1232.91,1987.84 1233.71,1986.63 1234.52,1985.44 1235.32,1984.25 1236.12,1983.06 1236.93,1981.89 1237.73,1980.72 1238.53,1979.56 1239.34,1978.41 1240.14,1977.27 1240.94,1976.14 1241.75,1975.01 1242.55,1973.9 1243.35,1972.79 1244.16,1971.69 1244.96,1970.6 1245.77,1969.52 1246.57,1968.45 1247.37,1967.39 1248.18,1966.34 1248.98,1965.3 1249.78,1964.27 1250.59,1963.25 1251.39,1962.23 1252.19,1961.23 1253,1960.24 1253.8,1959.26 1254.6,1958.29 1255.41,1957.33 1256.21,1956.38 1257.02,1955.44 1257.82,1954.51 1258.62,1953.6 1259.43,1952.69 1260.23,1951.8 1261.03,1950.91 1261.84,1950.04 1262.64,1949.18 1263.44,1948.33 1264.25,1947.49 1265.05,1946.67 1265.85,1945.86 1266.66,1945.05 1267.46,1944.26 1268.26,1943.49 1269.07,1942.72 1269.87,1941.97 1270.68,1941.23 1271.48,1940.5 1272.28,1939.78 1273.09,1939.08 1273.89,1938.39 1274.69,1937.71 1275.5,1937.05 1276.3,1936.4 1277.1,1935.76 1277.91,1935.13 1278.71,1934.52 1279.51,1933.92 1280.32,1933.33 1281.12,1932.76 1281.92,1932.2 1282.73,1931.65 1283.53,1931.11 1284.34,1930.59 1285.14,1930.09 1285.94,1929.59 1286.75,1929.12 1287.55,1928.65 1288.35,1928.2 1289.16,1927.76 1289.96,1927.33 1290.76,1926.92 1291.57,1926.53 1292.37,1926.14 1293.17,1925.77 1293.98,1925.42 1294.78,1925.08 1295.58,1924.75 1296.39,1924.44 1297.19,1924.14 1298,1923.86 1298.8,1923.59 1299.6,1923.33 1300.41,1923.09 1301.21,1922.86 1302.01,1922.65 1302.82,1922.45 1303.62,1922.26 1304.42,1922.09 1305.23,1921.94 1306.03,1921.79 1306.83,1921.67 1307.64,1921.55 1308.44,1921.45 1309.24,1921.37 1310.05,1921.3 1310.85,1921.24 1311.66,1921.2 1312.46,1921.17 1313.26,1921.16 1314.07,1921.16 1314.87,1921.18 1315.67,1921.21 1316.48,1921.25 1317.28,1921.31 1318.08,1921.38 1318.89,1921.47 1319.69,1921.57 1320.49,1921.69 1321.3,1921.82 1322.1,1921.96 1322.91,1922.12 1323.71,1922.29 1324.51,1922.48 1325.32,1922.68 1326.12,1922.9 1326.92,1923.12 1327.73,1923.37 1328.53,1923.62 1329.33,1923.89 1330.14,1924.18 1330.94,1924.48 1331.74,1924.79 1332.55,1925.11 1333.35,1925.45 1334.15,1925.81 1334.96,1926.17 1335.76,1926.55 1336.57,1926.95 1337.37,1927.35 1338.17,1927.77 1338.98,1928.21 1339.78,1928.66 1340.58,1929.12 1341.39,1929.59 1342.19,1930.08 1342.99,1930.58 1343.8,1931.09 1344.6,1931.62 1345.4,1932.15 1346.21,1932.71 1347.01,1933.27 1347.81,1933.85 1348.62,1934.44 1349.42,1935.04 1350.23,1935.65 1351.03,1936.28 1351.83,1936.92 1352.64,1937.57 1353.44,1938.23 1354.24,1938.91 1355.05,1939.6 1355.85,1940.3 1356.65,1941.01 1357.46,1941.73 1358.26,1942.46 1359.06,1943.21 1359.87,1943.97 1360.67,1944.73 1361.47,1945.51 1362.28,1946.31 1363.08,1947.11 1363.89,1947.92 1364.69,1948.74 1365.49,1949.58 1366.3,1950.42 1367.1,1951.28 1367.9,1952.15 1368.71,1953.02 1369.51,1953.91 1370.31,1954.81 1371.12,1955.71 1371.92,1956.63 1372.72,1957.56 1373.53,1958.49 1374.33,1959.44 1375.13,1960.39 1375.94,1961.36 1376.74,1962.33 1377.55,1963.32 1378.35,1964.31 1379.15,1965.31 1379.96,1966.32 1380.76,1967.34 1381.56,1968.37 1382.37,1969.4 1383.17,1970.45 1383.97,1971.5 1384.78,1972.56 1385.58,1973.63 1386.38,1974.7 1387.19,1975.78 1387.99,1976.88 1388.79,1977.97 1389.6,1979.08 1390.4,1980.19 1391.21,1981.31 1392.01,1982.44 1392.81,1983.57 1393.62,1984.71 1394.42,1985.86 1395.22,1987.01 1396.03,1988.17 1396.83,1989.34 1397.63,1990.51 1398.44,1991.69 1399.24,1992.87 1400.04,1994.06 1400.85,1995.25 1401.65,1996.45 1402.46,1997.65 1403.26,1998.86 1404.06,2000.08 1404.87,2001.3 1405.67,2002.52 1406.47,2003.75 1407.28,2004.98 1408.08,2006.22 1408.88,2007.46 1409.69,2008.7 1410.49,2009.95 1411.29,2011.2 1412.1,2012.45 1412.9,2013.71 1413.7,2014.97 1414.51,2016.24 1415.31,2017.51 1416.12,2018.78 1416.92,2020.05 1417.72,2021.32 1418.53,2022.6 1419.33,2023.88 1420.13,2025.16 1420.94,2026.44 1421.74,2027.73 1422.54,2029.01 1423.35,2030.3 1424.15,2031.59 1424.95,2032.88 1425.76,2034.17 1426.56,2035.46 1427.36,2036.76 1428.17,2038.05 1428.97,2039.34 1429.78,2040.64 1430.58,2041.93 1431.38,2043.22 1432.19,2044.52 1432.99,2045.81 1433.79,2047.1 1434.6,2048.4 1435.4,2049.69" fill="none" stroke="#d95319" stroke-width="3.5" stroke-linejoin="round" />
<polyline points="230.9,2127 231.7,2125.41 232.51,2123.82 233.31,2122.22 234.11,2120.61 234.92,2119 235.72,2117.37 236.52,2115.74 237.33,2114.1 238.13,2112.46 238.94,2110.8 239.74,2109.14 240.54,2107.48 241.35,2105.8 242.15,2104.13 242.95,2102.44 243.76,2100.75 244.56,2099.06 245.36,2097.36 246.17,2095.65 246.97,2093.94 247.77,2092.23 248.58,2090.51 249.38,2088.79 250.18,2087.06 250.99,2085.33 251.79,2083.6 252.6,2081.86 253.4,2080.12 254.2,2078.38 255.01,2076.63 255.81,2074.88 256.61,2073.13 257.42,2071.38 258.22,2069.63 259.02,2067.87 259.83,2066.12 260.63,2064.36 261.43,2062.6 262.24,2060.84 263.04,2059.08 263.84,2057.32 264.65,2055.56 265.45,2053.8 266.26,2052.04 267.06,2050.29 267.86,2048.53 268.67,2046.77 269.47,2045.02 270.27,2043.26 271.08,2041.51 271.88,2039.76 272.68,2038.01 273.49,2036.27 274.29,2034.52 275.09,2032.78 275.9,2031.04 276.7,2029.31 277.51,2027.58 278.31,2025.85 279.11,2024.13 279.92,2022.41 280.72,2020.69 281.52,2018.98 282.33,2017.28 283.13,2015.57 283.93,2013.88 284.74,2012.19 285.54,2010.5 286.34,2008.82 287.15,2007.14 287.95,2005.48 288.75,2003.81 289.56,2002.16 290.36,2000.51 291.17,1998.87 291.97,1997.23 292.77,1995.6 293.58,1993.98 294.38,1992.37 295.18,1990.76 295.99,1989.16 296.79,1987.58 297.59,1985.99 298.4,1984.42 299.2,1982.86 300,1981.3 300.81,1979.76 301.61,1978.22 302.41,1976.69 303.22,1975.17 304.02,1973.67 304.83,1972.17 305.63,1970.68 306.43,1969.2 307.24,1967.74 308.04,1966.28 308.84,1964.83 309.65,1963.4 310.45,1961.98 311.25,1960.56 312.06,1959.16 312.86,1957.77 313.66,1956.4 314.47,1955.03 315.27,1953.68 316.07,1952.34 316.88,1951.01 317.68,1949.69 318.49,1948.39 319.29,1947.1 320.09,1945.82 320.9,1944.55 321.7,1943.3 322.5,1942.06 323.31,1940.84 324.11,1939.63 324.91,1938.43 325.72,1937.25 326.52,1936.08 327.32,1934.93 328.13,1933.79 328.93,1932.66 329.73,1931.55 330.54,1930.45 331.34,1929.37 332.15,1928.3 332.95,1927.25 333.75,1926.22 334.56,1925.19 335.36,1924.19 336.16,1923.2 336.97,1922.22 337.77,1921.26 338.57,1920.32 339.38,1919.39 340.18,1918.48 340.98,1917.59 341.79,1916.71 342.59,1915.85 343.39,1915 344.2,1914.17 345,1913.36 345.81,1912.56 346.61,1911.78 347.41,1911.02 348.22,1910.28 349.02,1909.55 349.82,1908.83 350.63,1908.14 351.43,1907.46 352.23,1906.8 353.04,1906.16 353.84,1905.53 354.64,1904.93 355.45,1904.34 356.25,1903.76 357.06,1903.21 357.86,1902.67 358.66,1902.15 359.47,1901.65 360.27,1901.16 361.07,1900.7 361.88,1900.25 362.68,1899.82 363.48,1899.41 364.29,1899.01 365.09,1898.63 365.89,1898.28 366.7,1897.94 367.5,1897.61 368.3,1897.31 369.11,1897.02 369.91,1896.75 370.72,1896.51 371.52,1896.27 372.32,1896.06 373.13,1895.87 373.93,1895.69 374.73,1895.53 375.54,1895.39 376.34,1895.27 377.14,1895.17 377.95,1895.08 378.75,1895.01 379.55,1894.96 380.36,1894.93 381.16,1894.92 381.96,1894.93 382.77,1894.95 383.57,1894.99 384.38,1895.05 385.18,1895.13 385.98,1895.23 386.79,1895.34 387.59,1895.48 388.39,1895.63 389.2,1895.8 390,1895.98 390.8,1896.19 391.61,1896.41 392.41,1896.65 393.21,1896.91 394.02,1897.18 394.82,1897.48 395.62,1897.79 396.43,1898.12 397.23,1898.46 398.04,1898.83 398.84,1899.21 399.64,1899.61 400.45,1900.02 401.25,1900.46 402.05,1900.91 402.86,1901.37 403.66,1901.86 404.46,1902.36 405.27,1902.88 406.07,1903.41 406.87,1903.96 407.68,1904.53 408.48,1905.12 409.28,1905.72 410.09,1906.34 410.89,1906.97 411.7,1907.62 412.5,1908.29 413.3,1908.97 414.11,1909.67 414.91,1910.38 415.71,1911.11 416.52,1911.86 417.32,1912.62 418.12,1913.4 418.93,1914.19 419.73,1915 420.53,1915.82 421.34,1916.66 422.14,1917.51 422.95,1918.37 423.75,1919.26 424.55,1920.15 425.36,1921.06 426.16,1921.99 426.96,1922.93 427.77,1923.88 428.57,1924.85 429.37,1925.83 430.18,1926.82 430.98,1927.83 431.78,1928.85 432.59,1929.89 433.39,1930.93 434.19,1931.99 435,1933.07 435.8,1934.15 436.61,1935.25 437.41,1936.36 438.21,1937.49 439.02,1938.62 439.82,1939.77 440.62,1940.93 441.43,1942.1 442.23,1943.28 443.03,1944.48 443.84,1945.68 444.64,1946.9 445.44,1948.13 446.25,1949.37 447.05,1950.62 447.85,1951.88 448.66,1953.15 449.46,1954.42 450.27,1955.71 451.07,1957.01 451.87,1958.32 452.68,1959.64 453.48,1960.97 454.28,1962.31 455.09,1963.65 455.89,1965.01 456.69,1966.37 457.5,1967.75 458.3,1969.13 459.1,1970.52 459.91,1971.91 460.71,1973.32 461.51,1974.73 462.32,1976.15 463.12,1977.58 463.93,1979.01 464.73,1980.45 465.53,1981.9 466.34,1983.35 467.14,1984.81 467.94,1986.28 468.75,1987.75 469.55,1989.23 470.35,1990.72 471.16,1992.21 471.96,1993.7 472.76,1995.2 473.57,1996.71 474.37,1998.22 475.17,1999.74 475.98,2001.25 476.78,2002.78 477.59,2004.31 478.39,2005.84 479.19,2007.37 480,2008.91 480.8,2010.45 481.6,2012 482.41,2013.54 483.21,2015.09 484.01,2016.65 484.82,2018.2 485.62,2019.76 486.42,2021.32 487.23,2022.88 488.03,2024.44 488.83,2026.01 489.64,2027.57 490.44,2029.14 491.25,2030.71 492.05,2032.28 492.85,2033.85 493.66,2035.42 494.46,2036.98 495.26,2038.55 496.07,2040.12 496.87,2041.69 497.67,2043.26 498.48,2044.83 499.28,2046.39 500.08,2047.96 500.89,2049.52 501.69,2051.08 502.5,2052.64 503.3,2054.2 504.1,2055.76 504.91,2057.31 505.71,2058.86 506.51,2060.41 507.32,2061.96 508.12,2063.5 508.92,2065.04 509.73,2066.58 510.53,2068.11 511.33,2069.64 512.14,2071.16 512.94,2072.68 513.74,2074.2 514.55,2075.71 515.35,2077.22 516.16,2078.72 516.96,2080.22 517.76,2081.72 518.57,2083.2 519.37,2084.69 520.17,2086.16 520.98,2087.63 521.78,2089.1 522.58,2090.56 523.39,2092.01 524.19,2093.46 524.99,2094.89 525.8,2096.33 526.6,2097.75 527.4,2099.17 528.21,2100.58 529.01,2101.99 529.82,2103.38 530.62,2104.77 531.42,2106.15 532.23,2107.52 533.03,2108.89 533.83,2110.24 534.64,2111.59 535.44,2112.93 536.24,2114.26 537.05,2115.58 537.85,2116.89 538.65,2118.19 539.46,2119.49 540.26,2120.77 541.06,2122.05 541.87,2123.31 542.67,2124.56 543.48,2125.81 544.28,2127.04 545.08,2128.26 545.89,2129.48 546.69,2130.68 547.49,2131.87 548.3,2133.05 549.1,2134.22 549.9,2135.38 550.71,2136.52 551.51,2137.66 552.31,2138.78 553.12,2139.89 553.92,2140.99 554.72,2142.08 555.53,2143.16 556.33,2144.22 557.14,2145.27 557.94,2146.31 558.74,2147.34 559.55,2148.35 560.35,2149.36 561.15,2150.34 561.96,2151.32 562.76,2152.28 563.56,2153.23 564.37,2154.17 565.17,2155.09 565.97,2156 566.78,2156.9 567.58,2157.78 568.38,2158.65 569.19,2159.5 569.99,2160.35 570.8,2161.17 571.6,2161.99 572.4,2162.79 573.21,2163.57 574.01,2164.34 574.81,2165.1 575.62,2165.84 576.42,2166.57 577.22,2167.28 578.03,2167.98 578.83,2168.66 579.63,2169.33 580.44,2169.98 581.24,2170.62 582.05,2171.25 582.85,2171.85 583.65,2172.45 584.46,2173.03 585.26,2173.59 586.06,2174.14 586.87,2174.67 587.67,2175.19 588.47,2175.69 589.28,2176.18 590.08,2176.65 590.88,2177.1 591.69,2177.54 592.49,2177.97 593.29,2178.38 594.1,2178.77 594.9,2179.15 595.71,2179.51 596.51,2179.85 597.31,2180.18 598.12,2180.5 598.92,2180.8 599.72,2181.08 600.53,2181.35 601.33,2181.6 602.13,2181.83 602.94,2182.05 603.74,2182.25 604.54,2182.44 605.35,2182.61 606.15,2182.77 606.95,2182.91 607.76,2183.03 608.56,2183.14 609.37,2183.23 610.17,2183.3 610.97,2183.36 611.78,2183.41 612.58,2183.44 613.38,2183.45 614.19,2183.44 614.99,2183.42 615.79,2183.39 616.6,2183.34 617.4,2183.27 618.2,2183.18 619.01,2183.09 619.81,2182.97 620.61,2182.84 621.42,2182.69 622.22,2182.53 623.03,2182.35 623.83,2182.16 624.63,2181.95 625.44,2181.73 626.24,2181.49 627.04,2181.23 627.85,2180.96 628.65,2180.68 629.45,2180.37 630.26,2180.06 631.06,2179.73 631.86,2179.38 632.67,2179.02 633.47,2178.64 634.27,2178.25 635.08,2177.84 635.88,2177.42 636.69,2176.98 637.49,2176.53 638.29,2176.07 639.1,2175.59 639.9,2175.09 640.7,2174.58 641.51,2174.06 642.31,2173.52 643.11,2172.97 643.92,2172.4 644.72,2171.82 645.52,2171.22 646.33,2170.62 647.13,2169.99 647.94,2169.36 648.74,2168.71 649.54,2168.04 650.35,2167.37 651.15,2166.68 651.95,2165.97 652.76,2165.26 653.56,2164.53 654.36,2163.78 655.17,2163.03 655.97,2162.26 656.77,2161.48 657.58,2160.68 658.38,2159.88 659.18,2159.06 659.99,2158.23 660.79,2157.39 661.6,2156.53 662.4,2155.66 663.2,2154.78 664.01,2153.89 664.81,2152.99 665.61,2152.08 666.42,2151.15 667.22,2150.22 668.02,2149.27 668.83,2148.31 669.63,2147.34 670.43,2146.36 671.24,2145.37 672.04,2144.37 672.84,2143.35 673.65,2142.33 674.45,2141.3 675.26,2140.26 676.06,2139.2 676.86,2138.14 677.67,2137.07 678.47,2135.99 679.27,2134.9 680.08,2133.8 680.88,2132.69 681.68,2131.57 682.49,2130.45 683.29,2129.31 684.09,2128.17 684.9,2127.01 685.7,2125.85 686.5,2124.68 687.31,2123.51 688.11,2122.32 688.92,2121.13 689.72,2119.93 690.52,2118.72 691.33,2117.51 692.13,2116.29 692.93,2115.06 693.74,2113.83 694.54,2112.58 695.34,2111.33 696.15,2110.08 696.95,2108.82 697.75,2107.55 698.56,2106.28 699.36,2105 700.16,2103.72 700.97,2102.43 701.77,2101.13 702.58,2099.83 703.38,2098.53 704.18,2097.22 704.99,2095.9 705.79,2094.58 706.59,2093.26 707.4,2091.93 708.2,2090.6 709,2089.27 709.81,2087.93 710.61,2086.58 711.41,2085.24 712.22,2083.89 713.02,2082.54 713.82,2081.18 714.63,2079.82 715.43,2078.46 716.24,2077.1 717.04,2075.73 717.84,2074.37 718.65,2073 719.45,2071.63 720.25,2070.25 721.06,2068.88 721.86,2067.5 722.66,2066.12 723.47,2064.75 724.27,2063.37 725.07,2061.99 725.88,2060.61 726.68,2059.23 727.49,2057.85 728.29,2056.47 729.09,2055.09 729.9,2053.71 730.7,2052.33 731.5,2050.95 732.31,2049.57 733.11,2048.19 733.91,2046.81 734.72,2045.44 735.52,2044.06 736.32,2042.69 737.13,2041.32 737.93,2039.95 738.73,2038.58 739.54,2037.22 740.34,2035.86 741.15,2034.5 741.95,2033.14 742.75,2031.78 743.56,2030.43 744.36,2029.08 745.16,2027.74 745.97,2026.39 746.77,2025.06 747.57,2023.72 748.38,2022.39 749.18,2021.06 749.98,2019.74 750.79,2018.42 751.59,2017.11 752.39,2015.8 753.2,2014.49 754,2013.19 754.81,2011.89 755.61,2010.6 756.41,2009.32 757.22,2008.04 758.02,2006.77 758.82,2005.5 759.63,2004.24 760.43,2002.98 761.23,2001.73 762.04,2000.48 762.84,1999.25 763.64,1998.02 764.45,1996.79 765.25,1995.57 766.05,1994.36 766.86,1993.16 767.66,1991.96 768.47,1990.77 769.27,1989.59 770.07,1988.42 770.88,1987.25 771.68,1986.09 772.48,1984.94 773.29,1983.8 774.09,1982.67 774.89,1981.54 775.7,1980.42 776.5,1979.31 777.3,1978.21 778.11,1977.12 778.91,1976.04 779.71,1974.97 780.52,1973.9 781.32,1972.85 782.13,1971.8 782.93,1970.76 783.73,1969.74 784.54,1968.72 785.34,1967.71 786.14,1966.72 786.95,1965.73 787.75,1964.75 788.55,1963.78 789.36,1962.83 790.16,1961.88 790.96,1960.95 791.77,1960.02 792.57,1959.11 793.37,1958.2 794.18,1957.31 794.98,1956.43 795.79,1955.56 796.59,1954.7 797.39,1953.85 798.2,1953.01 799,1952.19 799.8,1951.38 800.61,1950.57 801.41,1949.78 802.21,1949 803.02,1948.24 803.82,1947.48 804.62,1946.74 805.43,1946.01 806.23,1945.29 807.04,1944.58 807.84,1943.89 808.64,1943.2 809.45,1942.53 810.25,1941.88 811.05,1941.23 811.86,1940.6 812.66,1939.98 813.46,1939.37 814.27,1938.78 815.07,1938.2 815.87,1937.63 816.68,1937.07 817.48,1936.53 818.28,1936 819.09,1935.48 819.89,1934.98 820.7,1934.49 821.5,1934.01 822.3,1933.55 823.11,1933.09 823.91,1932.66 824.71,1932.23 825.52,1931.82 826.32,1931.42 827.12,1931.04 827.93,1930.67 828.73,1930.31 829.53,1929.97 830.34,1929.64 831.14,1929.32 831.94,1929.02 832.75,1928.73 833.55,1928.45 834.36,1928.19 835.16,1927.94 835.96,1927.71 836.77,1927.49 837.57,1927.28 838.37,1927.09 839.18,1926.91 839.98,1926.74 840.78,1926.59 841.59,1926.45 842.39,1926.32 843.19,1926.21 844,1926.12 844.8,1926.03 845.6,1925.96 846.41,1925.9 847.21,1925.86 848.02,1925.83 848.82,1925.82 849.62,1925.82 850.43,1925.83 851.23,1925.85 852.03,1925.89 852.84,1925.95 853.64,1926.01 854.44,1926.09 855.25,1926.19 856.05,1926.29 856.85,1926.41 857.66,1926.55 858.46,1926.7 859.26,1926.86 860.07,1927.03 860.87,1927.22 861.68,1927.42 862.48,1927.63 863.28,1927.86 864.09,1928.1 864.89,1928.36 865.69,1928.62 866.5,1928.9 867.3,1929.2 868.1,1929.5 868.91,1929.82 869.71,1930.15 870.51,1930.5 871.32,1930.86 872.12,1931.23 872.93,1931.61 873.73,1932 874.53,1932.41 875.34,1932.83 876.14,1933.27 876.94,1933.71 877.75,1934.17 878.55,1934.64 879.35,1935.12 880.16,1935.62 880.96,1936.12 881.76,1936.64 882.57,1937.17 883.37,1937.71 884.17,1938.27 884.98,1938.83 885.78,1939.41 886.59,1940 887.39,1940.6 888.19,1941.21 889,1941.83 889.8,1942.46 890.6,1943.11 891.41,1943.76 892.21,1944.43 893.01,1945.11 893.82,1945.8 894.62,1946.5 895.42,1947.21 896.23,1947.93 897.03,1948.66 897.83,1949.4 898.64,1950.15 899.44,1950.91 900.25,1951.68 901.05,1952.46 901.85,1953.26 902.66,1954.06 903.46,1954.87 904.26,1955.69 905.07,1956.52 905.87,1957.36 906.67,1958.2 907.48,1959.06 908.28,1959.93 909.08,1960.8 909.89,1961.69 910.69,1962.58 911.49,1963.48 912.3,1964.39 913.1,1965.31 913.91,1966.23 914.71,1967.17 915.51,1968.11 916.32,1969.06 917.12,1970.02 917.92,1970.99 918.73,1971.96 919.53,1972.94 920.33,1973.93 921.14,1974.92 921.94,1975.93 922.74,1976.94 923.55,1977.95 924.35,1978.97 925.15,1980 925.96,1981.04 926.76,1982.08 927.57,1983.13 928.37,1984.19 929.17,1985.25 929.98,1986.31 930.78,1987.39 931.58,1988.46 932.39,1989.55 933.19,1990.64 933.99,1991.73 934.8,1992.83 935.6,1993.93 936.4,1995.04 937.21,1996.16 938.01,1997.27 938.81,1998.4 939.62,1999.52 940.42,2000.66 941.23,2001.79 942.03,2002.93 942.83,2004.07 943.64,2005.22 944.44,2006.37 945.24,2007.52 946.05,2008.68 946.85,2009.84 947.65,2011 948.46,2012.17 949.26,2013.34 950.06,2014.51 950.87,2015.68 951.67,2016.86 952.48,2018.03 953.28,2019.21 954.08,2020.4 954.89,2021.58 955.69,2022.77 956.49,2023.95 957.3,2025.14 958.1,2026.33 958.9,2027.52 959.71,2028.71 960.51,2029.91 961.31,2031.1 962.12,2032.29 962.92,2033.49 963.72,2034.68 964.53,2035.88 965.33,2037.07 966.14,2038.27 966.94,2039.46 967.74,2040.65 968.55,2041.85 969.35,2043.04 970.15,2044.23 970.96,2045.42 971.76,2046.61 972.56,2047.8 973.37,2048.99 974.17,2050.18 974.97,2051.36 975.78,2052.55 976.58,2053.73 977.38,2054.91 978.19,2056.08 978.99,2057.26 979.8,2058.43 980.6,2059.6 981.4,2060.77 982.21,2061.94 983.01,2063.1 983.81,2064.26 984.62,2065.41 985.42,2066.57 986.22,2067.72 987.03,2068.86 987.83,2070.01 988.63,2071.15 989.44,2072.28 990.24,2073.41 991.04,2074.54 991.85,2075.66 992.65,2076.78 993.46,2077.89 994.26,2079 995.06,2080.11 995.87,2081.21 996.67,2082.3 997.47,2083.39 998.28,2084.48 999.08,2085.56 999.88,2086.63 1000.69,2087.7 1001.49,2088.77 1002.29,2089.82 1003.1,2090.88 1003.9,2091.92 1004.7,2092.96 1005.51,2093.99 1006.31,2095.02 1007.12,2096.04 1007.92,2097.06 1008.72,2098.07 1009.53,2099.07 1010.33,2100.06 1011.13,2101.05 1011.94,2102.03 1012.74,2103 1013.54,2103.97 1014.35,2104.93 1015.15,2105.88 1015.95,2106.82 1016.76,2107.76 1017.56,2108.69 1018.36,2109.61 1019.17,2110.52 1019.97,2111.43 1020.78,2112.33 1021.58,2113.22 1022.38,2114.1 1023.19,2114.97 1023.99,2115.83 1024.79,2116.69 1025.6,2117.54 1026.4,2118.37 1027.2,2119.2 1028.01,2120.03 1028.81,2120.84 1029.61,2121.64 1030.42,2122.43 1031.22,2123.22 1032.03,2123.99 1032.83,2124.76 1033.63,2125.52 1034.44,2126.26 1035.24,2127 1036.04,2127.73 1036.85,2128.45 1037.65,2129.16 1038.45,2129.86 1039.26,2130.55 1040.06,2131.23 1040.86,2131.89 1041.67,2132.55 1042.47,2133.2 1043.27,2133.84 1044.08,2134.47 1044.88,2135.09 1045.69,2135.7 1046.49,2136.29 1047.29,2136.88 1048.1,2137.46 1048.9,2138.02 1049.7,2138.58 1050.51,2139.12 1051.31,2139.66 1052.11,2140.18 1052.92,2140.69 1053.72,2141.2 1054.52,2141.69 1055.33,2142.17 1056.13,2142.63 1056.93,2143.09 1057.74,2143.54 1058.54,2143.98 1059.35,2144.4 1060.15,2144.81 1060.95,2145.22 1061.76,2145.61 1062.56,2145.99 1063.36,2146.35 1064.17,2146.71 1064.97,2147.06 1065.77,2147.39 1066.58,2147.71 1067.38,2148.03 1068.18,2148.33 1068.99,2148.61 1069.79,2148.89 1070.59,2149.16 1071.4,2149.41 1072.2,2149.65 1073.01,2149.89 1073.81,2150.11 1074.61,2150.31 1075.42,2150.51 1076.22,2150.69 1077.02,2150.87 1077.83,2151.03 1078.63,2151.18 1079.43,2151.32 1080.24,2151.45 1081.04,2151.56 1081.84,2151.66 1082.65,2151.76 1083.45,2151.84 1084.25,2151.91 1085.06,2151.96 1085.86,2152.01 1086.67,2152.04 1087.47,2152.07 1088.27,2152.08 1089.08,2152.08 1089.88,2152.07 1090.68,2152.04 1091.49,2152.01 1092.29,2151.96 1093.09,2151.9 1093.9,2151.83 1094.7,2151.75 1095.5,2151.66 1096.31,2151.56 1097.11,2151.44 1097.92,2151.32 1098.72,2151.18 1099.52,2151.03 1100.33,2150.87 1101.13,2150.7 1101.93,2150.52 1102.74,2150.33 1103.54,2150.12 1104.34,2149.91 1105.15,2149.68 1105.95,2149.44 1106.75,2149.19 1107.56,2148.93 1108.36,2148.66 1109.16,2148.38 1109.97,2148.09 1110.77,2147.79 1111.58,2147.47 1112.38,2147.15 1113.18,2146.82 1113.99,2146.47 1114.79,2146.12 1115.59,2145.75 1116.4,2145.37 1117.2,2144.99 1118,2144.59 1118.81,2144.18 1119.61,2143.76 1120.41,2143.34 1121.22,2142.9 1122.02,2142.45 1122.82,2141.99 1123.63,2141.53 1124.43,2141.05 1125.24,2140.56 1126.04,2140.07 1126.84,2139.56 1127.65,2139.04 1128.45,2138.52 1129.25,2137.98 1130.06,2137.44 1130.86,2136.89 1131.66,2136.32 1132.47,2135.75 1133.27,2135.17 1134.07,2134.58 1134.88,2133.98 1135.68,2133.37 1136.48,2132.76 1137.29,2132.13 1138.09,2131.5 1138.9,2130.86 1139.7,2130.21 1140.5,2129.55 1141.31,2128.88 1142.11,2128.21 1142.91,2127.52 1143.72,2126.83 1144.52,2126.13 1145.32,2125.42 1146.13,2124.71 1146.93,2123.99 1147.73,2123.26 1148.54,2122.52 1149.34,2121.77 1150.14,2121.02 1150.95,2120.26 1151.75,2119.49 1152.56,2118.72 1153.36,2117.94 1154.16,2117.15 1154.97,2116.36 1155.77,2115.56 1156.57,2114.75 1157.38,2113.93 1158.18,2113.11 1158.98,2112.29 1159.79,2111.45 1160.59,2110.62 1161.39,2109.77 1162.2,2108.92 1163,2108.06 1163.8,2107.2 1164.61,2106.33 1165.41,2105.46 1166.22,2104.58 1167.02,2103.7 1167.82,2102.81 1168.63,2101.91 1169.43,2101.01 1170.23,2100.11 1171.04,2099.2 1171.84,2098.28 1172.64,2097.37 1173.45,2096.44 1174.25,2095.52 1175.05,2094.59 1175.86,2093.65 1176.66,2092.71 1177.47,2091.77 1178.27,2090.82 1179.07,2089.87 1179.88,2088.91 1180.68,2087.96 1181.48,2087 1182.29,2086.03 1183.09,2085.06 1183.89,2084.09 1184.7,2083.12 1185.5,2082.14 1186.3,2081.16 1187.11,2080.18 1187.91,2079.2 1188.71,2078.21 1189.52,2077.22 1190.32,2076.23 1191.13,2075.24 1191.93,2074.24 1192.73,2073.24 1193.54,2072.24 1194.34,2071.24 1195.14,2070.24 1195.95,2069.24 1196.75,2068.23 1197.55,2067.23 1198.36,2066.22 1199.16,2065.21 1199.96,2064.21 1200.77,2063.2 1201.57,2062.19 1202.37,2061.18 1203.18,2060.17 1203.98,2059.15 1204.79,2058.14 1205.59,2057.13 1206.39,2056.12 1207.2,2055.11 1208,2054.1 1208.8,2053.09 1209.61,2052.08 1210.41,2051.07 1211.21,2050.06 1212.02,2049.05 1212.82,2048.04 1213.62,2047.04 1214.43,2046.03 1215.23,2045.03 1216.03,2044.03 1216.84,2043.03 1217.64,2042.03 1218.45,2041.03 1219.25,2040.03 1220.05,2039.04 1220.86,2038.05 1221.66,2037.06 1222.46,2036.07 1223.27,2035.08 1224.07,2034.1 1224.87,2033.12 1225.68,2032.14 1226.48,2031.17 1227.28,2030.2 1228.09,2029.23 1228.89,2028.26 1229.69,2027.3 1230.5,2026.34 1231.3,2025.38 1232.11,2024.43 1232.91,2023.48 1233.71,2022.53 1234.52,2021.59 1235.32,2020.65 1236.12,2019.71 1236.93,2018.78 1237.73,2017.86 1238.53,2016.93 1239.34,2016.02 1240.14,2015.1 1240.94,2014.19 1241.75,2013.29 1242.55,2012.39 1243.35,2011.49 1244.16,2010.6 1244.96,2009.72 1245.77,2008.84 1246.57,2007.96 1247.37,2007.09 1248.18,2006.22 1248.98,2005.37 1249.78,2004.51 1250.59,2003.66 1251.39,2002.82 1252.19,2001.98 1253,2001.15 1253.8,2000.33 1254.6,1999.51 1255.41,1998.69 1256.21,1997.88 1257.02,1997.08 1257.82,1996.29 1258.62,1995.5 1259.43,1994.72 1260.23,1993.94 1261.03,1993.17 1261.84,1992.41 1262.64,1991.65 1263.44,1990.9 1264.25,1990.16 1265.05,1989.43 1265.85,1988.7 1266.66,1987.98 1267.46,1987.26 1268.26,1986.56 1269.07,1985.86 1269.87,1985.17 1270.68,1984.48 1271.48,1983.8 1272.28,1983.14 1273.09,1982.47 1273.89,1981.82 1274.69,1981.17 1275.5,1980.53 1276.3,1979.9 1277.1,1979.28 1277.91,1978.66 1278.71,1978.06 1279.51,1977.46 1280.32,1976.87 1281.12,1976.29 1281.92,1975.71 1282.73,1975.14 1283.53,1974.59 1284.34,1974.04 1285.14,1973.5 1285.94,1972.96 1286.75,1972.44 1287.55,1971.93 1288.35,1971.42 1289.16,1970.92 1289.96,1970.43 1290.76,1969.95 1291.57,1969.48 1292.37,1969.02 1293.17,1968.56 1293.98,1968.12 1294.78,1967.68 1295.58,1967.25 1296.39,1966.83 1297.19,1966.43 1298,1966.02 1298.8,1965.63 1299.6,1965.25 1300.41,1964.88 1301.21,1964.52 1302.01,1964.16 1302.82,1963.82 1303.62,1963.48 1304.42,1963.15 1305.23,1962.84 1306.03,1962.53 1306.83,1962.23 1307.64,1961.94 1308.44,1961.66 1309.24,1961.39 1310.05,1961.13 1310.85,1960.88 1311.66,1960.63 1312.46,1960.4 1313.26,1960.18 1314.07,1959.97 1314.87,1959.76 1315.67,1959.57 1316.48,1959.38 1317.28,1959.21 1318.08,1959.04 1318.89,1958.88 1319.69,1958.74 1320.49,1958.6 1321.3,1958.47 1322.1,1958.35 1322.91,1958.24 1323.71,1958.14 1324.51,1958.06 1325.32,1957.97 1326.12,1957.9 1326.92,1957.84 1327.73,1957.79 1328.53,1957.75 1329.33,1957.72 1330.14,1957.69 1330.94,1957.68 1331.74,1957.68 1332.55,1957.68 1333.35,1957.7 1334.15,1957.72 1334.96,1957.76 1335.76,1957.8 1336.57,1957.85 1337.37,1957.91 1338.17,1957.98 1338.98,1958.07 1339.78,1958.16 1340.58,1958.25 1341.39,1958.36 1342.19,1958.48 1342.99,1958.61 1343.8,1958.74 1344.6,1958.89 1345.4,1959.04 1346.21,1959.21 1347.01,1959.38 1347.81,1959.56 1348.62,1959.75 1349.42,1959.95 1350.23,1960.16 1351.03,1960.38 1351.83,1960.61 1352.64,1960.84 1353.44,1961.08 1354.24,1961.34 1355.05,1961.6 1355.85,1961.87 1356.65,1962.15 1357.46,1962.44 1358.26,1962.73 1359.06,1963.04 1359.87,1963.35 1360.67,1963.67 1361.47,1964 1362.28,1964.34 1363.08,1964.69 1363.89,1965.04 1364.69,1965.41 1365.49,1965.78 1366.3,1966.16 1367.1,1966.54 1367.9,1966.94 1368.71,1967.34 1369.51,1967.75 1370.31,1968.17 1371.12,1968.6 1371.92,1969.03 1372.72,1969.48 1373.53,1969.93 1374.33,1970.38 1375.13,1970.85 1375.94,1971.32 1376.74,1971.8 1377.55,1972.29 1378.35,1972.78 1379.15,1973.28 1379.96,1973.79 1380.76,1974.31 1381.56,1974.83 1382.37,1975.36 1383.17,1975.9 1383.97,1976.44 1384.78,1976.99 1385.58,1977.54 1386.38,1978.11 1387.19,1978.68 1387.99,1979.25 1388.79,1979.84 1389.6,1980.43 1390.4,1981.02 1391.21,1981.62 1392.01,1982.23 1392.81,1982.84 1393.62,1983.46 1394.42,1984.09 1395.22,1984.72 1396.03,1985.35 1396.83,1986 1397.63,1986.64 1398.44,1987.3 1399.24,1987.96 1400.04,1988.62 1400.85,1989.29 1401.65,1989.96 1402.46,1990.64 1403.26,1991.33 1404.06,1992.02 1404.87,1992.71 1405.67,1993.41 1406.47,1994.12 1407.28,1994.82 1408.08,1995.54 1408.88,1996.26 1409.69,1996.98 1410.49,1997.7 1411.29,1998.43 1412.1,1999.17 1412.9,1999.91 1413.7,2000.65 1414.51,2001.4 1415.31,2002.15 1416.12,2002.9 1416.92,2003.66 1417.72,2004.42 1418.53,2005.18 1419.33,2005.95 1420.13,2006.72 1420.94,2007.5 1421.74,2008.28 1422.54,2009.06 1423.35,2009.84 1424.15,2010.63 1424.95,2011.42 1425.76,2012.21 1426.56,2013 1427.36,2013.8 1428.17,2014.6 1428.97,2015.4 1429.78,2016.2 1430.58,2017.01 1431.38,2017.82 1432.19,2018.63 1432.99,2019.44 1433.79,2020.25 1434.6,2021.07 1435.4,2021.88" fill="none" stroke="#edb120" stroke-width="3.5" stroke-linejoin="round" />
<line x1="384.26" y1="1883.7" x2="1321.6" y2="1917.2" stroke="#dc4f14" stroke-width="4.6" stroke-dasharray="18.4 14.4"/>
<line x1="384.26" y1="1883.7" x2="1320.8" y2="1957.2" stroke="#f2b90f" stroke-width="4.6" stroke-dasharray="18.4 14.4"/>
</g>
<rect x="230.9" y="1883.7" width="1204.5" height="326.3" fill="none" stroke="#262626" stroke-width="1.9"/>
<path d="M614.3,2210v-11.5M614.3,1883.7v11.5M997.71,2210v-11.5M997.71,1883.7v11.5M1381.11,2210v-11.5M1381.11,1883.7v11.5M230.9,2046.85h11.5M1435.4,2046.85h-11.5" stroke="#262626" stroke-width="1.9" fill="none"/>
<text x="211.8" y="1903.4" font-size="56.5" text-anchor="end" >2</text>
<text x="211.8" y="2066.55" font-size="56.5" text-anchor="end" >0</text>
<text x="211.8" y="2229.7" font-size="56.5" text-anchor="end" >-2</text>
<text x="230.9" y="2279.8" font-size="56.5" text-anchor="middle" >0</text>
<text x="614.3" y="2279.8" font-size="56.5" text-anchor="middle" >5</text>
<text x="997.71" y="2279.8" font-size="56.5" text-anchor="middle" >10</text>
<text x="1381.11" y="2279.8" font-size="56.5" text-anchor="middle" >15</text>
<text x="833.6" y="2350.7" font-size="61.5" text-anchor="middle" >Time</text>
<text x="142.7" y="2044.2" font-size="60.7" text-anchor="middle" transform="rotate(-90 142.7 2044.2)">Displacement</text>
<line x1="242" y1="1825.2" x2="384" y2="1825.2" stroke="#0072bd" stroke-width="3.6"/>
<text x="396.56" y="1848.3" font-size="64.5" font-style="italic" fill="#000">μ</text>
<text transform="translate(446.7,1848.3) scale(1.12,1)" font-size="64.5" fill="#000">=</text>
<text x="501.34" y="1848.3" font-size="64.5" fill="#000">0</text>
<line x1="562" y1="1825.2" x2="704" y2="1825.2" stroke="#d95319" stroke-width="3.6"/>
<text x="716.86" y="1848.3" font-size="64.5" font-style="italic" fill="#000">μ</text>
<text transform="translate(767,1848.3) scale(1.12,1)" font-size="64.5" fill="#000">=</text>
<text x="821.64" y="1848.3" font-size="64.5" fill="#000">0.001</text>
<line x1="995.2" y1="1825.2" x2="1136.9" y2="1825.2" stroke="#edb120" stroke-width="3.6"/>
<text x="1150.46" y="1848.3" font-size="64.5" font-style="italic" fill="#000">μ</text>
<text transform="translate(1200.6,1848.3) scale(1.12,1)" font-size="64.5" fill="#000">=</text>
<text x="1255.24" y="1848.3" font-size="64.5" fill="#000">0.002</text>
<text x="758" y="2407.7" font-size="40" text-anchor="middle" fill="#000">(c)</text>
</svg></body></html>
